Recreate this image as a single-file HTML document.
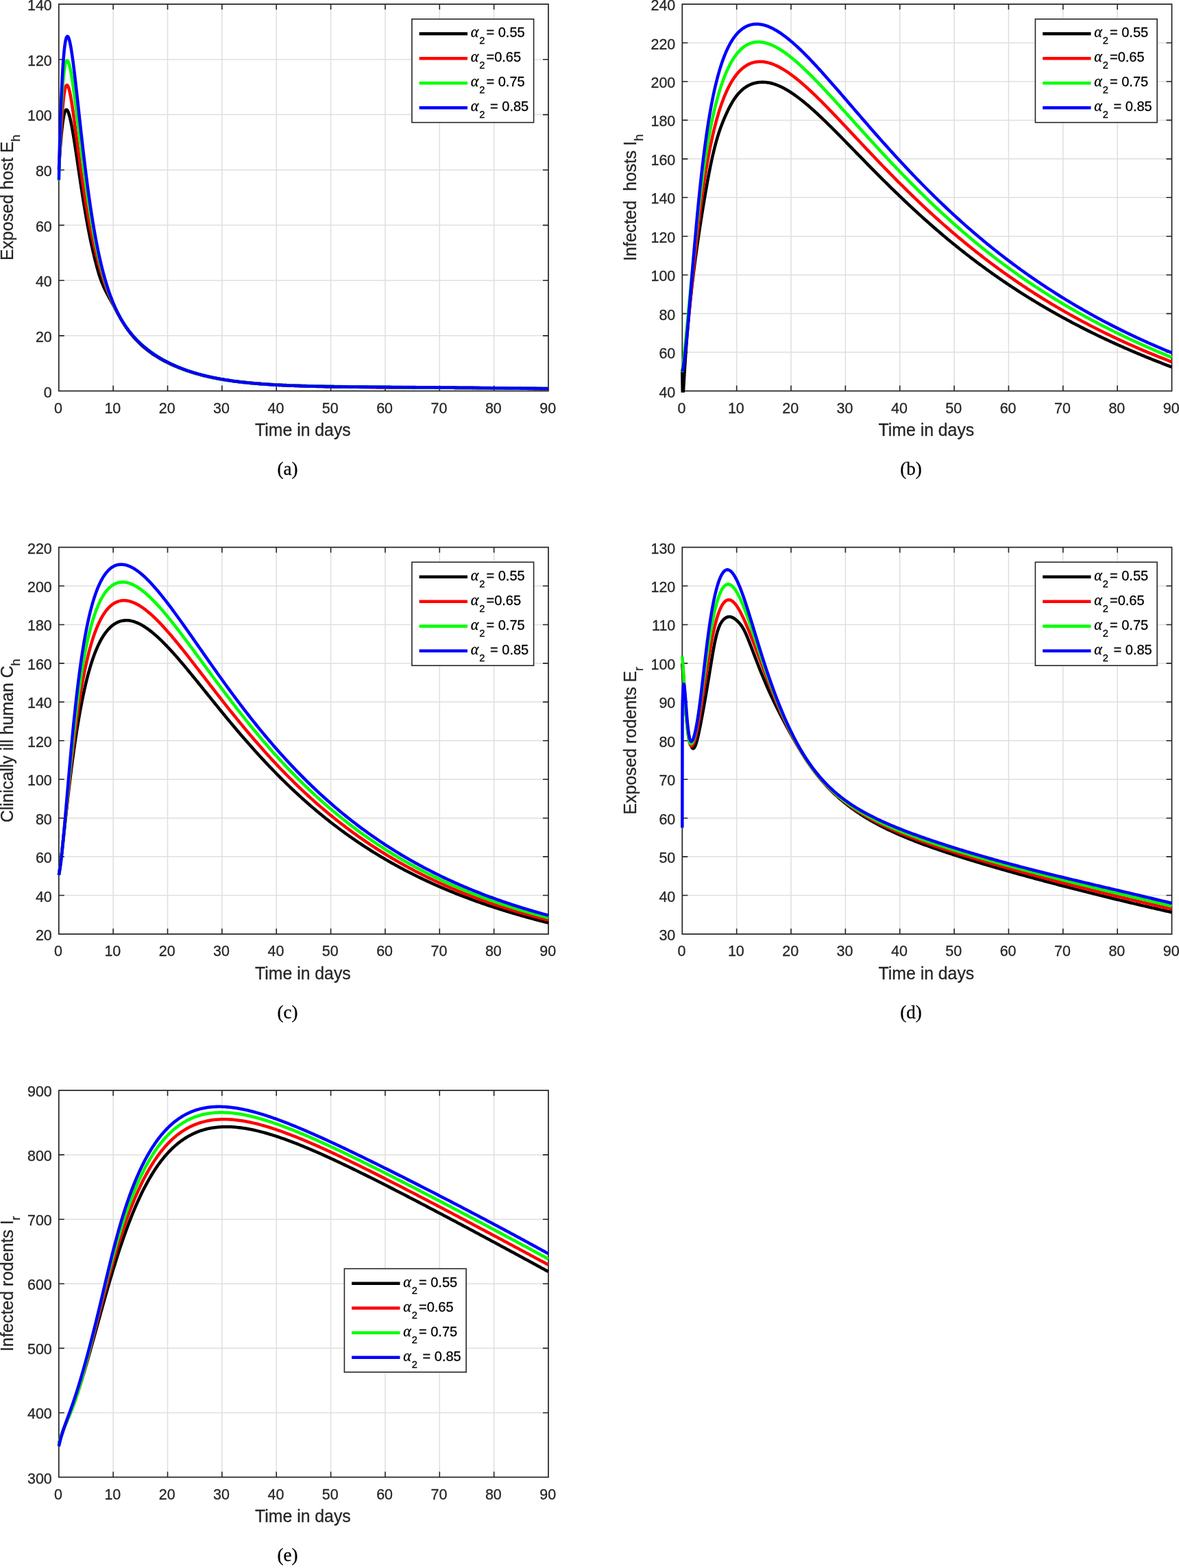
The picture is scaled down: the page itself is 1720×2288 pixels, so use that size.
<!DOCTYPE html>
<html lang="en">
<head>
<meta charset="utf-8">
<title>Effect of fractional order on model compartments</title>
<style>
html,body{margin:0;padding:0;background:#fff}
body{width:1720px;height:2288px;overflow:hidden}
svg{display:block}
text{font-family:"Liberation Sans",sans-serif;fill:#262626;stroke:#262626;stroke-width:0.3px}
.tk text{font-size:21.5px}
.lb{font-size:24.8px}
.sb{font-size:17.8px}
.lg{font-size:20px;fill:#000;stroke:#000}
.s2{font-size:14.6px}
.al{font-family:"Liberation Serif",serif;font-style:italic;font-size:22px}
.cp{font-family:"Liberation Serif",serif;font-size:27px;fill:#000;stroke:#000}
</style>
</head>
<body>
<svg xmlns="http://www.w3.org/2000/svg" width="1720" height="2288" viewBox="0 0 1720 2288">
<rect width="1720" height="2288" fill="#fff"/>
<defs>
<clipPath id="ca"><rect x="83.5" y="3.8" width="718.8" height="569"/></clipPath>
<clipPath id="cb"><rect x="993" y="3.8" width="718.8" height="569"/></clipPath>
<clipPath id="cc"><rect x="83.5" y="796.3" width="718.8" height="569"/></clipPath>
<clipPath id="cd"><rect x="993" y="796.3" width="718.8" height="569"/></clipPath>
<clipPath id="ce"><rect x="83.5" y="1588.8" width="718.8" height="569"/></clipPath>
</defs>
<g>
<path d="M165.16 6.1V570.5M244.51 6.1V570.5M323.87 6.1V570.5M403.22 6.1V570.5M482.58 6.1V570.5M561.93 6.1V570.5M641.29 6.1V570.5M720.64 6.1V570.5M85.8 489.87H800M85.8 409.24H800M85.8 328.61H800M85.8 247.99H800M85.8 167.36H800M85.8 86.73H800" stroke="#dfdfdf" stroke-width="1.5" fill="none"/>
<path d="M165.16 570.5v-8M165.16 6.1v8M244.51 570.5v-8M244.51 6.1v8M323.87 570.5v-8M323.87 6.1v8M403.22 570.5v-8M403.22 6.1v8M482.58 570.5v-8M482.58 6.1v8M561.93 570.5v-8M561.93 6.1v8M641.29 570.5v-8M641.29 6.1v8M720.64 570.5v-8M720.64 6.1v8M85.8 489.87h8M800 489.87h-8M85.8 409.24h8M800 409.24h-8M85.8 328.61h8M800 328.61h-8M85.8 247.99h8M800 247.99h-8M85.8 167.36h8M800 167.36h-8M85.8 86.73h8M800 86.73h-8" stroke="#262626" stroke-width="1.6" fill="none"/>
<rect x="85.8" y="6.1" width="714.2" height="564.4" fill="none" stroke="#262626" stroke-width="1.75"/>
<g clip-path="url(#ca)" fill="none" stroke-width="4.55" stroke-linejoin="round">
<path d="M85.8 247.51L86 244.1L86.2 240.77L86.4 237.53L86.59 234.37L86.79 231.3L86.99 228.31L87.19 225.4L87.39 222.57L87.59 219.82L87.78 217.14L87.98 214.53L88.18 212L88.38 209.53L88.58 207.14L88.78 204.81L88.97 202.55L89.17 200.35L89.37 198.22L89.57 196.15L89.77 194.14L89.97 192.19L90.16 190.31L90.36 188.48L90.56 186.72L90.76 185.01L90.96 183.37L91.16 181.78L91.35 180.25L91.55 178.78L91.75 177.37L91.95 176.02L92.15 174.72L92.35 173.48L92.55 172.3L92.74 171.18L92.94 170.11L93.14 169.1L93.34 168.14L93.54 167.25L93.74 166.4L93.93 165.62L94.13 164.88L94.33 164.21L94.53 163.58L94.73 163.01L94.93 162.5L95.12 162.04L95.32 161.62L95.52 161.26L95.72 160.95L95.92 160.69L96.12 160.48L96.31 160.32L96.51 160.21L96.71 160.14L96.91 160.11L97.11 160.13L97.31 160.19L97.5 160.29L97.7 160.44L97.9 160.62L98.1 160.84L98.3 161.1L98.5 161.39L98.7 161.73L98.89 162.09L99.09 162.49L99.29 162.92L99.49 163.39L99.69 163.88L99.89 164.41L100.08 164.96L100.28 165.55L100.48 166.16L100.68 166.8L100.88 167.46L101.08 168.15L101.27 168.87L101.47 169.6L101.67 170.37L101.87 171.15L102.07 171.96L102.27 172.78L102.46 173.63L102.66 174.5L102.86 175.38L103.06 176.29L103.26 177.21L103.46 178.15L103.66 179.11L103.85 180.09L104.05 181.08L104.25 182.08L104.45 183.11L104.65 184.14L104.85 185.19L105.04 186.26L105.24 187.34L105.44 188.43L105.64 189.53L105.84 190.65L106.04 191.78L106.23 192.92L106.43 194.08L106.63 195.24L106.83 196.42L107.03 197.61L107.23 198.8L107.42 200.01L107.62 201.22L107.82 202.45L108.02 203.68L108.22 204.92L108.42 206.17L108.61 207.42L108.81 208.69L109.01 209.95L109.21 211.23L109.41 212.51L109.61 213.8L109.81 215.09L110 216.39L110.2 217.69L110.4 218.99L110.6 220.3L110.8 221.62L111 222.94L111.19 224.26L111.39 225.58L111.59 226.91L111.79 228.23L111.99 229.57L112.19 230.9L112.38 232.23L112.58 233.57L112.78 234.91L112.98 236.25L113.18 237.58L113.38 238.92L113.57 240.26L113.77 241.6L113.97 242.94L114.17 244.28L114.37 245.62L114.57 246.96L114.76 248.3L114.96 249.64L115.16 250.97L115.36 252.31L115.56 253.64L115.76 254.97L115.96 256.3L116.15 257.63L116.35 258.96L116.55 260.28L116.75 261.6L116.95 262.92L117.15 264.24L117.34 265.55L117.54 266.86L117.74 268.17L117.94 269.47L118.14 270.77L118.34 272.07L118.53 273.37L118.73 274.66L118.93 275.94L119.13 277.23L119.33 278.51L119.53 279.78L119.72 281.05L119.92 282.32L120.12 283.58L120.32 284.84L120.52 286.1L120.72 287.35L120.91 288.6L121.11 289.84L121.31 291.07L121.51 292.31L121.71 293.53L121.91 294.76L122.11 295.97L122.3 297.19L122.5 298.4L122.7 299.6L122.9 300.8L123.1 301.99L123.3 303.18L123.49 304.36L123.69 305.54L123.89 306.72L124.09 307.88L124.29 309.05L124.49 310.2L124.68 311.36L124.88 312.5L125.08 313.64L125.28 314.78L125.48 315.91L125.68 317.04L125.87 318.16L126.07 319.27L126.27 320.38L126.47 321.49L126.67 322.58L126.87 323.68L127.06 324.77L127.26 325.85L127.46 326.92L127.66 328L127.86 329.06L128.06 330.12L128.26 331.18L128.45 332.23L128.65 333.27L128.85 334.31L129.05 335.34L129.25 336.37L129.45 337.39L129.64 338.41L129.84 339.42L130.04 340.43L130.24 341.43L130.44 342.43L130.64 343.42L130.83 344.4L131.03 345.38L131.23 346.35L131.43 347.32L131.63 348.29L131.83 349.25L132.02 350.2L132.22 351.15L132.42 352.09L132.62 353.03L132.82 353.96L133.02 354.89L133.21 355.81L133.41 356.73L135.4 365.62L137.38 374.02L139.37 381.96L141.35 389.47L143.33 396.53L145.32 402.99L147.3 408.75L149.28 413.86L151.27 418.46L153.25 422.69L155.24 426.66L157.22 430.45L159.2 434.14L161.19 437.77L163.17 441.38L165.16 445.02L167.14 448.7L169.12 452.39L171.11 456.05L173.09 459.66L175.07 463.19L177.06 466.62L179.04 469.94L181.03 473.12L183.01 476.17L184.99 479.08L186.98 481.85L188.96 484.51L190.95 487.05L192.93 489.48L194.91 491.81L196.9 494.05L198.88 496.2L200.87 498.26L202.85 500.24L204.83 502.15L206.82 503.99L208.8 505.76L210.78 507.47L212.77 509.12L214.75 510.7L216.74 512.24L218.72 513.72L220.7 515.15L222.69 516.54L224.67 517.88L226.66 519.18L228.64 520.43L230.62 521.65L232.61 522.83L234.59 523.98L236.58 525.09L238.56 526.17L240.54 527.22L242.53 528.25L244.51 529.24L246.5 530.21L248.48 531.15L250.46 532.07L252.45 532.97L254.43 533.84L256.41 534.69L258.4 535.51L260.38 536.32L262.37 537.1L264.35 537.87L266.33 538.61L268.32 539.34L270.3 540.04L272.29 540.73L274.27 541.4L276.25 542.06L278.24 542.69L280.22 543.31L282.21 543.91L284.19 544.5L286.17 545.08L288.16 545.63L290.14 546.18L292.12 546.71L294.11 547.22L296.09 547.72L298.08 548.21L300.06 548.69L302.04 549.15L304.03 549.6L306.01 550.04L308 550.47L309.98 550.89L311.96 551.29L313.95 551.69L315.93 552.07L317.92 552.44L319.9 552.81L321.88 553.16L323.87 553.5L325.85 553.84L327.83 554.16L329.82 554.48L331.8 554.79L333.79 555.08L335.77 555.38L337.75 555.66L339.74 555.93L341.72 556.2L343.71 556.46L345.69 556.71L347.67 556.96L349.66 557.2L351.64 557.43L353.63 557.65L355.61 557.87L357.59 558.09L359.58 558.29L361.56 558.5L363.54 558.69L365.53 558.88L367.51 559.07L369.5 559.25L371.48 559.42L373.46 559.59L375.45 559.76L377.43 559.92L379.42 560.08L381.4 560.23L383.38 560.38L385.37 560.52L387.35 560.66L389.34 560.8L391.32 560.93L393.3 561.06L395.29 561.18L397.27 561.3L399.25 561.42L401.24 561.54L403.22 561.65L405.21 561.76L407.19 561.86L409.17 561.97L411.16 562.06L413.14 562.16L415.13 562.26L417.11 562.35L419.09 562.44L421.08 562.52L423.06 562.61L425.05 562.69L427.03 562.77L429.01 562.84L431 562.92L432.98 562.99L434.96 563.06L436.95 563.13L438.93 563.2L440.92 563.26L442.9 563.33L444.88 563.39L446.87 563.45L448.85 563.51L450.84 563.56L452.82 563.62L454.8 563.67L456.79 563.73L458.77 563.78L460.76 563.83L462.74 563.87L464.72 563.92L466.71 563.96L468.69 564.01L470.67 564.05L472.66 564.09L474.64 564.13L476.63 564.17L478.61 564.21L480.59 564.25L482.58 564.29L484.56 564.32L486.55 564.36L488.53 564.39L490.51 564.42L492.5 564.45L494.48 564.48L496.47 564.51L498.45 564.54L500.43 564.57L502.42 564.6L504.4 564.63L506.38 564.65L508.37 564.68L510.35 564.71L512.34 564.73L514.32 564.75L516.3 564.78L518.29 564.8L520.27 564.82L522.26 564.85L524.24 564.87L526.22 564.89L528.21 564.91L530.19 564.93L532.17 564.95L534.16 564.97L536.14 564.99L538.13 565L540.11 565.02L542.09 565.04L544.08 565.06L546.06 565.07L548.05 565.09L550.03 565.11L552.01 565.12L554 565.14L555.98 565.15L557.97 565.17L559.95 565.18L561.93 565.2L563.92 565.21L565.9 565.23L567.88 565.24L569.87 565.26L571.85 565.27L573.84 565.28L575.82 565.3L577.8 565.31L579.79 565.32L581.77 565.34L583.76 565.35L585.74 565.36L587.72 565.38L589.71 565.39L591.69 565.4L593.68 565.41L595.66 565.43L597.64 565.44L599.63 565.45L601.61 565.46L603.6 565.48L605.58 565.49L607.56 565.5L609.55 565.51L611.53 565.53L613.51 565.54L615.5 565.55L617.48 565.56L619.47 565.57L621.45 565.59L623.43 565.6L625.42 565.61L627.4 565.62L629.39 565.64L631.37 565.65L633.35 565.66L635.34 565.67L637.32 565.69L639.3 565.7L641.29 565.71L643.27 565.72L645.26 565.74L647.24 565.75L649.22 565.76L651.21 565.78L653.19 565.79L655.18 565.8L657.16 565.82L659.14 565.83L661.13 565.84L663.11 565.86L665.1 565.87L667.08 565.89L669.06 565.9L671.05 565.91L673.03 565.93L675.01 565.94L677 565.96L678.98 565.97L680.97 565.99L682.95 566L684.93 566.02L686.92 566.03L688.9 566.05L690.89 566.07L692.87 566.08L694.85 566.1L696.84 566.11L698.82 566.13L700.81 566.15L702.79 566.16L704.77 566.18L706.76 566.2L708.74 566.22L710.73 566.23L712.71 566.25L714.69 566.27L716.68 566.29L718.66 566.31L720.64 566.33L722.63 566.35L724.61 566.36L726.6 566.38L728.58 566.4L730.56 566.42L732.55 566.44L734.53 566.46L736.52 566.49L738.5 566.51L740.48 566.53L742.47 566.55L744.45 566.57L746.44 566.59L748.42 566.61L750.4 566.64L752.39 566.66L754.37 566.68L756.35 566.7L758.34 566.73L760.32 566.75L762.31 566.78L764.29 566.8L766.27 566.82L768.26 566.85L770.24 566.87L772.23 566.9L774.21 566.92L776.19 566.95L778.18 566.98L780.16 567L782.14 567.03L784.13 567.06L786.11 567.08L788.1 567.11L790.08 567.14L792.06 567.17L794.05 567.2L796.03 567.22L798.02 567.25L800 567.28" stroke="#000"/>
<path d="M85.8 246.86L86 243.57L86.2 240.19L86.4 236.76L86.59 233.28L86.79 229.77L86.99 226.24L87.19 222.7L87.39 219.17L87.59 215.64L87.78 212.14L87.98 208.66L88.18 205.22L88.38 201.81L88.58 198.46L88.78 195.15L88.97 191.9L89.17 188.72L89.37 185.59L89.57 182.54L89.77 179.55L89.97 176.64L90.16 173.8L90.36 171.04L90.56 168.35L90.76 165.75L90.96 163.22L91.16 160.78L91.35 158.42L91.55 156.15L91.75 153.95L91.95 151.84L92.15 149.82L92.35 147.87L92.55 146.01L92.74 144.23L92.94 142.54L93.14 140.92L93.34 139.39L93.54 137.94L93.74 136.56L93.93 135.27L94.13 134.05L94.33 132.91L94.53 131.85L94.73 130.86L94.93 129.94L95.12 129.1L95.32 128.33L95.52 127.63L95.72 126.99L95.92 126.43L96.12 125.93L96.31 125.5L96.51 125.13L96.71 124.82L96.91 124.57L97.11 124.39L97.31 124.26L97.5 124.19L97.7 124.18L97.9 124.22L98.1 124.32L98.3 124.47L98.5 124.67L98.7 124.93L98.89 125.23L99.09 125.58L99.29 125.98L99.49 126.42L99.69 126.91L99.89 127.44L100.08 128.01L100.28 128.63L100.48 129.28L100.68 129.97L100.88 130.7L101.08 131.46L101.27 132.26L101.47 133.1L101.67 133.96L101.87 134.86L102.07 135.79L102.27 136.75L102.46 137.74L102.66 138.75L102.86 139.79L103.06 140.86L103.26 141.95L103.46 143.07L103.66 144.21L103.85 145.37L104.05 146.55L104.25 147.75L104.45 148.98L104.65 150.22L104.85 151.48L105.04 152.75L105.24 154.05L105.44 155.35L105.64 156.68L105.84 158.02L106.04 159.37L106.23 160.73L106.43 162.11L106.63 163.5L106.83 164.89L107.03 166.3L107.23 167.72L107.42 169.15L107.62 170.59L107.82 172.03L108.02 173.49L108.22 174.95L108.42 176.41L108.61 177.88L108.81 179.36L109.01 180.85L109.21 182.33L109.41 183.83L109.61 185.32L109.81 186.82L110 188.33L110.2 189.83L110.4 191.34L110.6 192.85L110.8 194.36L111 195.88L111.19 197.39L111.39 198.91L111.59 200.43L111.79 201.94L111.99 203.46L112.19 204.97L112.38 206.49L112.58 208L112.78 209.52L112.98 211.03L113.18 212.54L113.38 214.05L113.57 215.56L113.77 217.06L113.97 218.57L114.17 220.07L114.37 221.56L114.57 223.06L114.76 224.55L114.96 226.04L115.16 227.52L115.36 229L115.56 230.48L115.76 231.95L115.96 233.42L116.15 234.89L116.35 236.35L116.55 237.81L116.75 239.26L116.95 240.71L117.15 242.15L117.34 243.59L117.54 245.02L117.74 246.45L117.94 247.87L118.14 249.29L118.34 250.7L118.53 252.11L118.73 253.51L118.93 254.91L119.13 256.3L119.33 257.69L119.53 259.07L119.72 260.44L119.92 261.81L120.12 263.18L120.32 264.53L120.52 265.89L120.72 267.23L120.91 268.57L121.11 269.91L121.31 271.23L121.51 272.56L121.71 273.87L121.91 275.18L122.11 276.49L122.3 277.78L122.5 279.08L122.7 280.36L122.9 281.64L123.1 282.91L123.3 284.18L123.49 285.44L123.69 286.7L123.89 287.94L124.09 289.19L124.29 290.42L124.49 291.65L124.68 292.88L124.88 294.09L125.08 295.31L125.28 296.51L125.48 297.71L125.68 298.9L125.87 300.09L126.07 301.27L126.27 302.44L126.47 303.61L126.67 304.77L126.87 305.93L127.06 307.08L127.26 308.22L127.46 309.36L127.66 310.49L127.86 311.61L128.06 312.73L128.26 313.85L128.45 314.95L128.65 316.05L128.85 317.15L129.05 318.24L129.25 319.32L129.45 320.4L129.64 321.47L129.84 322.54L130.04 323.6L130.24 324.65L130.44 325.7L130.64 326.74L130.83 327.78L131.03 328.81L131.23 329.83L131.43 330.85L131.63 331.86L131.83 332.87L132.02 333.88L132.22 334.87L132.42 335.86L132.62 336.85L132.82 337.83L133.02 338.8L133.21 339.77L133.41 340.74L135.4 350.09L137.38 358.92L139.37 367.28L141.35 375.18L143.33 382.66L145.32 389.75L147.3 396.47L149.28 402.84L151.27 408.9L153.25 414.67L155.24 420.16L157.22 425.4L159.2 430.4L161.19 435.18L163.17 439.75L165.16 444.12L167.14 448.32L169.12 452.33L171.11 456.18L173.09 459.86L175.07 463.38L177.06 466.75L179.04 469.97L181.03 473.05L183.01 476L184.99 478.82L186.98 481.51L188.96 484.1L190.95 486.57L192.93 488.95L194.91 491.23L196.9 493.43L198.88 495.54L200.87 497.58L202.85 499.54L204.83 501.43L206.82 503.25L208.8 505.01L210.78 506.71L212.77 508.35L214.75 509.94L216.74 511.47L218.72 512.96L220.7 514.4L222.69 515.8L224.67 517.15L226.66 518.47L228.64 519.74L230.62 520.98L232.61 522.18L234.59 523.36L236.58 524.49L238.56 525.6L240.54 526.68L242.53 527.73L244.51 528.76L246.5 529.76L248.48 530.73L250.46 531.69L252.45 532.61L254.43 533.52L256.41 534.4L258.4 535.26L260.38 536.1L262.37 536.92L264.35 537.72L266.33 538.5L268.32 539.25L270.3 539.99L272.29 540.71L274.27 541.41L276.25 542.09L278.24 542.75L280.22 543.4L282.21 544.02L284.19 544.63L286.17 545.22L288.16 545.8L290.14 546.35L292.12 546.9L294.11 547.42L296.09 547.93L298.08 548.42L300.06 548.89L302.04 549.35L304.03 549.8L306.01 550.23L308 550.65L309.98 551.05L311.96 551.45L313.95 551.83L315.93 552.2L317.92 552.56L319.9 552.9L321.88 553.24L323.87 553.57L325.85 553.89L327.83 554.2L329.82 554.5L331.8 554.8L333.79 555.08L335.77 555.36L337.75 555.63L339.74 555.89L341.72 556.15L343.71 556.4L345.69 556.64L347.67 556.87L349.66 557.1L351.64 557.33L353.63 557.54L355.61 557.75L357.59 557.96L359.58 558.16L361.56 558.35L363.54 558.54L365.53 558.72L367.51 558.9L369.5 559.07L371.48 559.24L373.46 559.41L375.45 559.57L377.43 559.72L379.42 559.87L381.4 560.02L383.38 560.16L385.37 560.3L387.35 560.44L389.34 560.57L391.32 560.7L393.3 560.82L395.29 560.94L397.27 561.06L399.25 561.18L401.24 561.29L403.22 561.4L405.21 561.5L407.19 561.61L409.17 561.71L411.16 561.8L413.14 561.9L415.13 561.99L417.11 562.08L419.09 562.17L421.08 562.26L423.06 562.34L425.05 562.42L427.03 562.5L429.01 562.58L431 562.65L432.98 562.72L434.96 562.8L436.95 562.86L438.93 562.93L440.92 563L442.9 563.06L444.88 563.12L446.87 563.18L448.85 563.24L450.84 563.3L452.82 563.36L454.8 563.41L456.79 563.47L458.77 563.52L460.76 563.57L462.74 563.62L464.72 563.67L466.71 563.71L468.69 563.76L470.67 563.81L472.66 563.85L474.64 563.89L476.63 563.93L478.61 563.97L480.59 564.01L482.58 564.05L484.56 564.09L486.55 564.13L488.53 564.16L490.51 564.2L492.5 564.23L494.48 564.27L496.47 564.3L498.45 564.33L500.43 564.36L502.42 564.39L504.4 564.43L506.38 564.45L508.37 564.48L510.35 564.51L512.34 564.54L514.32 564.57L516.3 564.59L518.29 564.62L520.27 564.64L522.26 564.67L524.24 564.69L526.22 564.72L528.21 564.74L530.19 564.77L532.17 564.79L534.16 564.81L536.14 564.83L538.13 564.85L540.11 564.88L542.09 564.9L544.08 564.92L546.06 564.94L548.05 564.96L550.03 564.98L552.01 565L554 565.01L555.98 565.03L557.97 565.05L559.95 565.07L561.93 565.09L563.92 565.1L565.9 565.12L567.88 565.14L569.87 565.16L571.85 565.17L573.84 565.19L575.82 565.21L577.8 565.22L579.79 565.24L581.77 565.25L583.76 565.27L585.74 565.29L587.72 565.3L589.71 565.32L591.69 565.33L593.68 565.35L595.66 565.36L597.64 565.38L599.63 565.39L601.61 565.41L603.6 565.42L605.58 565.44L607.56 565.45L609.55 565.47L611.53 565.48L613.51 565.49L615.5 565.51L617.48 565.52L619.47 565.54L621.45 565.55L623.43 565.57L625.42 565.58L627.4 565.59L629.39 565.61L631.37 565.62L633.35 565.64L635.34 565.65L637.32 565.67L639.3 565.68L641.29 565.69L643.27 565.71L645.26 565.72L647.24 565.74L649.22 565.75L651.21 565.76L653.19 565.78L655.18 565.79L657.16 565.81L659.14 565.82L661.13 565.84L663.11 565.85L665.1 565.87L667.08 565.88L669.06 565.9L671.05 565.91L673.03 565.92L675.01 565.94L677 565.95L678.98 565.97L680.97 565.99L682.95 566L684.93 566.02L686.92 566.03L688.9 566.05L690.89 566.06L692.87 566.08L694.85 566.09L696.84 566.11L698.82 566.13L700.81 566.14L702.79 566.16L704.77 566.17L706.76 566.19L708.74 566.21L710.73 566.22L712.71 566.24L714.69 566.26L716.68 566.27L718.66 566.29L720.64 566.31L722.63 566.33L724.61 566.34L726.6 566.36L728.58 566.38L730.56 566.4L732.55 566.42L734.53 566.43L736.52 566.45L738.5 566.47L740.48 566.49L742.47 566.51L744.45 566.53L746.44 566.55L748.42 566.57L750.4 566.59L752.39 566.6L754.37 566.62L756.35 566.64L758.34 566.66L760.32 566.68L762.31 566.71L764.29 566.73L766.27 566.75L768.26 566.77L770.24 566.79L772.23 566.81L774.21 566.83L776.19 566.85L778.18 566.88L780.16 566.9L782.14 566.92L784.13 566.94L786.11 566.96L788.1 566.99L790.08 567.01L792.06 567.03L794.05 567.06L796.03 567.08L798.02 567.1L800 567.13" stroke="#f00"/>
<path d="M85.8 263.6L86 256.31L86.2 249.23L86.4 242.36L86.59 235.69L86.79 229.24L86.99 222.98L87.19 216.91L87.39 211.03L87.59 205.35L87.78 199.84L87.98 194.51L88.18 189.36L88.38 184.38L88.58 179.56L88.78 174.91L88.97 170.42L89.17 166.09L89.37 161.91L89.57 157.88L89.77 153.99L89.97 150.25L90.16 146.65L90.36 143.19L90.56 139.86L90.76 136.67L90.96 133.6L91.16 130.66L91.35 127.84L91.55 125.14L91.75 122.56L91.95 120.09L92.15 117.74L92.35 115.49L92.55 113.35L92.74 111.32L92.94 109.39L93.14 107.56L93.34 105.83L93.54 104.19L93.74 102.65L93.93 101.2L94.13 99.84L94.33 98.56L94.53 97.37L94.73 96.26L94.93 95.24L95.12 94.29L95.32 93.42L95.52 92.62L95.72 91.9L95.92 91.25L96.12 90.67L96.31 90.16L96.51 89.72L96.71 89.34L96.91 89.03L97.11 88.77L97.31 88.58L97.5 88.44L97.7 88.37L97.9 88.35L98.1 88.38L98.3 88.47L98.5 88.61L98.7 88.79L98.89 89.03L99.09 89.32L99.29 89.65L99.49 90.03L99.69 90.45L99.89 90.92L100.08 91.42L100.28 91.97L100.48 92.56L100.68 93.18L100.88 93.85L101.08 94.55L101.27 95.28L101.47 96.05L101.67 96.85L101.87 97.69L102.07 98.56L102.27 99.45L102.46 100.38L102.66 101.34L102.86 102.32L103.06 103.33L103.26 104.37L103.46 105.43L103.66 106.52L103.85 107.63L104.05 108.77L104.25 109.93L104.45 111.1L104.65 112.3L104.85 113.52L105.04 114.76L105.24 116.02L105.44 117.3L105.64 118.6L105.84 119.91L106.04 121.24L106.23 122.58L106.43 123.94L106.63 125.31L106.83 126.7L107.03 128.1L107.23 129.52L107.42 130.95L107.62 132.39L107.82 133.84L108.02 135.3L108.22 136.77L108.42 138.25L108.61 139.75L108.81 141.25L109.01 142.76L109.21 144.28L109.41 145.8L109.61 147.34L109.81 148.88L110 150.43L110.2 151.98L110.4 153.54L110.6 155.11L110.8 156.68L111 158.26L111.19 159.84L111.39 161.42L111.59 163.01L111.79 164.61L111.99 166.2L112.19 167.8L112.38 169.4L112.58 171.01L112.78 172.61L112.98 174.22L113.18 175.83L113.38 177.44L113.57 179.06L113.77 180.67L113.97 182.28L114.17 183.9L114.37 185.51L114.57 187.13L114.76 188.74L114.96 190.36L115.16 191.97L115.36 193.58L115.56 195.2L115.76 196.81L115.96 198.41L116.15 200.02L116.35 201.63L116.55 203.23L116.75 204.83L116.95 206.43L117.15 208.03L117.34 209.63L117.54 211.22L117.74 212.81L117.94 214.39L118.14 215.98L118.34 217.56L118.53 219.13L118.73 220.7L118.93 222.27L119.13 223.84L119.33 225.4L119.53 226.96L119.72 228.51L119.92 230.06L120.12 231.61L120.32 233.15L120.52 234.69L120.72 236.22L120.91 237.75L121.11 239.27L121.31 240.79L121.51 242.3L121.71 243.81L121.91 245.31L122.11 246.81L122.3 248.3L122.5 249.79L122.7 251.27L122.9 252.75L123.1 254.22L123.3 255.69L123.49 257.15L123.69 258.61L123.89 260.06L124.09 261.5L124.29 262.94L124.49 264.37L124.68 265.8L124.88 267.22L125.08 268.64L125.28 270.05L125.48 271.45L125.68 272.85L125.87 274.24L126.07 275.63L126.27 277.01L126.47 278.38L126.67 279.75L126.87 281.11L127.06 282.47L127.26 283.82L127.46 285.16L127.66 286.5L127.86 287.83L128.06 289.15L128.26 290.47L128.45 291.78L128.65 293.09L128.85 294.39L129.05 295.68L129.25 296.97L129.45 298.25L129.64 299.53L129.84 300.8L130.04 302.06L130.24 303.31L130.44 304.56L130.64 305.81L130.83 307.04L131.03 308.27L131.23 309.5L131.43 310.72L131.63 311.93L131.83 313.14L132.02 314.34L132.22 315.53L132.42 316.72L132.62 317.9L132.82 319.07L133.02 320.24L133.21 321.4L133.41 322.56L135.4 333.78L137.38 344.4L139.37 354.44L141.35 363.92L143.33 372.86L145.32 381.28L147.3 389.22L149.28 396.7L151.27 403.75L153.25 410.4L155.24 416.66L157.22 422.56L159.2 428.13L161.19 433.38L163.17 438.34L165.16 443.03L167.14 447.47L169.12 451.67L171.11 455.66L173.09 459.43L175.07 463.02L177.06 466.43L179.04 469.68L181.03 472.77L183.01 475.72L184.99 478.54L186.98 481.23L188.96 483.81L190.95 486.27L192.93 488.64L194.91 490.92L196.9 493.1L198.88 495.2L200.87 497.23L202.85 499.18L204.83 501.06L206.82 502.88L208.8 504.63L210.78 506.33L212.77 507.98L214.75 509.57L216.74 511.11L218.72 512.61L220.7 514.06L222.69 515.46L224.67 516.83L226.66 518.16L228.64 519.45L230.62 520.71L232.61 521.93L234.59 523.11L236.58 524.27L238.56 525.39L240.54 526.48L242.53 527.55L244.51 528.59L246.5 529.6L248.48 530.58L250.46 531.54L252.45 532.47L254.43 533.38L256.41 534.26L258.4 535.12L260.38 535.96L262.37 536.78L264.35 537.57L266.33 538.35L268.32 539.1L270.3 539.84L272.29 540.55L274.27 541.25L276.25 541.93L278.24 542.59L280.22 543.23L282.21 543.86L284.19 544.46L286.17 545.06L288.16 545.63L290.14 546.19L292.12 546.74L294.11 547.27L296.09 547.78L298.08 548.28L300.06 548.77L302.04 549.24L304.03 549.7L306.01 550.15L308 550.59L309.98 551.01L311.96 551.42L313.95 551.82L315.93 552.2L317.92 552.58L319.9 552.94L321.88 553.3L323.87 553.64L325.85 553.98L327.83 554.3L329.82 554.61L331.8 554.92L333.79 555.22L335.77 555.5L337.75 555.78L339.74 556.05L341.72 556.32L343.71 556.57L345.69 556.82L347.67 557.06L349.66 557.29L351.64 557.51L353.63 557.73L355.61 557.94L357.59 558.15L359.58 558.35L361.56 558.54L363.54 558.73L365.53 558.91L367.51 559.08L369.5 559.26L371.48 559.42L373.46 559.58L375.45 559.74L377.43 559.89L379.42 560.03L381.4 560.17L383.38 560.31L385.37 560.44L387.35 560.57L389.34 560.7L391.32 560.82L393.3 560.94L395.29 561.05L397.27 561.16L399.25 561.27L401.24 561.37L403.22 561.47L405.21 561.57L407.19 561.67L409.17 561.76L411.16 561.85L413.14 561.93L415.13 562.02L417.11 562.1L419.09 562.18L421.08 562.26L423.06 562.33L425.05 562.4L427.03 562.48L429.01 562.54L431 562.61L432.98 562.68L434.96 562.74L436.95 562.8L438.93 562.86L440.92 562.92L442.9 562.98L444.88 563.03L446.87 563.08L448.85 563.14L450.84 563.19L452.82 563.24L454.8 563.29L456.79 563.33L458.77 563.38L460.76 563.43L462.74 563.47L464.72 563.51L466.71 563.55L468.69 563.6L470.67 563.64L472.66 563.67L474.64 563.71L476.63 563.75L478.61 563.79L480.59 563.82L482.58 563.86L484.56 563.89L486.55 563.93L488.53 563.96L490.51 563.99L492.5 564.02L494.48 564.06L496.47 564.09L498.45 564.12L500.43 564.15L502.42 564.18L504.4 564.2L506.38 564.23L508.37 564.26L510.35 564.29L512.34 564.32L514.32 564.34L516.3 564.37L518.29 564.39L520.27 564.42L522.26 564.44L524.24 564.47L526.22 564.49L528.21 564.52L530.19 564.54L532.17 564.57L534.16 564.59L536.14 564.61L538.13 564.64L540.11 564.66L542.09 564.68L544.08 564.7L546.06 564.73L548.05 564.75L550.03 564.77L552.01 564.79L554 564.81L555.98 564.83L557.97 564.85L559.95 564.87L561.93 564.9L563.92 564.92L565.9 564.94L567.88 564.96L569.87 564.98L571.85 565L573.84 565.02L575.82 565.04L577.8 565.06L579.79 565.08L581.77 565.09L583.76 565.11L585.74 565.13L587.72 565.15L589.71 565.17L591.69 565.19L593.68 565.21L595.66 565.23L597.64 565.25L599.63 565.27L601.61 565.28L603.6 565.3L605.58 565.32L607.56 565.34L609.55 565.36L611.53 565.38L613.51 565.39L615.5 565.41L617.48 565.43L619.47 565.45L621.45 565.47L623.43 565.49L625.42 565.5L627.4 565.52L629.39 565.54L631.37 565.56L633.35 565.57L635.34 565.59L637.32 565.61L639.3 565.63L641.29 565.65L643.27 565.66L645.26 565.68L647.24 565.7L649.22 565.72L651.21 565.73L653.19 565.75L655.18 565.77L657.16 565.79L659.14 565.8L661.13 565.82L663.11 565.84L665.1 565.86L667.08 565.87L669.06 565.89L671.05 565.91L673.03 565.93L675.01 565.94L677 565.96L678.98 565.98L680.97 565.99L682.95 566.01L684.93 566.03L686.92 566.05L688.9 566.06L690.89 566.08L692.87 566.1L694.85 566.12L696.84 566.13L698.82 566.15L700.81 566.17L702.79 566.18L704.77 566.2L706.76 566.22L708.74 566.24L710.73 566.25L712.71 566.27L714.69 566.29L716.68 566.3L718.66 566.32L720.64 566.34L722.63 566.36L724.61 566.37L726.6 566.39L728.58 566.41L730.56 566.42L732.55 566.44L734.53 566.46L736.52 566.47L738.5 566.49L740.48 566.51L742.47 566.53L744.45 566.54L746.44 566.56L748.42 566.58L750.4 566.59L752.39 566.61L754.37 566.63L756.35 566.64L758.34 566.66L760.32 566.68L762.31 566.69L764.29 566.71L766.27 566.73L768.26 566.75L770.24 566.76L772.23 566.78L774.21 566.8L776.19 566.81L778.18 566.83L780.16 566.85L782.14 566.86L784.13 566.88L786.11 566.9L788.1 566.91L790.08 566.93L792.06 566.95L794.05 566.96L796.03 566.98L798.02 567L800 567.02" stroke="#0f0"/>
<path d="M85.8 262.66L86 254.28L86.2 246.14L86.4 238.23L86.59 230.56L86.79 223.1L86.99 215.86L87.19 208.84L87.39 202.03L87.59 195.43L87.78 189.02L87.98 182.82L88.18 176.81L88.38 170.98L88.58 165.35L88.78 159.9L88.97 154.62L89.17 149.52L89.37 144.6L89.57 139.84L89.77 135.24L89.97 130.81L90.16 126.53L90.36 122.41L90.56 118.44L90.76 114.62L90.96 110.94L91.16 107.4L91.35 104.01L91.55 100.75L91.75 97.62L91.95 94.62L92.15 91.76L92.35 89.01L92.55 86.39L92.74 83.89L92.94 81.5L93.14 79.23L93.34 77.07L93.54 75.02L93.74 73.08L93.93 71.25L94.13 69.51L94.33 67.88L94.53 66.34L94.73 64.9L94.93 63.55L95.12 62.29L95.32 61.13L95.52 60.05L95.72 59.06L95.92 58.14L96.12 57.32L96.31 56.57L96.51 55.9L96.71 55.3L96.91 54.78L97.11 54.33L97.31 53.95L97.5 53.64L97.7 53.4L97.9 53.22L98.1 53.11L98.3 53.06L98.5 53.08L98.7 53.15L98.89 53.28L99.09 53.46L99.29 53.7L99.49 54L99.69 54.34L99.89 54.74L100.08 55.19L100.28 55.68L100.48 56.23L100.68 56.82L100.88 57.45L101.08 58.13L101.27 58.85L101.47 59.61L101.67 60.41L101.87 61.25L102.07 62.13L102.27 63.04L102.46 63.99L102.66 64.98L102.86 66L103.06 67.05L103.26 68.13L103.46 69.25L103.66 70.39L103.85 71.57L104.05 72.77L104.25 74L104.45 75.26L104.65 76.54L104.85 77.84L105.04 79.18L105.24 80.53L105.44 81.91L105.64 83.3L105.84 84.72L106.04 86.16L106.23 87.62L106.43 89.1L106.63 90.6L106.83 92.11L107.03 93.64L107.23 95.19L107.42 96.75L107.62 98.33L107.82 99.92L108.02 101.53L108.22 103.15L108.42 104.78L108.61 106.43L108.81 108.09L109.01 109.75L109.21 111.43L109.41 113.12L109.61 114.82L109.81 116.53L110 118.24L110.2 119.97L110.4 121.7L110.6 123.44L110.8 125.19L111 126.94L111.19 128.7L111.39 130.47L111.59 132.24L111.79 134.02L111.99 135.8L112.19 137.58L112.38 139.37L112.58 141.16L112.78 142.96L112.98 144.76L113.18 146.56L113.38 148.36L113.57 150.17L113.77 151.98L113.97 153.79L114.17 155.6L114.37 157.41L114.57 159.22L114.76 161.03L114.96 162.84L115.16 164.65L115.36 166.46L115.56 168.27L115.76 170.08L115.96 171.89L116.15 173.7L116.35 175.5L116.55 177.3L116.75 179.1L116.95 180.9L117.15 182.7L117.34 184.49L117.54 186.29L117.74 188.07L117.94 189.86L118.14 191.64L118.34 193.42L118.53 195.19L118.73 196.96L118.93 198.73L119.13 200.49L119.33 202.25L119.53 204.01L119.72 205.76L119.92 207.5L120.12 209.24L120.32 210.98L120.52 212.71L120.72 214.43L120.91 216.16L121.11 217.87L121.31 219.58L121.51 221.28L121.71 222.98L121.91 224.68L122.11 226.36L122.3 228.05L122.5 229.72L122.7 231.39L122.9 233.05L123.1 234.71L123.3 236.36L123.49 238.01L123.69 239.64L123.89 241.28L124.09 242.9L124.29 244.52L124.49 246.13L124.68 247.74L124.88 249.34L125.08 250.93L125.28 252.51L125.48 254.09L125.68 255.66L125.87 257.23L126.07 258.79L126.27 260.34L126.47 261.88L126.67 263.42L126.87 264.95L127.06 266.47L127.26 267.98L127.46 269.49L127.66 270.99L127.86 272.48L128.06 273.97L128.26 275.45L128.45 276.92L128.65 278.38L128.85 279.84L129.05 281.29L129.25 282.73L129.45 284.17L129.64 285.6L129.84 287.02L130.04 288.43L130.24 289.83L130.44 291.23L130.64 292.62L130.83 294.01L131.03 295.38L131.23 296.75L131.43 298.11L131.63 299.47L131.83 300.81L132.02 302.15L132.22 303.48L132.42 304.81L132.62 306.12L132.82 307.43L133.02 308.74L133.21 310.03L133.41 311.32L135.4 323.8L137.38 335.57L139.37 346.66L141.35 357.09L143.33 366.88L145.32 376.08L147.3 384.71L149.28 392.81L151.27 400.41L153.25 407.54L155.24 414.23L157.22 420.51L159.2 426.41L161.19 431.96L163.17 437.18L165.16 442.09L167.14 446.72L169.12 451.09L171.11 455.22L173.09 459.12L175.07 462.82L177.06 466.32L179.04 469.64L181.03 472.8L183.01 475.81L184.99 478.67L186.98 481.4L188.96 484.01L190.95 486.5L192.93 488.89L194.91 491.18L196.9 493.38L198.88 495.49L200.87 497.52L202.85 499.47L204.83 501.35L206.82 503.16L208.8 504.91L210.78 506.61L212.77 508.24L214.75 509.82L216.74 511.35L218.72 512.84L220.7 514.27L222.69 515.67L224.67 517.02L226.66 518.33L228.64 519.6L230.62 520.84L232.61 522.04L234.59 523.21L236.58 524.35L238.56 525.45L240.54 526.53L242.53 527.58L244.51 528.59L246.5 529.59L248.48 530.55L250.46 531.49L252.45 532.41L254.43 533.3L256.41 534.16L258.4 535.01L260.38 535.83L262.37 536.63L264.35 537.42L266.33 538.18L268.32 538.92L270.3 539.64L272.29 540.35L274.27 541.03L276.25 541.7L278.24 542.35L280.22 542.99L282.21 543.6L284.19 544.2L286.17 544.79L288.16 545.36L290.14 545.92L292.12 546.46L294.11 546.99L296.09 547.5L298.08 548L300.06 548.49L302.04 548.96L304.03 549.43L306.01 549.88L308 550.31L309.98 550.74L311.96 551.15L313.95 551.56L315.93 551.95L317.92 552.33L319.9 552.71L321.88 553.07L323.87 553.42L325.85 553.76L327.83 554.1L329.82 554.42L331.8 554.73L333.79 555.04L335.77 555.34L337.75 555.63L339.74 555.91L341.72 556.18L343.71 556.45L345.69 556.71L347.67 556.96L349.66 557.21L351.64 557.44L353.63 557.67L355.61 557.9L357.59 558.11L359.58 558.33L361.56 558.53L363.54 558.73L365.53 558.92L367.51 559.11L369.5 559.29L371.48 559.47L373.46 559.64L375.45 559.81L377.43 559.97L379.42 560.13L381.4 560.28L383.38 560.43L385.37 560.57L387.35 560.71L389.34 560.85L391.32 560.98L393.3 561.1L395.29 561.23L397.27 561.34L399.25 561.46L401.24 561.57L403.22 561.68L405.21 561.78L407.19 561.89L409.17 561.98L411.16 562.08L413.14 562.17L415.13 562.26L417.11 562.35L419.09 562.43L421.08 562.51L423.06 562.59L425.05 562.67L427.03 562.74L429.01 562.81L431 562.88L432.98 562.95L434.96 563.01L436.95 563.08L438.93 563.14L440.92 563.2L442.9 563.25L444.88 563.31L446.87 563.36L448.85 563.41L450.84 563.46L452.82 563.51L454.8 563.56L456.79 563.6L458.77 563.65L460.76 563.69L462.74 563.73L464.72 563.77L466.71 563.81L468.69 563.85L470.67 563.88L472.66 563.92L474.64 563.95L476.63 563.98L478.61 564.02L480.59 564.05L482.58 564.08L484.56 564.11L486.55 564.13L488.53 564.16L490.51 564.19L492.5 564.21L494.48 564.24L496.47 564.26L498.45 564.29L500.43 564.31L502.42 564.33L504.4 564.35L506.38 564.38L508.37 564.4L510.35 564.42L512.34 564.44L514.32 564.46L516.3 564.47L518.29 564.49L520.27 564.51L522.26 564.53L524.24 564.55L526.22 564.56L528.21 564.58L530.19 564.6L532.17 564.61L534.16 564.63L536.14 564.64L538.13 564.66L540.11 564.67L542.09 564.69L544.08 564.7L546.06 564.72L548.05 564.73L550.03 564.75L552.01 564.76L554 564.78L555.98 564.79L557.97 564.8L559.95 564.82L561.93 564.83L563.92 564.85L565.9 564.86L567.88 564.87L569.87 564.89L571.85 564.9L573.84 564.92L575.82 564.93L577.8 564.94L579.79 564.96L581.77 564.97L583.76 564.98L585.74 565L587.72 565.01L589.71 565.03L591.69 565.04L593.68 565.05L595.66 565.07L597.64 565.08L599.63 565.1L601.61 565.11L603.6 565.12L605.58 565.14L607.56 565.15L609.55 565.17L611.53 565.18L613.51 565.2L615.5 565.21L617.48 565.23L619.47 565.24L621.45 565.26L623.43 565.27L625.42 565.29L627.4 565.31L629.39 565.32L631.37 565.34L633.35 565.35L635.34 565.37L637.32 565.39L639.3 565.4L641.29 565.42L643.27 565.44L645.26 565.45L647.24 565.47L649.22 565.49L651.21 565.5L653.19 565.52L655.18 565.54L657.16 565.56L659.14 565.57L661.13 565.59L663.11 565.61L665.1 565.63L667.08 565.65L669.06 565.67L671.05 565.68L673.03 565.7L675.01 565.72L677 565.74L678.98 565.76L680.97 565.78L682.95 565.8L684.93 565.82L686.92 565.84L688.9 565.86L690.89 565.88L692.87 565.9L694.85 565.92L696.84 565.94L698.82 565.96L700.81 565.98L702.79 566L704.77 566.02L706.76 566.04L708.74 566.06L710.73 566.08L712.71 566.1L714.69 566.12L716.68 566.15L718.66 566.17L720.64 566.19L722.63 566.21L724.61 566.23L726.6 566.25L728.58 566.28L730.56 566.3L732.55 566.32L734.53 566.34L736.52 566.36L738.5 566.39L740.48 566.41L742.47 566.43L744.45 566.45L746.44 566.48L748.42 566.5L750.4 566.52L752.39 566.55L754.37 566.57L756.35 566.59L758.34 566.61L760.32 566.64L762.31 566.66L764.29 566.68L766.27 566.71L768.26 566.73L770.24 566.75L772.23 566.78L774.21 566.8L776.19 566.82L778.18 566.85L780.16 566.87L782.14 566.89L784.13 566.92L786.11 566.94L788.1 566.97L790.08 566.99L792.06 567.01L794.05 567.04L796.03 567.06L798.02 567.08L800 567.11" stroke="#00f"/>
</g>
<g class="tk">
<text transform="translate(85 602.5) scale(1 1.033)" text-anchor="middle">0</text>
<text transform="translate(164.36 602.5) scale(1 1.033)" text-anchor="middle">10</text>
<text transform="translate(243.71 602.5) scale(1 1.033)" text-anchor="middle">20</text>
<text transform="translate(323.07 602.5) scale(1 1.033)" text-anchor="middle">30</text>
<text transform="translate(402.42 602.5) scale(1 1.033)" text-anchor="middle">40</text>
<text transform="translate(481.78 602.5) scale(1 1.033)" text-anchor="middle">50</text>
<text transform="translate(561.13 602.5) scale(1 1.033)" text-anchor="middle">60</text>
<text transform="translate(640.49 602.5) scale(1 1.033)" text-anchor="middle">70</text>
<text transform="translate(719.84 602.5) scale(1 1.033)" text-anchor="middle">80</text>
<text transform="translate(799.2 602.5) scale(1 1.033)" text-anchor="middle">90</text>
<text transform="translate(75.8 579.5) scale(1 1.033)" text-anchor="end">0</text>
<text transform="translate(75.8 498.87) scale(1 1.033)" text-anchor="end">20</text>
<text transform="translate(75.8 418.24) scale(1 1.033)" text-anchor="end">40</text>
<text transform="translate(75.8 337.61) scale(1 1.033)" text-anchor="end">60</text>
<text transform="translate(75.8 256.99) scale(1 1.033)" text-anchor="end">80</text>
<text transform="translate(75.8 176.36) scale(1 1.033)" text-anchor="end">100</text>
<text transform="translate(75.8 95.73) scale(1 1.033)" text-anchor="end">120</text>
<text transform="translate(75.8 15.1) scale(1 1.033)" text-anchor="end">140</text>
</g>
<text transform="translate(441.9 636) scale(1 1.06)" class="lb" text-anchor="middle">Time in days</text>
<text transform="translate(18.7 288.3) rotate(-90) scale(1 1.06)" class="lb" text-anchor="middle" xml:space="preserve">Exposed host E<tspan class="sb" dy="9.6">h</tspan></text>
<rect x="600.9" y="27.8" width="177.7" height="150.9" fill="#fff" stroke="#262626" stroke-width="1.6"/>
<path d="M611.6 49.2h70.4" stroke="#000" stroke-width="4.55"/>
<text transform="translate(686.8 54.4) scale(1 1.03)" class="lg" xml:space="preserve"><tspan class="al">α</tspan><tspan class="s2" dx="1" dy="9.32">2</tspan><tspan dx="2" dy="-9.32">= 0.55</tspan></text>
<path d="M611.6 85.2h70.4" stroke="#f00" stroke-width="4.55"/>
<text transform="translate(686.8 90.4) scale(1 1.03)" class="lg" xml:space="preserve"><tspan class="al">α</tspan><tspan class="s2" dx="1" dy="9.32">2</tspan><tspan dx="2" dy="-9.32">=0.65</tspan></text>
<path d="M611.6 121.2h70.4" stroke="#0f0" stroke-width="4.55"/>
<text transform="translate(686.8 126.4) scale(1 1.03)" class="lg" xml:space="preserve"><tspan class="al">α</tspan><tspan class="s2" dx="1" dy="9.32">2</tspan><tspan dx="2" dy="-9.32">= 0.75</tspan></text>
<path d="M611.6 157.2h70.4" stroke="#00f" stroke-width="4.55"/>
<text transform="translate(686.8 162.4) scale(1 1.03)" class="lg" xml:space="preserve"><tspan class="al">α</tspan><tspan class="s2" dx="1" dy="9.32">2</tspan><tspan dx="2" dy="-9.32"> = 0.85</tspan></text>
<text transform="translate(419.5 693)" class="cp" text-anchor="middle">(a)</text>
</g>
<g>
<path d="M1074.66 6.1V570.5M1154.01 6.1V570.5M1233.37 6.1V570.5M1312.72 6.1V570.5M1392.08 6.1V570.5M1471.43 6.1V570.5M1550.79 6.1V570.5M1630.14 6.1V570.5M995.3 514.06H1709.5M995.3 457.62H1709.5M995.3 401.18H1709.5M995.3 344.74H1709.5M995.3 288.3H1709.5M995.3 231.86H1709.5M995.3 175.42H1709.5M995.3 118.98H1709.5M995.3 62.54H1709.5" stroke="#dfdfdf" stroke-width="1.5" fill="none"/>
<path d="M1074.66 570.5v-8M1074.66 6.1v8M1154.01 570.5v-8M1154.01 6.1v8M1233.37 570.5v-8M1233.37 6.1v8M1312.72 570.5v-8M1312.72 6.1v8M1392.08 570.5v-8M1392.08 6.1v8M1471.43 570.5v-8M1471.43 6.1v8M1550.79 570.5v-8M1550.79 6.1v8M1630.14 570.5v-8M1630.14 6.1v8M995.3 514.06h8M1709.5 514.06h-8M995.3 457.62h8M1709.5 457.62h-8M995.3 401.18h8M1709.5 401.18h-8M995.3 344.74h8M1709.5 344.74h-8M995.3 288.3h8M1709.5 288.3h-8M995.3 231.86h8M1709.5 231.86h-8M995.3 175.42h8M1709.5 175.42h-8M995.3 118.98h8M1709.5 118.98h-8M995.3 62.54h8M1709.5 62.54h-8" stroke="#262626" stroke-width="1.6" fill="none"/>
<rect x="995.3" y="6.1" width="714.2" height="564.4" fill="none" stroke="#262626" stroke-width="1.75"/>
<g clip-path="url(#cb)" fill="none" stroke-width="4.55" stroke-linejoin="round">
<path d="M995.3 540.01L995.5 557.68L995.7 568.64L995.9 574.56L996.09 577.07L996.29 577.48L996.49 576.31L996.69 574.09L996.89 571.29L997.09 568.16L997.28 564.87L997.48 561.51L997.68 558.13L997.88 554.76L998.08 551.43L998.28 548.13L998.47 544.88L998.67 541.67L998.87 538.52L999.07 535.41L999.27 532.34L999.47 529.33L999.66 526.35L999.86 523.43L1000.06 520.54L1000.26 517.7L1000.46 514.9L1000.66 512.14L1000.85 509.42L1001.05 506.73L1001.25 504.09L1001.45 501.47L1001.65 498.9L1001.85 496.36L1002.05 493.85L1002.24 491.37L1002.44 488.93L1002.64 486.51L1002.84 484.13L1003.04 481.78L1003.24 479.45L1003.43 477.15L1003.63 474.88L1003.83 472.63L1004.03 470.41L1004.23 468.22L1004.43 466.05L1004.62 463.9L1004.82 461.78L1005.02 459.68L1005.22 457.6L1005.42 455.54L1005.62 453.51L1005.81 451.49L1006.01 449.49L1006.21 447.52L1006.41 445.56L1006.61 443.62L1006.81 441.69L1007 439.79L1007.2 437.9L1007.4 436.03L1007.6 434.18L1007.8 432.34L1008 430.51L1008.2 428.7L1008.39 426.91L1008.59 425.13L1008.79 423.36L1008.99 421.61L1009.19 419.87L1009.39 418.14L1009.58 416.43L1009.78 414.73L1009.98 413.04L1010.18 411.36L1010.38 409.69L1010.58 408.04L1010.77 406.39L1010.97 404.76L1011.17 403.13L1011.37 401.52L1011.57 399.92L1011.77 398.32L1011.96 396.74L1012.16 395.16L1012.36 393.6L1012.56 392.04L1012.76 390.49L1012.96 388.95L1013.15 387.42L1013.35 385.9L1013.55 384.38L1013.75 382.87L1013.95 381.37L1014.15 379.88L1014.35 378.39L1014.54 376.92L1014.74 375.44L1014.94 373.98L1015.14 372.52L1015.34 371.07L1015.54 369.63L1015.73 368.19L1015.93 366.75L1016.13 365.33L1016.33 363.91L1016.53 362.49L1016.73 361.09L1016.92 359.68L1017.12 358.29L1017.32 356.89L1017.52 355.51L1017.72 354.13L1017.92 352.75L1018.11 351.38L1018.31 350.01L1018.51 348.65L1018.71 347.3L1018.91 345.95L1019.11 344.6L1019.31 343.26L1019.5 341.92L1019.7 340.59L1019.9 339.26L1020.1 337.94L1020.3 336.62L1020.5 335.3L1020.69 333.99L1020.89 332.68L1021.09 331.38L1021.29 330.08L1021.49 328.79L1021.69 327.5L1021.88 326.21L1022.08 324.93L1022.28 323.65L1022.48 322.38L1022.68 321.11L1022.88 319.84L1023.07 318.57L1023.27 317.32L1023.47 316.06L1023.67 314.81L1023.87 313.56L1024.07 312.31L1024.26 311.07L1024.46 309.83L1024.66 308.6L1024.86 307.37L1025.06 306.14L1025.26 304.91L1025.46 303.69L1025.65 302.48L1025.85 301.26L1026.05 300.05L1026.25 298.84L1026.45 297.64L1026.65 296.44L1026.84 295.24L1027.04 294.04L1027.24 292.85L1027.44 291.67L1027.64 290.48L1027.84 289.3L1028.03 288.12L1028.23 286.95L1028.43 285.77L1028.63 284.61L1028.83 283.44L1029.03 282.28L1029.22 281.12L1029.42 279.97L1029.62 278.82L1029.82 277.67L1030.02 276.53L1030.22 275.39L1030.41 274.26L1030.61 273.13L1030.81 272L1031.01 270.88L1031.21 269.77L1031.41 268.66L1031.61 267.55L1031.8 266.45L1032 265.35L1032.2 264.26L1032.4 263.18L1032.6 262.1L1032.8 261.02L1032.99 259.95L1033.19 258.89L1033.39 257.83L1033.59 256.78L1033.79 255.73L1033.99 254.69L1034.18 253.65L1034.38 252.62L1034.58 251.59L1034.78 250.58L1034.98 249.56L1035.18 248.55L1035.37 247.55L1035.57 246.55L1035.77 245.56L1035.97 244.58L1036.17 243.6L1036.37 242.63L1036.56 241.66L1036.76 240.7L1036.96 239.75L1037.16 238.8L1037.36 237.85L1037.56 236.92L1037.76 235.99L1037.95 235.06L1038.15 234.14L1038.35 233.23L1038.55 232.33L1038.75 231.43L1038.95 230.53L1039.14 229.64L1039.34 228.76L1039.54 227.88L1039.74 227.01L1039.94 226.15L1040.14 225.29L1040.33 224.44L1040.53 223.6L1040.73 222.76L1040.93 221.92L1041.13 221.1L1041.33 220.27L1041.52 219.46L1041.72 218.65L1041.92 217.85L1042.12 217.05L1042.32 216.26L1042.52 215.47L1042.71 214.69L1042.91 213.92L1044.9 206.5L1046.88 199.66L1048.87 193.36L1050.85 187.58L1052.83 182.22L1054.82 177.18L1056.8 172.39L1058.78 167.81L1060.77 163.45L1062.75 159.32L1064.74 155.43L1066.72 151.79L1068.7 148.4L1070.69 145.26L1072.67 142.36L1074.66 139.7L1076.64 137.27L1078.62 135.06L1080.61 133.04L1082.59 131.21L1084.58 129.55L1086.56 128.05L1088.54 126.7L1090.53 125.5L1092.51 124.44L1094.49 123.5L1096.48 122.69L1098.46 121.99L1100.45 121.4L1102.43 120.92L1104.41 120.53L1106.4 120.24L1108.38 120.04L1110.37 119.92L1112.35 119.88L1114.33 119.92L1116.32 120.03L1118.3 120.22L1120.28 120.49L1122.27 120.84L1124.25 121.26L1126.24 121.76L1128.22 122.32L1130.2 122.96L1132.19 123.66L1134.17 124.42L1136.16 125.24L1138.14 126.12L1140.12 127.06L1142.11 128.05L1144.09 129.09L1146.08 130.19L1148.06 131.33L1150.04 132.51L1152.03 133.74L1154.01 135.02L1155.99 136.33L1157.98 137.69L1159.96 139.08L1161.95 140.51L1163.93 141.97L1165.91 143.47L1167.9 145L1169.88 146.56L1171.87 148.15L1173.85 149.77L1175.83 151.41L1177.82 153.09L1179.8 154.78L1181.79 156.5L1183.77 158.25L1185.75 160.01L1187.74 161.8L1189.72 163.6L1191.7 165.43L1193.69 167.27L1195.67 169.13L1197.66 171L1199.64 172.89L1201.62 174.79L1203.61 176.71L1205.59 178.64L1207.58 180.58L1209.56 182.53L1211.54 184.49L1213.53 186.46L1215.51 188.44L1217.5 190.43L1219.48 192.42L1221.46 194.42L1223.45 196.43L1225.43 198.44L1227.41 200.46L1229.4 202.48L1231.38 204.5L1233.37 206.53L1235.35 208.56L1237.33 210.59L1239.32 212.62L1241.3 214.66L1243.29 216.69L1245.27 218.73L1247.25 220.76L1249.24 222.8L1251.22 224.83L1253.21 226.87L1255.19 228.9L1257.17 230.93L1259.16 232.96L1261.14 234.99L1263.12 237.01L1265.11 239.04L1267.09 241.06L1269.08 243.07L1271.06 245.09L1273.04 247.1L1275.03 249.1L1277.01 251.11L1279 253.1L1280.98 255.1L1282.96 257.09L1284.95 259.07L1286.93 261.05L1288.92 263.03L1290.9 265L1292.88 266.97L1294.87 268.93L1296.85 270.88L1298.84 272.83L1300.82 274.78L1302.8 276.71L1304.79 278.64L1306.77 280.57L1308.75 282.49L1310.74 284.4L1312.72 286.31L1314.71 288.21L1316.69 290.11L1318.67 291.99L1320.66 293.87L1322.64 295.75L1324.63 297.62L1326.61 299.48L1328.59 301.33L1330.58 303.18L1332.56 305.02L1334.55 306.85L1336.53 308.68L1338.51 310.49L1340.5 312.31L1342.48 314.11L1344.46 315.91L1346.45 317.7L1348.43 319.48L1350.42 321.25L1352.4 323.02L1354.38 324.78L1356.37 326.53L1358.35 328.28L1360.34 330.01L1362.32 331.74L1364.3 333.47L1366.29 335.18L1368.27 336.89L1370.26 338.59L1372.24 340.28L1374.22 341.96L1376.21 343.64L1378.19 345.31L1380.17 346.97L1382.16 348.63L1384.14 350.27L1386.13 351.91L1388.11 353.54L1390.09 355.17L1392.08 356.78L1394.06 358.39L1396.05 359.99L1398.03 361.59L1400.01 363.17L1402 364.75L1403.98 366.32L1405.96 367.88L1407.95 369.44L1409.93 370.99L1411.92 372.53L1413.9 374.06L1415.88 375.59L1417.87 377.11L1419.85 378.62L1421.84 380.12L1423.82 381.62L1425.8 383.11L1427.79 384.59L1429.77 386.07L1431.76 387.53L1433.74 389L1435.72 390.45L1437.71 391.89L1439.69 393.33L1441.67 394.77L1443.66 396.19L1445.64 397.61L1447.63 399.02L1449.61 400.42L1451.59 401.82L1453.58 403.21L1455.56 404.59L1457.55 405.97L1459.53 407.34L1461.51 408.7L1463.5 410.06L1465.48 411.41L1467.47 412.75L1469.45 414.08L1471.43 415.41L1473.42 416.73L1475.4 418.05L1477.38 419.36L1479.37 420.66L1481.35 421.96L1483.34 423.25L1485.32 424.53L1487.3 425.81L1489.29 427.08L1491.27 428.34L1493.26 429.6L1495.24 430.85L1497.22 432.09L1499.21 433.33L1501.19 434.56L1503.18 435.79L1505.16 437.01L1507.14 438.22L1509.13 439.43L1511.11 440.63L1513.1 441.83L1515.08 443.02L1517.06 444.2L1519.05 445.38L1521.03 446.56L1523.01 447.72L1525 448.88L1526.98 450.04L1528.97 451.19L1530.95 452.33L1532.93 453.47L1534.92 454.6L1536.9 455.72L1538.89 456.85L1540.87 457.96L1542.85 459.07L1544.84 460.17L1546.82 461.27L1548.8 462.37L1550.79 463.45L1552.77 464.54L1554.76 465.61L1556.74 466.69L1558.72 467.75L1560.71 468.81L1562.69 469.87L1564.68 470.92L1566.66 471.97L1568.64 473.01L1570.63 474.04L1572.61 475.07L1574.6 476.1L1576.58 477.12L1578.56 478.13L1580.55 479.14L1582.53 480.15L1584.51 481.15L1586.5 482.14L1588.48 483.14L1590.47 484.12L1592.45 485.1L1594.43 486.08L1596.42 487.05L1598.4 488.02L1600.39 488.98L1602.37 489.94L1604.35 490.89L1606.34 491.84L1608.32 492.79L1610.31 493.73L1612.29 494.66L1614.27 495.59L1616.26 496.52L1618.24 497.44L1620.22 498.36L1622.21 499.27L1624.19 500.18L1626.18 501.08L1628.16 501.98L1630.14 502.88L1632.13 503.77L1634.11 504.66L1636.1 505.54L1638.08 506.42L1640.06 507.3L1642.05 508.17L1644.03 509.04L1646.02 509.9L1648 510.76L1649.98 511.62L1651.97 512.47L1653.95 513.32L1655.93 514.16L1657.92 515L1659.9 515.84L1661.89 516.67L1663.87 517.5L1665.85 518.32L1667.84 519.14L1669.82 519.96L1671.81 520.77L1673.79 521.58L1675.77 522.39L1677.76 523.19L1679.74 523.99L1681.73 524.79L1683.71 525.58L1685.69 526.37L1687.68 527.15L1689.66 527.93L1691.64 528.71L1693.63 529.49L1695.61 530.26L1697.6 531.03L1699.58 531.79L1701.56 532.55L1703.55 533.31L1705.53 534.07L1707.52 534.82L1709.5 535.57" stroke="#000"/>
<path d="M995.3 541.68L995.5 540.58L995.7 539.44L995.9 538.25L996.09 537.03L996.29 535.78L996.49 534.49L996.69 533.16L996.89 531.8L997.09 530.41L997.28 528.99L997.48 527.54L997.68 526.07L997.88 524.56L998.08 523.03L998.28 521.47L998.47 519.89L998.67 518.28L998.87 516.65L999.07 515L999.27 513.33L999.47 511.64L999.66 509.93L999.86 508.2L1000.06 506.45L1000.26 504.69L1000.46 502.91L1000.66 501.11L1000.85 499.3L1001.05 497.48L1001.25 495.64L1001.45 493.79L1001.65 491.92L1001.85 490.05L1002.05 488.17L1002.24 486.27L1002.44 484.37L1002.64 482.45L1002.84 480.53L1003.04 478.6L1003.24 476.66L1003.43 474.72L1003.63 472.77L1003.83 470.81L1004.03 468.85L1004.23 466.88L1004.43 464.91L1004.62 462.93L1004.82 460.95L1005.02 458.97L1005.22 456.99L1005.42 455L1005.62 453.01L1005.81 451.01L1006.01 449.02L1006.21 447.03L1006.41 445.03L1006.61 443.04L1006.81 441.04L1007 439.05L1007.2 437.05L1007.4 435.06L1007.6 433.06L1007.8 431.07L1008 429.08L1008.2 427.1L1008.39 425.11L1008.59 423.13L1008.79 421.15L1008.99 419.17L1009.19 417.2L1009.39 415.23L1009.58 413.26L1009.78 411.3L1009.98 409.34L1010.18 407.38L1010.38 405.43L1010.58 403.49L1010.77 401.55L1010.97 399.61L1011.17 397.68L1011.37 395.75L1011.57 393.83L1011.77 391.92L1011.96 390.01L1012.16 388.11L1012.36 386.21L1012.56 384.32L1012.76 382.43L1012.96 380.55L1013.15 378.68L1013.35 376.82L1013.55 374.96L1013.75 373.1L1013.95 371.26L1014.15 369.42L1014.35 367.59L1014.54 365.76L1014.74 363.95L1014.94 362.14L1015.14 360.33L1015.34 358.54L1015.54 356.75L1015.73 354.97L1015.93 353.2L1016.13 351.43L1016.33 349.67L1016.53 347.92L1016.73 346.18L1016.92 344.45L1017.12 342.72L1017.32 341.01L1017.52 339.3L1017.72 337.59L1017.92 335.9L1018.11 334.21L1018.31 332.54L1018.51 330.87L1018.71 329.2L1018.91 327.55L1019.11 325.91L1019.31 324.27L1019.5 322.64L1019.7 321.02L1019.9 319.41L1020.1 317.81L1020.3 316.21L1020.5 314.62L1020.69 313.04L1020.89 311.47L1021.09 309.91L1021.29 308.36L1021.49 306.81L1021.69 305.28L1021.88 303.75L1022.08 302.23L1022.28 300.72L1022.48 299.21L1022.68 297.72L1022.88 296.23L1023.07 294.75L1023.27 293.28L1023.47 291.82L1023.67 290.36L1023.87 288.92L1024.07 287.48L1024.26 286.05L1024.46 284.63L1024.66 283.22L1024.86 281.81L1025.06 280.42L1025.26 279.03L1025.46 277.65L1025.65 276.28L1025.85 274.91L1026.05 273.56L1026.25 272.21L1026.45 270.87L1026.65 269.54L1026.84 268.21L1027.04 266.9L1027.24 265.59L1027.44 264.29L1027.64 263L1027.84 261.71L1028.03 260.43L1028.23 259.16L1028.43 257.9L1028.63 256.65L1028.83 255.4L1029.03 254.16L1029.22 252.93L1029.42 251.71L1029.62 250.49L1029.82 249.29L1030.02 248.09L1030.22 246.89L1030.41 245.71L1030.61 244.53L1030.81 243.36L1031.01 242.19L1031.21 241.04L1031.41 239.89L1031.61 238.75L1031.8 237.61L1032 236.48L1032.2 235.36L1032.4 234.25L1032.6 233.14L1032.8 232.04L1032.99 230.95L1033.19 229.86L1033.39 228.79L1033.59 227.71L1033.79 226.65L1033.99 225.59L1034.18 224.54L1034.38 223.5L1034.58 222.46L1034.78 221.43L1034.98 220.4L1035.18 219.38L1035.37 218.37L1035.57 217.37L1035.77 216.37L1035.97 215.38L1036.17 214.39L1036.37 213.41L1036.56 212.44L1036.76 211.47L1036.96 210.51L1037.16 209.56L1037.36 208.61L1037.56 207.67L1037.76 206.73L1037.95 205.8L1038.15 204.88L1038.35 203.96L1038.55 203.05L1038.75 202.15L1038.95 201.25L1039.14 200.35L1039.34 199.47L1039.54 198.58L1039.74 197.71L1039.94 196.84L1040.14 195.97L1040.33 195.11L1040.53 194.26L1040.73 193.41L1040.93 192.57L1041.13 191.73L1041.33 190.9L1041.52 190.08L1041.72 189.26L1041.92 188.44L1042.12 187.63L1042.32 186.83L1042.52 186.03L1042.71 185.24L1042.91 184.45L1044.9 176.85L1046.88 169.75L1048.87 163.11L1050.85 156.9L1052.83 151.11L1054.82 145.7L1056.8 140.65L1058.78 135.94L1060.77 131.56L1062.75 127.48L1064.74 123.69L1066.72 120.16L1068.7 116.9L1070.69 113.88L1072.67 111.08L1074.66 108.51L1076.64 106.14L1078.62 103.98L1080.61 102L1082.59 100.2L1084.58 98.57L1086.56 97.1L1088.54 95.79L1090.53 94.63L1092.51 93.61L1094.49 92.72L1096.48 91.97L1098.46 91.34L1100.45 90.83L1102.43 90.44L1104.41 90.16L1106.4 89.98L1108.38 89.91L1110.37 89.93L1112.35 90.04L1114.33 90.25L1116.32 90.54L1118.3 90.92L1120.28 91.38L1122.27 91.91L1124.25 92.52L1126.24 93.2L1128.22 93.94L1130.2 94.76L1132.19 95.63L1134.17 96.57L1136.16 97.56L1138.14 98.62L1140.12 99.72L1142.11 100.88L1144.09 102.08L1146.08 103.34L1148.06 104.63L1150.04 105.98L1152.03 107.36L1154.01 108.79L1155.99 110.25L1157.98 111.75L1159.96 113.29L1161.95 114.86L1163.93 116.46L1165.91 118.1L1167.9 119.76L1169.88 121.45L1171.87 123.17L1173.85 124.92L1175.83 126.69L1177.82 128.48L1179.8 130.3L1181.79 132.13L1183.77 133.99L1185.75 135.87L1187.74 137.76L1189.72 139.67L1191.7 141.6L1193.69 143.55L1195.67 145.5L1197.66 147.48L1199.64 149.46L1201.62 151.46L1203.61 153.47L1205.59 155.49L1207.58 157.52L1209.56 159.56L1211.54 161.61L1213.53 163.66L1215.51 165.73L1217.5 167.8L1219.48 169.87L1221.46 171.96L1223.45 174.05L1225.43 176.14L1227.41 178.23L1229.4 180.34L1231.38 182.44L1233.37 184.55L1235.35 186.65L1237.33 188.77L1239.32 190.88L1241.3 192.99L1243.29 195.11L1245.27 197.22L1247.25 199.34L1249.24 201.45L1251.22 203.57L1253.21 205.68L1255.19 207.79L1257.17 209.9L1259.16 212.01L1261.14 214.12L1263.12 216.22L1265.11 218.33L1267.09 220.43L1269.08 222.52L1271.06 224.62L1273.04 226.71L1275.03 228.79L1277.01 230.87L1279 232.95L1280.98 235.03L1282.96 237.1L1284.95 239.16L1286.93 241.22L1288.92 243.28L1290.9 245.33L1292.88 247.37L1294.87 249.41L1296.85 251.44L1298.84 253.47L1300.82 255.5L1302.8 257.51L1304.79 259.52L1306.77 261.53L1308.75 263.53L1310.74 265.52L1312.72 267.51L1314.71 269.49L1316.69 271.46L1318.67 273.43L1320.66 275.39L1322.64 277.34L1324.63 279.29L1326.61 281.23L1328.59 283.16L1330.58 285.08L1332.56 287L1334.55 288.91L1336.53 290.82L1338.51 292.72L1340.5 294.61L1342.48 296.49L1344.46 298.36L1346.45 300.23L1348.43 302.09L1350.42 303.94L1352.4 305.79L1354.38 307.63L1356.37 309.46L1358.35 311.28L1360.34 313.1L1362.32 314.91L1364.3 316.71L1366.29 318.5L1368.27 320.28L1370.26 322.06L1372.24 323.83L1374.22 325.59L1376.21 327.35L1378.19 329.09L1380.17 330.83L1382.16 332.57L1384.14 334.29L1386.13 336.01L1388.11 337.71L1390.09 339.41L1392.08 341.11L1394.06 342.79L1396.05 344.47L1398.03 346.14L1400.01 347.8L1402 349.46L1403.98 351.11L1405.96 352.75L1407.95 354.38L1409.93 356L1411.92 357.62L1413.9 359.23L1415.88 360.83L1417.87 362.42L1419.85 364.01L1421.84 365.59L1423.82 367.16L1425.8 368.73L1427.79 370.28L1429.77 371.83L1431.76 373.38L1433.74 374.91L1435.72 376.44L1437.71 377.96L1439.69 379.47L1441.67 380.98L1443.66 382.47L1445.64 383.96L1447.63 385.45L1449.61 386.92L1451.59 388.39L1453.58 389.86L1455.56 391.31L1457.55 392.76L1459.53 394.2L1461.51 395.63L1463.5 397.06L1465.48 398.48L1467.47 399.89L1469.45 401.3L1471.43 402.69L1473.42 404.09L1475.4 405.47L1477.38 406.85L1479.37 408.22L1481.35 409.58L1483.34 410.94L1485.32 412.29L1487.3 413.64L1489.29 414.97L1491.27 416.3L1493.26 417.63L1495.24 418.94L1497.22 420.26L1499.21 421.56L1501.19 422.86L1503.18 424.15L1505.16 425.43L1507.14 426.71L1509.13 427.98L1511.11 429.25L1513.1 430.51L1515.08 431.76L1517.06 433L1519.05 434.24L1521.03 435.48L1523.01 436.71L1525 437.93L1526.98 439.14L1528.97 440.35L1530.95 441.55L1532.93 442.75L1534.92 443.94L1536.9 445.12L1538.89 446.3L1540.87 447.48L1542.85 448.64L1544.84 449.8L1546.82 450.96L1548.8 452.11L1550.79 453.25L1552.77 454.39L1554.76 455.52L1556.74 456.64L1558.72 457.76L1560.71 458.88L1562.69 459.99L1564.68 461.09L1566.66 462.19L1568.64 463.28L1570.63 464.36L1572.61 465.44L1574.6 466.52L1576.58 467.59L1578.56 468.65L1580.55 469.71L1582.53 470.76L1584.51 471.81L1586.5 472.85L1588.48 473.89L1590.47 474.92L1592.45 475.95L1594.43 476.97L1596.42 477.98L1598.4 479L1600.39 480L1602.37 481L1604.35 482L1606.34 482.99L1608.32 483.97L1610.31 484.95L1612.29 485.93L1614.27 486.9L1616.26 487.86L1618.24 488.82L1620.22 489.78L1622.21 490.73L1624.19 491.67L1626.18 492.61L1628.16 493.55L1630.14 494.48L1632.13 495.4L1634.11 496.33L1636.1 497.24L1638.08 498.15L1640.06 499.06L1642.05 499.96L1644.03 500.86L1646.02 501.75L1648 502.64L1649.98 503.53L1651.97 504.41L1653.95 505.28L1655.93 506.15L1657.92 507.02L1659.9 507.88L1661.89 508.74L1663.87 509.59L1665.85 510.44L1667.84 511.28L1669.82 512.12L1671.81 512.96L1673.79 513.79L1675.77 514.61L1677.76 515.44L1679.74 516.25L1681.73 517.07L1683.71 517.88L1685.69 518.68L1687.68 519.49L1689.66 520.28L1691.64 521.08L1693.63 521.87L1695.61 522.65L1697.6 523.43L1699.58 524.21L1701.56 524.98L1703.55 525.75L1705.53 526.52L1707.52 527.28L1709.5 528.04" stroke="#f00"/>
<path d="M995.3 542.89L995.5 541.3L995.7 539.68L995.9 538.04L996.09 536.37L996.29 534.69L996.49 532.98L996.69 531.25L996.89 529.5L997.09 527.72L997.28 525.93L997.48 524.12L997.68 522.3L997.88 520.45L998.08 518.59L998.28 516.71L998.47 514.82L998.67 512.91L998.87 510.99L999.07 509.06L999.27 507.11L999.47 505.15L999.66 503.18L999.86 501.2L1000.06 499.2L1000.26 497.2L1000.46 495.18L1000.66 493.16L1000.85 491.13L1001.05 489.09L1001.25 487.04L1001.45 484.98L1001.65 482.92L1001.85 480.85L1002.05 478.78L1002.24 476.69L1002.44 474.61L1002.64 472.52L1002.84 470.42L1003.04 468.32L1003.24 466.22L1003.43 464.11L1003.63 462L1003.83 459.89L1004.03 457.78L1004.23 455.66L1004.43 453.54L1004.62 451.42L1004.82 449.3L1005.02 447.18L1005.22 445.05L1005.42 442.93L1005.62 440.81L1005.81 438.69L1006.01 436.57L1006.21 434.45L1006.41 432.33L1006.61 430.21L1006.81 428.09L1007 425.98L1007.2 423.86L1007.4 421.75L1007.6 419.65L1007.8 417.54L1008 415.44L1008.2 413.34L1008.39 411.25L1008.59 409.15L1008.79 407.07L1008.99 404.98L1009.19 402.9L1009.39 400.83L1009.58 398.75L1009.78 396.69L1009.98 394.63L1010.18 392.57L1010.38 390.52L1010.58 388.47L1010.77 386.43L1010.97 384.39L1011.17 382.36L1011.37 380.34L1011.57 378.32L1011.77 376.3L1011.96 374.3L1012.16 372.3L1012.36 370.3L1012.56 368.31L1012.76 366.33L1012.96 364.36L1013.15 362.39L1013.35 360.43L1013.55 358.47L1013.75 356.52L1013.95 354.58L1014.15 352.65L1014.35 350.72L1014.54 348.81L1014.74 346.89L1014.94 344.99L1015.14 343.09L1015.34 341.2L1015.54 339.32L1015.73 337.45L1015.93 335.58L1016.13 333.73L1016.33 331.88L1016.53 330.03L1016.73 328.2L1016.92 326.37L1017.12 324.56L1017.32 322.75L1017.52 320.94L1017.72 319.15L1017.92 317.37L1018.11 315.59L1018.31 313.82L1018.51 312.06L1018.71 310.31L1018.91 308.56L1019.11 306.83L1019.31 305.1L1019.5 303.38L1019.7 301.67L1019.9 299.97L1020.1 298.28L1020.3 296.59L1020.5 294.92L1020.69 293.25L1020.89 291.59L1021.09 289.94L1021.29 288.3L1021.49 286.66L1021.69 285.04L1021.88 283.42L1022.08 281.82L1022.28 280.22L1022.48 278.63L1022.68 277.04L1022.88 275.47L1023.07 273.91L1023.27 272.35L1023.47 270.8L1023.67 269.26L1023.87 267.73L1024.07 266.21L1024.26 264.7L1024.46 263.19L1024.66 261.7L1024.86 260.21L1025.06 258.73L1025.26 257.26L1025.46 255.8L1025.65 254.35L1025.85 252.9L1026.05 251.46L1026.25 250.04L1026.45 248.62L1026.65 247.2L1026.84 245.8L1027.04 244.41L1027.24 243.02L1027.44 241.64L1027.64 240.27L1027.84 238.91L1028.03 237.56L1028.23 236.21L1028.43 234.88L1028.63 233.55L1028.83 232.23L1029.03 230.91L1029.22 229.61L1029.42 228.31L1029.62 227.03L1029.82 225.75L1030.02 224.47L1030.22 223.21L1030.41 221.95L1030.61 220.71L1030.81 219.47L1031.01 218.23L1031.21 217.01L1031.41 215.79L1031.61 214.58L1031.8 213.38L1032 212.19L1032.2 211L1032.4 209.82L1032.6 208.65L1032.8 207.49L1032.99 206.34L1033.19 205.19L1033.39 204.05L1033.59 202.92L1033.79 201.79L1033.99 200.67L1034.18 199.56L1034.38 198.46L1034.58 197.36L1034.78 196.28L1034.98 195.19L1035.18 194.12L1035.37 193.05L1035.57 191.99L1035.77 190.94L1035.97 189.9L1036.17 188.86L1036.37 187.83L1036.56 186.8L1036.76 185.78L1036.96 184.77L1037.16 183.77L1037.36 182.77L1037.56 181.78L1037.76 180.8L1037.95 179.82L1038.15 178.85L1038.35 177.89L1038.55 176.94L1038.75 175.99L1038.95 175.04L1039.14 174.11L1039.34 173.18L1039.54 172.25L1039.74 171.34L1039.94 170.43L1040.14 169.52L1040.33 168.62L1040.53 167.73L1040.73 166.85L1040.93 165.97L1041.13 165.09L1041.33 164.23L1041.52 163.37L1041.72 162.51L1041.92 161.66L1042.12 160.82L1042.32 159.98L1042.52 159.15L1042.71 158.32L1042.91 157.5L1044.9 149.6L1046.88 142.23L1048.87 135.34L1050.85 128.91L1052.83 122.9L1054.82 117.3L1056.8 112.07L1058.78 107.2L1060.77 102.66L1062.75 98.43L1064.74 94.51L1066.72 90.88L1068.7 87.51L1070.69 84.4L1072.67 81.53L1074.66 78.9L1076.64 76.49L1078.62 74.3L1080.61 72.3L1082.59 70.5L1084.58 68.89L1086.56 67.45L1088.54 66.18L1090.53 65.07L1092.51 64.11L1094.49 63.3L1096.48 62.63L1098.46 62.1L1100.45 61.7L1102.43 61.42L1104.41 61.25L1106.4 61.2L1108.38 61.26L1110.37 61.42L1112.35 61.67L1114.33 62.02L1116.32 62.46L1118.3 62.99L1120.28 63.6L1122.27 64.29L1124.25 65.05L1126.24 65.89L1128.22 66.79L1130.2 67.76L1132.19 68.8L1134.17 69.89L1136.16 71.05L1138.14 72.26L1140.12 73.52L1142.11 74.83L1144.09 76.19L1146.08 77.6L1148.06 79.06L1150.04 80.55L1152.03 82.09L1154.01 83.66L1155.99 85.27L1157.98 86.92L1159.96 88.6L1161.95 90.31L1163.93 92.06L1165.91 93.83L1167.9 95.63L1169.88 97.46L1171.87 99.31L1173.85 101.18L1175.83 103.08L1177.82 105L1179.8 106.94L1181.79 108.9L1183.77 110.88L1185.75 112.87L1187.74 114.89L1189.72 116.91L1191.7 118.95L1193.69 121.01L1195.67 123.08L1197.66 125.16L1199.64 127.25L1201.62 129.36L1203.61 131.47L1205.59 133.6L1207.58 135.73L1209.56 137.87L1211.54 140.02L1213.53 142.17L1215.51 144.33L1217.5 146.5L1219.48 148.67L1221.46 150.85L1223.45 153.03L1225.43 155.22L1227.41 157.41L1229.4 159.6L1231.38 161.8L1233.37 163.99L1235.35 166.19L1237.33 168.39L1239.32 170.59L1241.3 172.8L1243.29 175L1245.27 177.2L1247.25 179.4L1249.24 181.61L1251.22 183.81L1253.21 186.01L1255.19 188.21L1257.17 190.4L1259.16 192.6L1261.14 194.79L1263.12 196.98L1265.11 199.17L1267.09 201.35L1269.08 203.53L1271.06 205.71L1273.04 207.88L1275.03 210.05L1277.01 212.22L1279 214.38L1280.98 216.54L1282.96 218.69L1284.95 220.84L1286.93 222.98L1288.92 225.12L1290.9 227.26L1292.88 229.38L1294.87 231.51L1296.85 233.62L1298.84 235.74L1300.82 237.84L1302.8 239.94L1304.79 242.03L1306.77 244.12L1308.75 246.2L1310.74 248.28L1312.72 250.35L1314.71 252.41L1316.69 254.46L1318.67 256.51L1320.66 258.55L1322.64 260.59L1324.63 262.62L1326.61 264.64L1328.59 266.65L1330.58 268.66L1332.56 270.66L1334.55 272.65L1336.53 274.63L1338.51 276.61L1340.5 278.58L1342.48 280.54L1344.46 282.5L1346.45 284.44L1348.43 286.38L1350.42 288.32L1352.4 290.24L1354.38 292.16L1356.37 294.06L1358.35 295.96L1360.34 297.86L1362.32 299.74L1364.3 301.62L1366.29 303.49L1368.27 305.35L1370.26 307.2L1372.24 309.05L1374.22 310.88L1376.21 312.71L1378.19 314.53L1380.17 316.35L1382.16 318.15L1384.14 319.95L1386.13 321.74L1388.11 323.52L1390.09 325.29L1392.08 327.05L1394.06 328.81L1396.05 330.56L1398.03 332.3L1400.01 334.03L1402 335.75L1403.98 337.47L1405.96 339.18L1407.95 340.88L1409.93 342.57L1411.92 344.25L1413.9 345.93L1415.88 347.6L1417.87 349.26L1419.85 350.91L1421.84 352.55L1423.82 354.19L1425.8 355.81L1427.79 357.43L1429.77 359.05L1431.76 360.65L1433.74 362.25L1435.72 363.83L1437.71 365.41L1439.69 366.99L1441.67 368.55L1443.66 370.11L1445.64 371.66L1447.63 373.2L1449.61 374.73L1451.59 376.26L1453.58 377.78L1455.56 379.29L1457.55 380.79L1459.53 382.29L1461.51 383.77L1463.5 385.26L1465.48 386.73L1467.47 388.19L1469.45 389.65L1471.43 391.1L1473.42 392.55L1475.4 393.98L1477.38 395.41L1479.37 396.83L1481.35 398.25L1483.34 399.65L1485.32 401.05L1487.3 402.45L1489.29 403.83L1491.27 405.21L1493.26 406.58L1495.24 407.95L1497.22 409.3L1499.21 410.65L1501.19 412L1503.18 413.33L1505.16 414.66L1507.14 415.99L1509.13 417.3L1511.11 418.61L1513.1 419.91L1515.08 421.21L1517.06 422.5L1519.05 423.78L1521.03 425.06L1523.01 426.33L1525 427.59L1526.98 428.85L1528.97 430.1L1530.95 431.34L1532.93 432.58L1534.92 433.81L1536.9 435.03L1538.89 436.25L1540.87 437.46L1542.85 438.67L1544.84 439.87L1546.82 441.06L1548.8 442.25L1550.79 443.43L1552.77 444.61L1554.76 445.78L1556.74 446.94L1558.72 448.1L1560.71 449.25L1562.69 450.4L1564.68 451.54L1566.66 452.68L1568.64 453.81L1570.63 454.93L1572.61 456.05L1574.6 457.16L1576.58 458.27L1578.56 459.37L1580.55 460.46L1582.53 461.55L1584.51 462.64L1586.5 463.72L1588.48 464.79L1590.47 465.86L1592.45 466.92L1594.43 467.98L1596.42 469.03L1598.4 470.08L1600.39 471.12L1602.37 472.16L1604.35 473.2L1606.34 474.22L1608.32 475.25L1610.31 476.26L1612.29 477.28L1614.27 478.28L1616.26 479.29L1618.24 480.28L1620.22 481.28L1622.21 482.27L1624.19 483.25L1626.18 484.23L1628.16 485.2L1630.14 486.17L1632.13 487.14L1634.11 488.1L1636.1 489.06L1638.08 490.01L1640.06 490.96L1642.05 491.9L1644.03 492.84L1646.02 493.77L1648 494.7L1649.98 495.63L1651.97 496.55L1653.95 497.47L1655.93 498.38L1657.92 499.29L1659.9 500.19L1661.89 501.09L1663.87 501.99L1665.85 502.88L1667.84 503.77L1669.82 504.66L1671.81 505.54L1673.79 506.41L1675.77 507.28L1677.76 508.15L1679.74 509.02L1681.73 509.88L1683.71 510.74L1685.69 511.59L1687.68 512.44L1689.66 513.29L1691.64 514.13L1693.63 514.97L1695.61 515.81L1697.6 516.64L1699.58 517.47L1701.56 518.29L1703.55 519.11L1705.53 519.93L1707.52 520.74L1709.5 521.56" stroke="#0f0"/>
<path d="M995.3 542.15L995.5 541.51L995.7 540.79L995.9 540L996.09 539.15L996.29 538.22L996.49 537.24L996.69 536.19L996.89 535.08L997.09 533.91L997.28 532.68L997.48 531.4L997.68 530.07L997.88 528.68L998.08 527.25L998.28 525.77L998.47 524.24L998.67 522.67L998.87 521.05L999.07 519.39L999.27 517.7L999.47 515.96L999.66 514.19L999.86 512.38L1000.06 510.54L1000.26 508.66L1000.46 506.76L1000.66 504.82L1000.85 502.85L1001.05 500.86L1001.25 498.84L1001.45 496.79L1001.65 494.72L1001.85 492.63L1002.05 490.51L1002.24 488.37L1002.44 486.21L1002.64 484.04L1002.84 481.84L1003.04 479.63L1003.24 477.4L1003.43 475.16L1003.63 472.9L1003.83 470.62L1004.03 468.34L1004.23 466.04L1004.43 463.73L1004.62 461.41L1004.82 459.07L1005.02 456.73L1005.22 454.39L1005.42 452.03L1005.62 449.67L1005.81 447.29L1006.01 444.92L1006.21 442.54L1006.41 440.15L1006.61 437.76L1006.81 435.36L1007 432.97L1007.2 430.57L1007.4 428.16L1007.6 425.76L1007.8 423.36L1008 420.95L1008.2 418.54L1008.39 416.14L1008.59 413.74L1008.79 411.33L1008.99 408.93L1009.19 406.53L1009.39 404.13L1009.58 401.74L1009.78 399.35L1009.98 396.96L1010.18 394.57L1010.38 392.19L1010.58 389.81L1010.77 387.44L1010.97 385.08L1011.17 382.71L1011.37 380.36L1011.57 378.01L1011.77 375.66L1011.96 373.32L1012.16 370.99L1012.36 368.67L1012.56 366.35L1012.76 364.04L1012.96 361.74L1013.15 359.44L1013.35 357.15L1013.55 354.87L1013.75 352.6L1013.95 350.34L1014.15 348.08L1014.35 345.84L1014.54 343.6L1014.74 341.37L1014.94 339.15L1015.14 336.94L1015.34 334.74L1015.54 332.55L1015.73 330.37L1015.93 328.19L1016.13 326.03L1016.33 323.88L1016.53 321.74L1016.73 319.6L1016.92 317.48L1017.12 315.37L1017.32 313.27L1017.52 311.18L1017.72 309.09L1017.92 307.02L1018.11 304.96L1018.31 302.91L1018.51 300.88L1018.71 298.85L1018.91 296.83L1019.11 294.83L1019.31 292.83L1019.5 290.85L1019.7 288.87L1019.9 286.91L1020.1 284.96L1020.3 283.02L1020.5 281.09L1020.69 279.17L1020.89 277.27L1021.09 275.37L1021.29 273.48L1021.49 271.61L1021.69 269.75L1021.88 267.9L1022.08 266.06L1022.28 264.23L1022.48 262.41L1022.68 260.6L1022.88 258.81L1023.07 257.02L1023.27 255.25L1023.47 253.49L1023.67 251.73L1023.87 249.99L1024.07 248.26L1024.26 246.55L1024.46 244.84L1024.66 243.14L1024.86 241.46L1025.06 239.78L1025.26 238.12L1025.46 236.47L1025.65 234.83L1025.85 233.19L1026.05 231.57L1026.25 229.96L1026.45 228.37L1026.65 226.78L1026.84 225.2L1027.04 223.63L1027.24 222.08L1027.44 220.53L1027.64 219L1027.84 217.47L1028.03 215.96L1028.23 214.45L1028.43 212.96L1028.63 211.48L1028.83 210L1029.03 208.54L1029.22 207.09L1029.42 205.65L1029.62 204.21L1029.82 202.79L1030.02 201.38L1030.22 199.98L1030.41 198.58L1030.61 197.2L1030.81 195.83L1031.01 194.46L1031.21 193.11L1031.41 191.77L1031.61 190.43L1031.8 189.11L1032 187.79L1032.2 186.49L1032.4 185.19L1032.6 183.9L1032.8 182.62L1032.99 181.36L1033.19 180.1L1033.39 178.85L1033.59 177.6L1033.79 176.37L1033.99 175.15L1034.18 173.93L1034.38 172.73L1034.58 171.53L1034.78 170.34L1034.98 169.17L1035.18 167.99L1035.37 166.83L1035.57 165.68L1035.77 164.53L1035.97 163.4L1036.17 162.27L1036.37 161.15L1036.56 160.04L1036.76 158.94L1036.96 157.84L1037.16 156.75L1037.36 155.68L1037.56 154.6L1037.76 153.54L1037.95 152.49L1038.15 151.44L1038.35 150.4L1038.55 149.37L1038.75 148.35L1038.95 147.33L1039.14 146.32L1039.34 145.32L1039.54 144.33L1039.74 143.34L1039.94 142.36L1040.14 141.39L1040.33 140.43L1040.53 139.47L1040.73 138.52L1040.93 137.58L1041.13 136.65L1041.33 135.72L1041.52 134.8L1041.72 133.89L1041.92 132.98L1042.12 132.08L1042.32 131.19L1042.52 130.3L1042.71 129.42L1042.91 128.55L1044.9 120.18L1046.88 112.43L1048.87 105.26L1050.85 98.62L1052.83 92.49L1054.82 86.82L1056.8 81.59L1058.78 76.76L1060.77 72.31L1062.75 68.21L1064.74 64.44L1066.72 60.98L1068.7 57.81L1070.69 54.91L1072.67 52.26L1074.66 49.85L1076.64 47.67L1078.62 45.7L1080.61 43.93L1082.59 42.36L1084.58 40.96L1086.56 39.73L1088.54 38.67L1090.53 37.76L1092.51 36.99L1094.49 36.37L1096.48 35.88L1098.46 35.51L1100.45 35.27L1102.43 35.15L1104.41 35.13L1106.4 35.22L1108.38 35.41L1110.37 35.7L1112.35 36.09L1114.33 36.56L1116.32 37.12L1118.3 37.76L1120.28 38.48L1122.27 39.27L1124.25 40.14L1126.24 41.08L1128.22 42.08L1130.2 43.15L1132.19 44.28L1134.17 45.47L1136.16 46.72L1138.14 48.02L1140.12 49.37L1142.11 50.78L1144.09 52.23L1146.08 53.73L1148.06 55.27L1150.04 56.85L1152.03 58.48L1154.01 60.15L1155.99 61.85L1157.98 63.59L1159.96 65.36L1161.95 67.16L1163.93 69L1165.91 70.86L1167.9 72.76L1169.88 74.68L1171.87 76.63L1173.85 78.6L1175.83 80.59L1177.82 82.61L1179.8 84.65L1181.79 86.71L1183.77 88.79L1185.75 90.89L1187.74 93L1189.72 95.13L1191.7 97.28L1193.69 99.44L1195.67 101.61L1197.66 103.8L1199.64 105.99L1201.62 108.2L1203.61 110.42L1205.59 112.65L1207.58 114.89L1209.56 117.14L1211.54 119.39L1213.53 121.66L1215.51 123.92L1217.5 126.2L1219.48 128.48L1221.46 130.76L1223.45 133.05L1225.43 135.34L1227.41 137.64L1229.4 139.94L1231.38 142.24L1233.37 144.54L1235.35 146.85L1237.33 149.15L1239.32 151.46L1241.3 153.77L1243.29 156.07L1245.27 158.38L1247.25 160.68L1249.24 162.99L1251.22 165.29L1253.21 167.59L1255.19 169.89L1257.17 172.19L1259.16 174.48L1261.14 176.77L1263.12 179.06L1265.11 181.34L1267.09 183.62L1269.08 185.9L1271.06 188.17L1273.04 190.44L1275.03 192.71L1277.01 194.96L1279 197.22L1280.98 199.47L1282.96 201.71L1284.95 203.95L1286.93 206.18L1288.92 208.41L1290.9 210.63L1292.88 212.85L1294.87 215.06L1296.85 217.26L1298.84 219.45L1300.82 221.64L1302.8 223.83L1304.79 226L1306.77 228.17L1308.75 230.34L1310.74 232.49L1312.72 234.64L1314.71 236.78L1316.69 238.91L1318.67 241.04L1320.66 243.16L1322.64 245.27L1324.63 247.37L1326.61 249.47L1328.59 251.56L1330.58 253.64L1332.56 255.71L1334.55 257.77L1336.53 259.83L1338.51 261.88L1340.5 263.92L1342.48 265.95L1344.46 267.98L1346.45 269.99L1348.43 272L1350.42 274L1352.4 275.99L1354.38 277.98L1356.37 279.95L1358.35 281.92L1360.34 283.88L1362.32 285.83L1364.3 287.77L1366.29 289.7L1368.27 291.63L1370.26 293.55L1372.24 295.45L1374.22 297.35L1376.21 299.25L1378.19 301.13L1380.17 303L1382.16 304.87L1384.14 306.73L1386.13 308.58L1388.11 310.42L1390.09 312.25L1392.08 314.08L1394.06 315.89L1396.05 317.7L1398.03 319.5L1400.01 321.29L1402 323.08L1403.98 324.85L1405.96 326.62L1407.95 328.37L1409.93 330.12L1411.92 331.87L1413.9 333.6L1415.88 335.32L1417.87 337.04L1419.85 338.75L1421.84 340.45L1423.82 342.14L1425.8 343.83L1427.79 345.5L1429.77 347.17L1431.76 348.83L1433.74 350.48L1435.72 352.13L1437.71 353.76L1439.69 355.39L1441.67 357.01L1443.66 358.62L1445.64 360.23L1447.63 361.82L1449.61 363.41L1451.59 364.99L1453.58 366.56L1455.56 368.13L1457.55 369.69L1459.53 371.24L1461.51 372.78L1463.5 374.31L1465.48 375.84L1467.47 377.36L1469.45 378.87L1471.43 380.37L1473.42 381.87L1475.4 383.36L1477.38 384.84L1479.37 386.31L1481.35 387.78L1483.34 389.24L1485.32 390.69L1487.3 392.14L1489.29 393.57L1491.27 395L1493.26 396.43L1495.24 397.84L1497.22 399.25L1499.21 400.65L1501.19 402.05L1503.18 403.43L1505.16 404.81L1507.14 406.19L1509.13 407.55L1511.11 408.91L1513.1 410.26L1515.08 411.61L1517.06 412.95L1519.05 414.28L1521.03 415.6L1523.01 416.92L1525 418.23L1526.98 419.54L1528.97 420.84L1530.95 422.13L1532.93 423.41L1534.92 424.69L1536.9 425.96L1538.89 427.23L1540.87 428.49L1542.85 429.74L1544.84 430.99L1546.82 432.23L1548.8 433.46L1550.79 434.69L1552.77 435.91L1554.76 437.12L1556.74 438.33L1558.72 439.53L1560.71 440.73L1562.69 441.91L1564.68 443.1L1566.66 444.28L1568.64 445.45L1570.63 446.61L1572.61 447.77L1574.6 448.92L1576.58 450.07L1578.56 451.21L1580.55 452.35L1582.53 453.48L1584.51 454.6L1586.5 455.72L1588.48 456.83L1590.47 457.94L1592.45 459.04L1594.43 460.13L1596.42 461.22L1598.4 462.31L1600.39 463.38L1602.37 464.46L1604.35 465.52L1606.34 466.58L1608.32 467.64L1610.31 468.69L1612.29 469.74L1614.27 470.77L1616.26 471.81L1618.24 472.84L1620.22 473.86L1622.21 474.88L1624.19 475.89L1626.18 476.9L1628.16 477.9L1630.14 478.9L1632.13 479.89L1634.11 480.88L1636.1 481.86L1638.08 482.84L1640.06 483.81L1642.05 484.78L1644.03 485.74L1646.02 486.69L1648 487.65L1649.98 488.59L1651.97 489.53L1653.95 490.47L1655.93 491.4L1657.92 492.33L1659.9 493.25L1661.89 494.17L1663.87 495.08L1665.85 495.99L1667.84 496.89L1669.82 497.79L1671.81 498.69L1673.79 499.58L1675.77 500.46L1677.76 501.34L1679.74 502.22L1681.73 503.09L1683.71 503.95L1685.69 504.82L1687.68 505.67L1689.66 506.53L1691.64 507.38L1693.63 508.22L1695.61 509.06L1697.6 509.9L1699.58 510.73L1701.56 511.55L1703.55 512.38L1705.53 513.19L1707.52 514.01L1709.5 514.82" stroke="#00f"/>
</g>
<g class="tk">
<text transform="translate(994.5 602.5) scale(1 1.033)" text-anchor="middle">0</text>
<text transform="translate(1073.86 602.5) scale(1 1.033)" text-anchor="middle">10</text>
<text transform="translate(1153.21 602.5) scale(1 1.033)" text-anchor="middle">20</text>
<text transform="translate(1232.57 602.5) scale(1 1.033)" text-anchor="middle">30</text>
<text transform="translate(1311.92 602.5) scale(1 1.033)" text-anchor="middle">40</text>
<text transform="translate(1391.28 602.5) scale(1 1.033)" text-anchor="middle">50</text>
<text transform="translate(1470.63 602.5) scale(1 1.033)" text-anchor="middle">60</text>
<text transform="translate(1549.99 602.5) scale(1 1.033)" text-anchor="middle">70</text>
<text transform="translate(1629.34 602.5) scale(1 1.033)" text-anchor="middle">80</text>
<text transform="translate(1708.7 602.5) scale(1 1.033)" text-anchor="middle">90</text>
<text transform="translate(985.3 579.5) scale(1 1.033)" text-anchor="end">40</text>
<text transform="translate(985.3 523.06) scale(1 1.033)" text-anchor="end">60</text>
<text transform="translate(985.3 466.62) scale(1 1.033)" text-anchor="end">80</text>
<text transform="translate(985.3 410.18) scale(1 1.033)" text-anchor="end">100</text>
<text transform="translate(985.3 353.74) scale(1 1.033)" text-anchor="end">120</text>
<text transform="translate(985.3 297.3) scale(1 1.033)" text-anchor="end">140</text>
<text transform="translate(985.3 240.86) scale(1 1.033)" text-anchor="end">160</text>
<text transform="translate(985.3 184.42) scale(1 1.033)" text-anchor="end">180</text>
<text transform="translate(985.3 127.98) scale(1 1.033)" text-anchor="end">200</text>
<text transform="translate(985.3 71.54) scale(1 1.033)" text-anchor="end">220</text>
<text transform="translate(985.3 15.1) scale(1 1.033)" text-anchor="end">240</text>
</g>
<text transform="translate(1351.4 636) scale(1 1.06)" class="lb" text-anchor="middle">Time in days</text>
<text transform="translate(928.2 288.3) rotate(-90) scale(1 1.06)" class="lb" text-anchor="middle" xml:space="preserve">Infected  hosts I<tspan class="sb" dy="9.6">h</tspan></text>
<rect x="1510.4" y="27.8" width="177.7" height="150.9" fill="#fff" stroke="#262626" stroke-width="1.6"/>
<path d="M1521.1 49.2h70.4" stroke="#000" stroke-width="4.55"/>
<text transform="translate(1596.3 54.4) scale(1 1.03)" class="lg" xml:space="preserve"><tspan class="al">α</tspan><tspan class="s2" dx="1" dy="9.32">2</tspan><tspan dx="2" dy="-9.32">= 0.55</tspan></text>
<path d="M1521.1 85.2h70.4" stroke="#f00" stroke-width="4.55"/>
<text transform="translate(1596.3 90.4) scale(1 1.03)" class="lg" xml:space="preserve"><tspan class="al">α</tspan><tspan class="s2" dx="1" dy="9.32">2</tspan><tspan dx="2" dy="-9.32">=0.65</tspan></text>
<path d="M1521.1 121.2h70.4" stroke="#0f0" stroke-width="4.55"/>
<text transform="translate(1596.3 126.4) scale(1 1.03)" class="lg" xml:space="preserve"><tspan class="al">α</tspan><tspan class="s2" dx="1" dy="9.32">2</tspan><tspan dx="2" dy="-9.32">= 0.75</tspan></text>
<path d="M1521.1 157.2h70.4" stroke="#00f" stroke-width="4.55"/>
<text transform="translate(1596.3 162.4) scale(1 1.03)" class="lg" xml:space="preserve"><tspan class="al">α</tspan><tspan class="s2" dx="1" dy="9.32">2</tspan><tspan dx="2" dy="-9.32"> = 0.85</tspan></text>
<text transform="translate(1329 693)" class="cp" text-anchor="middle">(b)</text>
</g>
<g>
<path d="M165.16 798.6V1363M244.51 798.6V1363M323.87 798.6V1363M403.22 798.6V1363M482.58 798.6V1363M561.93 798.6V1363M641.29 798.6V1363M720.64 798.6V1363M85.8 1306.56H800M85.8 1250.12H800M85.8 1193.68H800M85.8 1137.24H800M85.8 1080.8H800M85.8 1024.36H800M85.8 967.92H800M85.8 911.48H800M85.8 855.04H800" stroke="#dfdfdf" stroke-width="1.5" fill="none"/>
<path d="M165.16 1363v-8M165.16 798.6v8M244.51 1363v-8M244.51 798.6v8M323.87 1363v-8M323.87 798.6v8M403.22 1363v-8M403.22 798.6v8M482.58 1363v-8M482.58 798.6v8M561.93 1363v-8M561.93 798.6v8M641.29 1363v-8M641.29 798.6v8M720.64 1363v-8M720.64 798.6v8M85.8 1306.56h8M800 1306.56h-8M85.8 1250.12h8M800 1250.12h-8M85.8 1193.68h8M800 1193.68h-8M85.8 1137.24h8M800 1137.24h-8M85.8 1080.8h8M800 1080.8h-8M85.8 1024.36h8M800 1024.36h-8M85.8 967.92h8M800 967.92h-8M85.8 911.48h8M800 911.48h-8M85.8 855.04h8M800 855.04h-8" stroke="#262626" stroke-width="1.6" fill="none"/>
<rect x="85.8" y="798.6" width="714.2" height="564.4" fill="none" stroke="#262626" stroke-width="1.75"/>
<g clip-path="url(#cc)" fill="none" stroke-width="4.55" stroke-linejoin="round">
<path d="M85.8 1276.87L86 1275.6L86.2 1274.29L86.4 1272.96L86.59 1271.59L86.79 1270.19L86.99 1268.77L87.19 1267.33L87.39 1265.85L87.59 1264.36L87.78 1262.84L87.98 1261.3L88.18 1259.75L88.38 1258.17L88.58 1256.57L88.78 1254.96L88.97 1253.33L89.17 1251.69L89.37 1250.03L89.57 1248.36L89.77 1246.67L89.97 1244.97L90.16 1243.27L90.36 1241.55L90.56 1239.82L90.76 1238.08L90.96 1236.34L91.16 1234.59L91.35 1232.83L91.55 1231.06L91.75 1229.29L91.95 1227.51L92.15 1225.73L92.35 1223.94L92.55 1222.16L92.74 1220.36L92.94 1218.57L93.14 1216.77L93.34 1214.97L93.54 1213.17L93.74 1211.37L93.93 1209.57L94.13 1207.76L94.33 1205.96L94.53 1204.16L94.73 1202.36L94.93 1200.56L95.12 1198.76L95.32 1196.96L95.52 1195.17L95.72 1193.38L95.92 1191.59L96.12 1189.8L96.31 1188.02L96.51 1186.24L96.71 1184.46L96.91 1182.69L97.11 1180.92L97.31 1179.15L97.5 1177.39L97.7 1175.63L97.9 1173.88L98.1 1172.14L98.3 1170.39L98.5 1168.66L98.7 1166.93L98.89 1165.2L99.09 1163.48L99.29 1161.77L99.49 1160.06L99.69 1158.36L99.89 1156.66L100.08 1154.97L100.28 1153.28L100.48 1151.61L100.68 1149.93L100.88 1148.27L101.08 1146.61L101.27 1144.96L101.47 1143.31L101.67 1141.68L101.87 1140.04L102.07 1138.42L102.27 1136.8L102.46 1135.19L102.66 1133.59L102.86 1131.99L103.06 1130.4L103.26 1128.82L103.46 1127.24L103.66 1125.68L103.85 1124.12L104.05 1122.56L104.25 1121.02L104.45 1119.48L104.65 1117.95L104.85 1116.42L105.04 1114.91L105.24 1113.4L105.44 1111.9L105.64 1110.4L105.84 1108.91L106.04 1107.44L106.23 1105.96L106.43 1104.5L106.63 1103.04L106.83 1101.59L107.03 1100.15L107.23 1098.72L107.42 1097.29L107.62 1095.87L107.82 1094.46L108.02 1093.05L108.22 1091.65L108.42 1090.26L108.61 1088.88L108.81 1087.51L109.01 1086.14L109.21 1084.78L109.41 1083.43L109.61 1082.08L109.81 1080.74L110 1079.41L110.2 1078.09L110.4 1076.77L110.6 1075.46L110.8 1074.16L111 1072.86L111.19 1071.58L111.39 1070.3L111.59 1069.02L111.79 1067.76L111.99 1066.5L112.19 1065.25L112.38 1064L112.58 1062.76L112.78 1061.53L112.98 1060.31L113.18 1059.09L113.38 1057.88L113.57 1056.68L113.77 1055.48L113.97 1054.3L114.17 1053.11L114.37 1051.94L114.57 1050.77L114.76 1049.61L114.96 1048.45L115.16 1047.3L115.36 1046.16L115.56 1045.03L115.76 1043.9L115.96 1042.78L116.15 1041.66L116.35 1040.55L116.55 1039.45L116.75 1038.36L116.95 1037.27L117.15 1036.18L117.34 1035.11L117.54 1034.04L117.74 1032.97L117.94 1031.92L118.14 1030.87L118.34 1029.82L118.53 1028.78L118.73 1027.75L118.93 1026.72L119.13 1025.71L119.33 1024.69L119.53 1023.68L119.72 1022.68L119.92 1021.69L120.12 1020.7L120.32 1019.71L120.52 1018.74L120.72 1017.76L120.91 1016.8L121.11 1015.84L121.31 1014.89L121.51 1013.94L121.71 1013L121.91 1012.06L122.11 1011.13L122.3 1010.21L122.5 1009.29L122.7 1008.38L122.9 1007.47L123.1 1006.57L123.3 1005.68L123.49 1004.79L123.69 1003.91L123.89 1003.03L124.09 1002.16L124.29 1001.29L124.49 1000.43L124.68 999.58L124.88 998.73L125.08 997.89L125.28 997.05L125.48 996.22L125.68 995.39L125.87 994.57L126.07 993.76L126.27 992.95L126.47 992.15L126.67 991.35L126.87 990.56L127.06 989.77L127.26 988.99L127.46 988.21L127.66 987.44L127.86 986.67L128.06 985.91L128.26 985.16L128.45 984.41L128.65 983.67L128.85 982.93L129.05 982.19L129.25 981.46L129.45 980.74L129.64 980.02L129.84 979.31L130.04 978.6L130.24 977.9L130.44 977.2L130.64 976.51L130.83 975.82L131.03 975.14L131.23 974.46L131.43 973.78L131.63 973.12L131.83 972.45L132.02 971.79L132.22 971.14L132.42 970.49L132.62 969.85L132.82 969.21L133.02 968.57L133.21 967.94L133.41 967.32L135.4 961.31L137.38 955.75L139.37 950.6L141.35 945.84L143.33 941.44L145.32 937.4L147.3 933.67L149.28 930.24L151.27 927.1L153.25 924.22L155.24 921.59L157.22 919.2L159.2 917.04L161.19 915.08L163.17 913.34L165.16 911.78L167.14 910.41L169.12 909.22L171.11 908.19L173.09 907.33L175.07 906.63L177.06 906.07L179.04 905.66L181.03 905.39L183.01 905.25L184.99 905.23L186.98 905.34L188.96 905.57L190.95 905.9L192.93 906.35L194.91 906.9L196.9 907.54L198.88 908.28L200.87 909.11L202.85 910.03L204.83 911.03L206.82 912.11L208.8 913.27L210.78 914.5L212.77 915.8L214.75 917.16L216.74 918.6L218.72 920.09L220.7 921.64L222.69 923.25L224.67 924.91L226.66 926.62L228.64 928.38L230.62 930.19L232.61 932.05L234.59 933.94L236.58 935.88L238.56 937.85L240.54 939.86L242.53 941.91L244.51 943.98L246.5 946.09L248.48 948.23L250.46 950.4L252.45 952.59L254.43 954.81L256.41 957.05L258.4 959.31L260.38 961.59L262.37 963.89L264.35 966.21L266.33 968.55L268.32 970.9L270.3 973.26L272.29 975.64L274.27 978.03L276.25 980.44L278.24 982.85L280.22 985.27L282.21 987.7L284.19 990.13L286.17 992.57L288.16 995.02L290.14 997.47L292.12 999.93L294.11 1002.39L296.09 1004.85L298.08 1007.31L300.06 1009.78L302.04 1012.24L304.03 1014.7L306.01 1017.16L308 1019.63L309.98 1022.08L311.96 1024.54L313.95 1026.99L315.93 1029.44L317.92 1031.88L319.9 1034.32L321.88 1036.76L323.87 1039.19L325.85 1041.61L327.83 1044.02L329.82 1046.43L331.8 1048.84L333.79 1051.23L335.77 1053.62L337.75 1056L339.74 1058.37L341.72 1060.73L343.71 1063.08L345.69 1065.43L347.67 1067.76L349.66 1070.09L351.64 1072.4L353.63 1074.71L355.61 1077.01L357.59 1079.29L359.58 1081.57L361.56 1083.83L363.54 1086.09L365.53 1088.33L367.51 1090.57L369.5 1092.79L371.48 1095L373.46 1097.2L375.45 1099.39L377.43 1101.56L379.42 1103.73L381.4 1105.88L383.38 1108.03L385.37 1110.16L387.35 1112.28L389.34 1114.38L391.32 1116.48L393.3 1118.56L395.29 1120.63L397.27 1122.69L399.25 1124.74L401.24 1126.78L403.22 1128.8L405.21 1130.81L407.19 1132.81L409.17 1134.8L411.16 1136.77L413.14 1138.74L415.13 1140.69L417.11 1142.63L419.09 1144.55L421.08 1146.47L423.06 1148.37L425.05 1150.26L427.03 1152.14L429.01 1154L431 1155.86L432.98 1157.7L434.96 1159.53L436.95 1161.35L438.93 1163.15L440.92 1164.95L442.9 1166.73L444.88 1168.5L446.87 1170.26L448.85 1172L450.84 1173.74L452.82 1175.46L454.8 1177.17L456.79 1178.87L458.77 1180.56L460.76 1182.24L462.74 1183.9L464.72 1185.56L466.71 1187.2L468.69 1188.83L470.67 1190.45L472.66 1192.06L474.64 1193.66L476.63 1195.24L478.61 1196.82L480.59 1198.38L482.58 1199.94L484.56 1201.48L486.55 1203.01L488.53 1204.53L490.51 1206.04L492.5 1207.54L494.48 1209.03L496.47 1210.51L498.45 1211.97L500.43 1213.43L502.42 1214.88L504.4 1216.31L506.38 1217.74L508.37 1219.15L510.35 1220.56L512.34 1221.95L514.32 1223.34L516.3 1224.71L518.29 1226.08L520.27 1227.44L522.26 1228.78L524.24 1230.12L526.22 1231.44L528.21 1232.76L530.19 1234.07L532.17 1235.36L534.16 1236.65L536.14 1237.93L538.13 1239.2L540.11 1240.46L542.09 1241.71L544.08 1242.95L546.06 1244.19L548.05 1245.41L550.03 1246.63L552.01 1247.83L554 1249.03L555.98 1250.22L557.97 1251.4L559.95 1252.57L561.93 1253.73L563.92 1254.88L565.9 1256.03L567.88 1257.17L569.87 1258.3L571.85 1259.42L573.84 1260.53L575.82 1261.63L577.8 1262.73L579.79 1263.82L581.77 1264.9L583.76 1265.97L585.74 1267.03L587.72 1268.09L589.71 1269.14L591.69 1270.18L593.68 1271.21L595.66 1272.24L597.64 1273.26L599.63 1274.27L601.61 1275.27L603.6 1276.27L605.58 1277.25L607.56 1278.24L609.55 1279.21L611.53 1280.18L613.51 1281.14L615.5 1282.09L617.48 1283.04L619.47 1283.98L621.45 1284.91L623.43 1285.83L625.42 1286.75L627.4 1287.66L629.39 1288.57L631.37 1289.47L633.35 1290.36L635.34 1291.25L637.32 1292.13L639.3 1293L641.29 1293.86L643.27 1294.72L645.26 1295.58L647.24 1296.43L649.22 1297.27L651.21 1298.1L653.19 1298.93L655.18 1299.76L657.16 1300.57L659.14 1301.39L661.13 1302.19L663.11 1302.99L665.1 1303.79L667.08 1304.57L669.06 1305.36L671.05 1306.13L673.03 1306.91L675.01 1307.67L677 1308.43L678.98 1309.19L680.97 1309.94L682.95 1310.68L684.93 1311.42L686.92 1312.15L688.9 1312.88L690.89 1313.61L692.87 1314.32L694.85 1315.04L696.84 1315.75L698.82 1316.45L700.81 1317.15L702.79 1317.84L704.77 1318.53L706.76 1319.21L708.74 1319.89L710.73 1320.56L712.71 1321.23L714.69 1321.9L716.68 1322.56L718.66 1323.21L720.64 1323.86L722.63 1324.51L724.61 1325.15L726.6 1325.79L728.58 1326.42L730.56 1327.05L732.55 1327.67L734.53 1328.29L736.52 1328.91L738.5 1329.52L740.48 1330.13L742.47 1330.73L744.45 1331.33L746.44 1331.93L748.42 1332.52L750.4 1333.1L752.39 1333.69L754.37 1334.27L756.35 1334.84L758.34 1335.41L760.32 1335.98L762.31 1336.54L764.29 1337.1L766.27 1337.66L768.26 1338.21L770.24 1338.76L772.23 1339.31L774.21 1339.85L776.19 1340.39L778.18 1340.92L780.16 1341.45L782.14 1341.98L784.13 1342.51L786.11 1343.03L788.1 1343.54L790.08 1344.06L792.06 1344.57L794.05 1345.08L796.03 1345.58L798.02 1346.08L800 1346.58" stroke="#000"/>
<path d="M85.8 1276L86 1274.93L86.2 1273.81L86.4 1272.65L86.59 1271.46L86.79 1270.23L86.99 1268.96L87.19 1267.66L87.39 1266.33L87.59 1264.96L87.78 1263.57L87.98 1262.14L88.18 1260.69L88.38 1259.21L88.58 1257.7L88.78 1256.17L88.97 1254.61L89.17 1253.03L89.37 1251.43L89.57 1249.8L89.77 1248.16L89.97 1246.49L90.16 1244.81L90.36 1243.11L90.56 1241.39L90.76 1239.66L90.96 1237.9L91.16 1236.14L91.35 1234.36L91.55 1232.57L91.75 1230.76L91.95 1228.94L92.15 1227.11L92.35 1225.27L92.55 1223.42L92.74 1221.56L92.94 1219.69L93.14 1217.81L93.34 1215.93L93.54 1214.04L93.74 1212.14L93.93 1210.23L94.13 1208.32L94.33 1206.4L94.53 1204.48L94.73 1202.56L94.93 1200.63L95.12 1198.69L95.32 1196.76L95.52 1194.82L95.72 1192.88L95.92 1190.94L96.12 1189L96.31 1187.05L96.51 1185.11L96.71 1183.16L96.91 1181.22L97.11 1179.27L97.31 1177.33L97.5 1175.39L97.7 1173.45L97.9 1171.51L98.1 1169.57L98.3 1167.64L98.5 1165.7L98.7 1163.77L98.89 1161.85L99.09 1159.92L99.29 1158L99.49 1156.09L99.69 1154.17L99.89 1152.27L100.08 1150.36L100.28 1148.46L100.48 1146.57L100.68 1144.68L100.88 1142.79L101.08 1140.92L101.27 1139.04L101.47 1137.17L101.67 1135.31L101.87 1133.46L102.07 1131.61L102.27 1129.76L102.46 1127.92L102.66 1126.09L102.86 1124.27L103.06 1122.45L103.26 1120.64L103.46 1118.84L103.66 1117.04L103.85 1115.25L104.05 1113.47L104.25 1111.69L104.45 1109.93L104.65 1108.17L104.85 1106.42L105.04 1104.67L105.24 1102.93L105.44 1101.21L105.64 1099.48L105.84 1097.77L106.04 1096.07L106.23 1094.37L106.43 1092.68L106.63 1091L106.83 1089.33L107.03 1087.67L107.23 1086.01L107.42 1084.37L107.62 1082.73L107.82 1081.1L108.02 1079.48L108.22 1077.86L108.42 1076.26L108.61 1074.66L108.81 1073.08L109.01 1071.5L109.21 1069.93L109.41 1068.37L109.61 1066.82L109.81 1065.27L110 1063.74L110.2 1062.21L110.4 1060.69L110.6 1059.19L110.8 1057.69L111 1056.19L111.19 1054.71L111.39 1053.24L111.59 1051.77L111.79 1050.32L111.99 1048.87L112.19 1047.43L112.38 1046L112.58 1044.58L112.78 1043.17L112.98 1041.76L113.18 1040.37L113.38 1038.98L113.57 1037.6L113.77 1036.24L113.97 1034.88L114.17 1033.52L114.37 1032.18L114.57 1030.84L114.76 1029.52L114.96 1028.2L115.16 1026.89L115.36 1025.59L115.56 1024.3L115.76 1023.01L115.96 1021.74L116.15 1020.47L116.35 1019.21L116.55 1017.96L116.75 1016.72L116.95 1015.49L117.15 1014.26L117.34 1013.04L117.54 1011.83L117.74 1010.63L117.94 1009.44L118.14 1008.25L118.34 1007.08L118.53 1005.91L118.73 1004.75L118.93 1003.6L119.13 1002.45L119.33 1001.31L119.53 1000.18L119.72 999.06L119.92 997.95L120.12 996.84L120.32 995.74L120.52 994.65L120.72 993.57L120.91 992.5L121.11 991.43L121.31 990.37L121.51 989.31L121.71 988.27L121.91 987.23L122.11 986.2L122.3 985.18L122.5 984.16L122.7 983.15L122.9 982.15L123.1 981.16L123.3 980.17L123.49 979.19L123.69 978.22L123.89 977.25L124.09 976.29L124.29 975.34L124.49 974.4L124.68 973.46L124.88 972.53L125.08 971.6L125.28 970.69L125.48 969.78L125.68 968.87L125.87 967.97L126.07 967.08L126.27 966.2L126.47 965.32L126.67 964.45L126.87 963.59L127.06 962.73L127.26 961.88L127.46 961.03L127.66 960.19L127.86 959.36L128.06 958.53L128.26 957.71L128.45 956.9L128.65 956.09L128.85 955.29L129.05 954.49L129.25 953.7L129.45 952.92L129.64 952.14L129.84 951.37L130.04 950.6L130.24 949.84L130.44 949.09L130.64 948.34L130.83 947.6L131.03 946.86L131.23 946.13L131.43 945.4L131.63 944.68L131.83 943.97L132.02 943.26L132.22 942.55L132.42 941.86L132.62 941.16L132.82 940.48L133.02 939.79L133.21 939.12L133.41 938.45L135.4 932.02L137.38 926.09L139.37 920.62L141.35 915.59L143.33 910.96L145.32 906.73L147.3 902.85L149.28 899.32L151.27 896.1L153.25 893.18L155.24 890.55L157.22 888.19L159.2 886.08L161.19 884.21L163.17 882.57L165.16 881.14L167.14 879.92L169.12 878.88L171.11 878.04L173.09 877.36L175.07 876.85L177.06 876.5L179.04 876.3L181.03 876.24L183.01 876.31L184.99 876.52L186.98 876.85L188.96 877.3L190.95 877.86L192.93 878.53L194.91 879.3L196.9 880.17L198.88 881.14L200.87 882.19L202.85 883.33L204.83 884.55L206.82 885.85L208.8 887.22L210.78 888.67L212.77 890.18L214.75 891.76L216.74 893.4L218.72 895.1L220.7 896.85L222.69 898.66L224.67 900.52L226.66 902.43L228.64 904.38L230.62 906.38L232.61 908.42L234.59 910.5L236.58 912.62L238.56 914.77L240.54 916.95L242.53 919.17L244.51 921.42L246.5 923.7L248.48 926L250.46 928.33L252.45 930.68L254.43 933.05L256.41 935.45L258.4 937.86L260.38 940.29L262.37 942.74L264.35 945.2L266.33 947.68L268.32 950.17L270.3 952.68L272.29 955.19L274.27 957.72L276.25 960.25L278.24 962.79L280.22 965.34L282.21 967.9L284.19 970.46L286.17 973.02L288.16 975.59L290.14 978.16L292.12 980.74L294.11 983.31L296.09 985.89L298.08 988.47L300.06 991.04L302.04 993.62L304.03 996.19L306.01 998.77L308 1001.34L309.98 1003.9L311.96 1006.47L313.95 1009.03L315.93 1011.58L317.92 1014.13L319.9 1016.68L321.88 1019.22L323.87 1021.75L325.85 1024.28L327.83 1026.8L329.82 1029.31L331.8 1031.81L333.79 1034.31L335.77 1036.8L337.75 1039.28L339.74 1041.75L341.72 1044.22L343.71 1046.67L345.69 1049.12L347.67 1051.55L349.66 1053.98L351.64 1056.4L353.63 1058.8L355.61 1061.2L357.59 1063.58L359.58 1065.96L361.56 1068.32L363.54 1070.67L365.53 1073.01L367.51 1075.34L369.5 1077.66L371.48 1079.97L373.46 1082.27L375.45 1084.55L377.43 1086.83L379.42 1089.09L381.4 1091.34L383.38 1093.57L385.37 1095.8L387.35 1098.01L389.34 1100.21L391.32 1102.4L393.3 1104.58L395.29 1106.74L397.27 1108.89L399.25 1111.03L401.24 1113.16L403.22 1115.27L405.21 1117.38L407.19 1119.47L409.17 1121.54L411.16 1123.61L413.14 1125.66L415.13 1127.7L417.11 1129.73L419.09 1131.74L421.08 1133.74L423.06 1135.73L425.05 1137.71L427.03 1139.68L429.01 1141.63L431 1143.57L432.98 1145.5L434.96 1147.41L436.95 1149.32L438.93 1151.21L440.92 1153.08L442.9 1154.95L444.88 1156.8L446.87 1158.65L448.85 1160.48L450.84 1162.29L452.82 1164.1L454.8 1165.89L456.79 1167.67L458.77 1169.44L460.76 1171.2L462.74 1172.94L464.72 1174.68L466.71 1176.4L468.69 1178.11L470.67 1179.81L472.66 1181.49L474.64 1183.17L476.63 1184.83L478.61 1186.48L480.59 1188.13L482.58 1189.75L484.56 1191.37L486.55 1192.98L488.53 1194.57L490.51 1196.16L492.5 1197.73L494.48 1199.29L496.47 1200.84L498.45 1202.38L500.43 1203.91L502.42 1205.43L504.4 1206.94L506.38 1208.44L508.37 1209.92L510.35 1211.4L512.34 1212.86L514.32 1214.32L516.3 1215.76L518.29 1217.2L520.27 1218.62L522.26 1220.03L524.24 1221.44L526.22 1222.83L528.21 1224.21L530.19 1225.58L532.17 1226.95L534.16 1228.3L536.14 1229.64L538.13 1230.98L540.11 1232.3L542.09 1233.62L544.08 1234.92L546.06 1236.22L548.05 1237.5L550.03 1238.78L552.01 1240.05L554 1241.3L555.98 1242.55L557.97 1243.79L559.95 1245.02L561.93 1246.24L563.92 1247.46L565.9 1248.66L567.88 1249.85L569.87 1251.04L571.85 1252.22L573.84 1253.38L575.82 1254.54L577.8 1255.7L579.79 1256.84L581.77 1257.97L583.76 1259.1L585.74 1260.22L587.72 1261.33L589.71 1262.43L591.69 1263.52L593.68 1264.61L595.66 1265.68L597.64 1266.75L599.63 1267.81L601.61 1268.86L603.6 1269.91L605.58 1270.95L607.56 1271.98L609.55 1273L611.53 1274.01L613.51 1275.02L615.5 1276.02L617.48 1277.01L619.47 1278L621.45 1278.97L623.43 1279.94L625.42 1280.91L627.4 1281.86L629.39 1282.81L631.37 1283.75L633.35 1284.69L635.34 1285.61L637.32 1286.53L639.3 1287.45L641.29 1288.35L643.27 1289.25L645.26 1290.15L647.24 1291.03L649.22 1291.91L651.21 1292.79L653.19 1293.65L655.18 1294.51L657.16 1295.37L659.14 1296.22L661.13 1297.06L663.11 1297.89L665.1 1298.72L667.08 1299.54L669.06 1300.36L671.05 1301.17L673.03 1301.97L675.01 1302.77L677 1303.56L678.98 1304.35L680.97 1305.13L682.95 1305.9L684.93 1306.67L686.92 1307.43L688.9 1308.19L690.89 1308.94L692.87 1309.69L694.85 1310.43L696.84 1311.16L698.82 1311.89L700.81 1312.61L702.79 1313.33L704.77 1314.04L706.76 1314.75L708.74 1315.45L710.73 1316.15L712.71 1316.84L714.69 1317.53L716.68 1318.21L718.66 1318.89L720.64 1319.56L722.63 1320.22L724.61 1320.88L726.6 1321.54L728.58 1322.19L730.56 1322.84L732.55 1323.48L734.53 1324.11L736.52 1324.74L738.5 1325.37L740.48 1325.99L742.47 1326.61L744.45 1327.22L746.44 1327.83L748.42 1328.44L750.4 1329.03L752.39 1329.63L754.37 1330.22L756.35 1330.8L758.34 1331.39L760.32 1331.96L762.31 1332.54L764.29 1333.1L766.27 1333.67L768.26 1334.23L770.24 1334.78L772.23 1335.33L774.21 1335.88L776.19 1336.42L778.18 1336.96L780.16 1337.5L782.14 1338.03L784.13 1338.56L786.11 1339.08L788.1 1339.6L790.08 1340.11L792.06 1340.62L794.05 1341.13L796.03 1341.64L798.02 1342.14L800 1342.63" stroke="#f00"/>
<path d="M85.8 1276.42L86 1275.45L86.2 1274.43L86.4 1273.36L86.59 1272.24L86.79 1271.08L86.99 1269.87L87.19 1268.61L87.39 1267.31L87.59 1265.98L87.78 1264.6L87.98 1263.18L88.18 1261.73L88.38 1260.24L88.58 1258.72L88.78 1257.17L88.97 1255.58L89.17 1253.97L89.37 1252.32L89.57 1250.65L89.77 1248.95L89.97 1247.22L90.16 1245.47L90.36 1243.69L90.56 1241.9L90.76 1240.08L90.96 1238.24L91.16 1236.37L91.35 1234.5L91.55 1232.6L91.75 1230.68L91.95 1228.75L92.15 1226.8L92.35 1224.84L92.55 1222.87L92.74 1220.88L92.94 1218.88L93.14 1216.86L93.34 1214.84L93.54 1212.8L93.74 1210.76L93.93 1208.71L94.13 1206.64L94.33 1204.57L94.53 1202.5L94.73 1200.41L94.93 1198.32L95.12 1196.23L95.32 1194.13L95.52 1192.02L95.72 1189.91L95.92 1187.8L96.12 1185.68L96.31 1183.57L96.51 1181.45L96.71 1179.32L96.91 1177.2L97.11 1175.08L97.31 1172.95L97.5 1170.83L97.7 1168.71L97.9 1166.58L98.1 1164.46L98.3 1162.34L98.5 1160.22L98.7 1158.11L98.89 1155.99L99.09 1153.88L99.29 1151.77L99.49 1149.67L99.69 1147.57L99.89 1145.47L100.08 1143.38L100.28 1141.29L100.48 1139.2L100.68 1137.12L100.88 1135.05L101.08 1132.98L101.27 1130.92L101.47 1128.86L101.67 1126.81L101.87 1124.77L102.07 1122.73L102.27 1120.69L102.46 1118.67L102.66 1116.65L102.86 1114.64L103.06 1112.63L103.26 1110.64L103.46 1108.65L103.66 1106.67L103.85 1104.69L104.05 1102.73L104.25 1100.77L104.45 1098.82L104.65 1096.88L104.85 1094.94L105.04 1093.02L105.24 1091.1L105.44 1089.2L105.64 1087.3L105.84 1085.41L106.04 1083.53L106.23 1081.65L106.43 1079.79L106.63 1077.94L106.83 1076.09L107.03 1074.26L107.23 1072.43L107.42 1070.61L107.62 1068.81L107.82 1067.01L108.02 1065.22L108.22 1063.44L108.42 1061.67L108.61 1059.91L108.81 1058.16L109.01 1056.42L109.21 1054.69L109.41 1052.97L109.61 1051.26L109.81 1049.56L110 1047.87L110.2 1046.19L110.4 1044.52L110.6 1042.86L110.8 1041.21L111 1039.56L111.19 1037.93L111.39 1036.31L111.59 1034.7L111.79 1033.1L111.99 1031.51L112.19 1029.92L112.38 1028.35L112.58 1026.79L112.78 1025.24L112.98 1023.69L113.18 1022.16L113.38 1020.64L113.57 1019.12L113.77 1017.62L113.97 1016.13L114.17 1014.64L114.37 1013.17L114.57 1011.71L114.76 1010.25L114.96 1008.81L115.16 1007.37L115.36 1005.95L115.56 1004.53L115.76 1003.12L115.96 1001.73L116.15 1000.34L116.35 998.96L116.55 997.59L116.75 996.23L116.95 994.89L117.15 993.55L117.34 992.21L117.54 990.89L117.74 989.58L117.94 988.28L118.14 986.99L118.34 985.7L118.53 984.43L118.73 983.16L118.93 981.9L119.13 980.65L119.33 979.42L119.53 978.19L119.72 976.96L119.92 975.75L120.12 974.55L120.32 973.35L120.52 972.17L120.72 970.99L120.91 969.82L121.11 968.66L121.31 967.51L121.51 966.37L121.71 965.23L121.91 964.11L122.11 962.99L122.3 961.88L122.5 960.78L122.7 959.69L122.9 958.6L123.1 957.53L123.3 956.46L123.49 955.4L123.69 954.35L123.89 953.3L124.09 952.27L124.29 951.24L124.49 950.22L124.68 949.21L124.88 948.2L125.08 947.21L125.28 946.22L125.48 945.23L125.68 944.26L125.87 943.29L126.07 942.34L126.27 941.38L126.47 940.44L126.67 939.5L126.87 938.58L127.06 937.65L127.26 936.74L127.46 935.83L127.66 934.93L127.86 934.04L128.06 933.15L128.26 932.27L128.45 931.4L128.65 930.54L128.85 929.68L129.05 928.83L129.25 927.98L129.45 927.15L129.64 926.32L129.84 925.49L130.04 924.67L130.24 923.86L130.44 923.06L130.64 922.26L130.83 921.47L131.03 920.69L131.23 919.91L131.43 919.13L131.63 918.37L131.83 917.61L132.02 916.86L132.22 916.11L132.42 915.37L132.62 914.63L132.82 913.9L133.02 913.18L133.21 912.47L133.41 911.75L135.4 904.97L137.38 898.73L139.37 893.02L141.35 887.79L143.33 883.01L145.32 878.65L147.3 874.69L149.28 871.11L151.27 867.87L153.25 864.95L155.24 862.35L157.22 860.03L159.2 857.98L161.19 856.18L163.17 854.63L165.16 853.3L167.14 852.18L169.12 851.27L171.11 850.54L173.09 850L175.07 849.63L177.06 849.42L179.04 849.36L181.03 849.46L183.01 849.69L184.99 850.05L186.98 850.54L188.96 851.15L190.95 851.87L192.93 852.7L194.91 853.64L196.9 854.67L198.88 855.8L200.87 857.02L202.85 858.32L204.83 859.71L206.82 861.17L208.8 862.71L210.78 864.32L212.77 865.99L214.75 867.73L216.74 869.54L218.72 871.4L220.7 873.31L222.69 875.28L224.67 877.3L226.66 879.37L228.64 881.48L230.62 883.64L232.61 885.83L234.59 888.07L236.58 890.34L238.56 892.64L240.54 894.98L242.53 897.35L244.51 899.75L246.5 902.18L248.48 904.63L250.46 907.11L252.45 909.61L254.43 912.13L256.41 914.67L258.4 917.23L260.38 919.81L262.37 922.4L264.35 925.01L266.33 927.63L268.32 930.26L270.3 932.9L272.29 935.56L274.27 938.22L276.25 940.89L278.24 943.57L280.22 946.25L282.21 948.94L284.19 951.64L286.17 954.34L288.16 957.04L290.14 959.74L292.12 962.45L294.11 965.16L296.09 967.86L298.08 970.57L300.06 973.27L302.04 975.98L304.03 978.68L306.01 981.37L308 984.07L309.98 986.76L311.96 989.45L313.95 992.13L315.93 994.8L317.92 997.47L319.9 1000.14L321.88 1002.8L323.87 1005.45L325.85 1008.09L327.83 1010.73L329.82 1013.36L331.8 1015.98L333.79 1018.59L335.77 1021.19L337.75 1023.78L339.74 1026.37L341.72 1028.94L343.71 1031.51L345.69 1034.06L347.67 1036.61L349.66 1039.14L351.64 1041.66L353.63 1044.18L355.61 1046.68L357.59 1049.17L359.58 1051.64L361.56 1054.11L363.54 1056.57L365.53 1059.01L367.51 1061.44L369.5 1063.86L371.48 1066.27L373.46 1068.67L375.45 1071.05L377.43 1073.42L379.42 1075.78L381.4 1078.12L383.38 1080.45L385.37 1082.77L387.35 1085.08L389.34 1087.38L391.32 1089.66L393.3 1091.93L395.29 1094.18L397.27 1096.42L399.25 1098.65L401.24 1100.87L403.22 1103.07L405.21 1105.26L407.19 1107.44L409.17 1109.6L411.16 1111.76L413.14 1113.89L415.13 1116.02L417.11 1118.13L419.09 1120.23L421.08 1122.31L423.06 1124.39L425.05 1126.44L427.03 1128.49L429.01 1130.52L431 1132.54L432.98 1134.55L434.96 1136.54L436.95 1138.52L438.93 1140.49L440.92 1142.45L442.9 1144.39L444.88 1146.32L446.87 1148.24L448.85 1150.14L450.84 1152.03L452.82 1153.91L454.8 1155.78L456.79 1157.63L458.77 1159.47L460.76 1161.3L462.74 1163.11L464.72 1164.92L466.71 1166.71L468.69 1168.49L470.67 1170.25L472.66 1172.01L474.64 1173.75L476.63 1175.48L478.61 1177.2L480.59 1178.9L482.58 1180.6L484.56 1182.28L486.55 1183.95L488.53 1185.61L490.51 1187.26L492.5 1188.89L494.48 1190.52L496.47 1192.13L498.45 1193.73L500.43 1195.32L502.42 1196.9L504.4 1198.47L506.38 1200.02L508.37 1201.57L510.35 1203.1L512.34 1204.62L514.32 1206.14L516.3 1207.64L518.29 1209.13L520.27 1210.61L522.26 1212.07L524.24 1213.53L526.22 1214.98L528.21 1216.42L530.19 1217.84L532.17 1219.26L534.16 1220.67L536.14 1222.06L538.13 1223.45L540.11 1224.82L542.09 1226.19L544.08 1227.54L546.06 1228.89L548.05 1230.22L550.03 1231.55L552.01 1232.87L554 1234.17L555.98 1235.47L557.97 1236.76L559.95 1238.03L561.93 1239.3L563.92 1240.56L565.9 1241.81L567.88 1243.05L569.87 1244.28L571.85 1245.51L573.84 1246.72L575.82 1247.92L577.8 1249.12L579.79 1250.31L581.77 1251.48L583.76 1252.65L585.74 1253.81L587.72 1254.96L589.71 1256.11L591.69 1257.24L593.68 1258.37L595.66 1259.48L597.64 1260.59L599.63 1261.69L601.61 1262.79L603.6 1263.87L605.58 1264.95L607.56 1266.02L609.55 1267.08L611.53 1268.13L613.51 1269.18L615.5 1270.21L617.48 1271.24L619.47 1272.26L621.45 1273.28L623.43 1274.28L625.42 1275.28L627.4 1276.27L629.39 1277.26L631.37 1278.23L633.35 1279.2L635.34 1280.16L637.32 1281.12L639.3 1282.07L641.29 1283.01L643.27 1283.94L645.26 1284.87L647.24 1285.79L649.22 1286.7L651.21 1287.6L653.19 1288.5L655.18 1289.39L657.16 1290.28L659.14 1291.16L661.13 1292.03L663.11 1292.89L665.1 1293.75L667.08 1294.61L669.06 1295.45L671.05 1296.29L673.03 1297.12L675.01 1297.95L677 1298.77L678.98 1299.59L680.97 1300.4L682.95 1301.2L684.93 1301.99L686.92 1302.78L688.9 1303.57L690.89 1304.35L692.87 1305.12L694.85 1305.89L696.84 1306.65L698.82 1307.4L700.81 1308.15L702.79 1308.89L704.77 1309.63L706.76 1310.37L708.74 1311.09L710.73 1311.81L712.71 1312.53L714.69 1313.24L716.68 1313.95L718.66 1314.65L720.64 1315.34L722.63 1316.03L724.61 1316.71L726.6 1317.39L728.58 1318.07L730.56 1318.73L732.55 1319.4L734.53 1320.06L736.52 1320.71L738.5 1321.36L740.48 1322L742.47 1322.64L744.45 1323.28L746.44 1323.91L748.42 1324.53L750.4 1325.15L752.39 1325.77L754.37 1326.38L756.35 1326.98L758.34 1327.58L760.32 1328.18L762.31 1328.77L764.29 1329.36L766.27 1329.94L768.26 1330.52L770.24 1331.1L772.23 1331.67L774.21 1332.23L776.19 1332.79L778.18 1333.35L780.16 1333.9L782.14 1334.45L784.13 1335L786.11 1335.54L788.1 1336.07L790.08 1336.61L792.06 1337.13L794.05 1337.66L796.03 1338.18L798.02 1338.7L800 1339.21" stroke="#0f0"/>
<path d="M85.8 1276.84L86 1275.99L86.2 1275.08L86.4 1274.1L86.59 1273.07L86.79 1271.97L86.99 1270.82L87.19 1269.61L87.39 1268.34L87.59 1267.03L87.78 1265.66L87.98 1264.25L88.18 1262.79L88.38 1261.29L88.58 1259.74L88.78 1258.16L88.97 1256.53L89.17 1254.86L89.37 1253.16L89.57 1251.42L89.77 1249.65L89.97 1247.84L90.16 1246.01L90.36 1244.14L90.56 1242.24L90.76 1240.32L90.96 1238.37L91.16 1236.4L91.35 1234.4L91.55 1232.38L91.75 1230.33L91.95 1228.27L92.15 1226.18L92.35 1224.08L92.55 1221.96L92.74 1219.82L92.94 1217.66L93.14 1215.49L93.34 1213.31L93.54 1211.11L93.74 1208.9L93.93 1206.68L94.13 1204.45L94.33 1202.21L94.53 1199.95L94.73 1197.69L94.93 1195.42L95.12 1193.15L95.32 1190.86L95.52 1188.58L95.72 1186.28L95.92 1183.98L96.12 1181.68L96.31 1179.37L96.51 1177.06L96.71 1174.75L96.91 1172.43L97.11 1170.11L97.31 1167.8L97.5 1165.48L97.7 1163.16L97.9 1160.84L98.1 1158.52L98.3 1156.21L98.5 1153.89L98.7 1151.58L98.89 1149.27L99.09 1146.96L99.29 1144.66L99.49 1142.36L99.69 1140.06L99.89 1137.77L100.08 1135.48L100.28 1133.2L100.48 1130.92L100.68 1128.64L100.88 1126.38L101.08 1124.12L101.27 1121.86L101.47 1119.61L101.67 1117.37L101.87 1115.13L102.07 1112.91L102.27 1110.69L102.46 1108.47L102.66 1106.27L102.86 1104.07L103.06 1101.88L103.26 1099.7L103.46 1097.53L103.66 1095.36L103.85 1093.21L104.05 1091.06L104.25 1088.92L104.45 1086.79L104.65 1084.68L104.85 1082.57L105.04 1080.47L105.24 1078.38L105.44 1076.3L105.64 1074.23L105.84 1072.17L106.04 1070.12L106.23 1068.08L106.43 1066.05L106.63 1064.03L106.83 1062.02L107.03 1060.02L107.23 1058.03L107.42 1056.06L107.62 1054.09L107.82 1052.14L108.02 1050.19L108.22 1048.26L108.42 1046.33L108.61 1044.42L108.81 1042.52L109.01 1040.63L109.21 1038.75L109.41 1036.89L109.61 1035.03L109.81 1033.18L110 1031.35L110.2 1029.53L110.4 1027.71L110.6 1025.91L110.8 1024.12L111 1022.35L111.19 1020.58L111.39 1018.82L111.59 1017.08L111.79 1015.35L111.99 1013.62L112.19 1011.91L112.38 1010.21L112.58 1008.52L112.78 1006.85L112.98 1005.18L113.18 1003.52L113.38 1001.88L113.57 1000.25L113.77 998.63L113.97 997.01L114.17 995.42L114.37 993.83L114.57 992.25L114.76 990.68L114.96 989.13L115.16 987.58L115.36 986.05L115.56 984.52L115.76 983.01L115.96 981.51L116.15 980.02L116.35 978.54L116.55 977.07L116.75 975.61L116.95 974.16L117.15 972.72L117.34 971.29L117.54 969.88L117.74 968.47L117.94 967.07L118.14 965.69L118.34 964.31L118.53 962.94L118.73 961.59L118.93 960.24L119.13 958.91L119.33 957.58L119.53 956.27L119.72 954.96L119.92 953.67L120.12 952.38L120.32 951.11L120.52 949.84L120.72 948.58L120.91 947.34L121.11 946.1L121.31 944.87L121.51 943.66L121.71 942.45L121.91 941.25L122.11 940.06L122.3 938.88L122.5 937.71L122.7 936.54L122.9 935.39L123.1 934.25L123.3 933.11L123.49 931.99L123.69 930.87L123.89 929.76L124.09 928.66L124.29 927.57L124.49 926.49L124.68 925.42L124.88 924.35L125.08 923.3L125.28 922.25L125.48 921.21L125.68 920.18L125.87 919.16L126.07 918.14L126.27 917.14L126.47 916.14L126.67 915.15L126.87 914.17L127.06 913.2L127.26 912.23L127.46 911.27L127.66 910.32L127.86 909.38L128.06 908.45L128.26 907.52L128.45 906.6L128.65 905.69L128.85 904.79L129.05 903.9L129.25 903.01L129.45 902.13L129.64 901.25L129.84 900.39L130.04 899.53L130.24 898.68L130.44 897.83L130.64 897L130.83 896.17L131.03 895.34L131.23 894.53L131.43 893.72L131.63 892.92L131.83 892.12L132.02 891.33L132.22 890.55L132.42 889.78L132.62 889.01L132.82 888.25L133.02 887.49L133.21 886.74L133.41 886L135.4 878.93L137.38 872.46L139.37 866.54L141.35 861.16L143.33 856.25L145.32 851.81L147.3 847.79L149.28 844.16L151.27 840.91L153.25 838L155.24 835.41L157.22 833.13L159.2 831.14L161.19 829.41L163.17 827.94L165.16 826.7L167.14 825.69L169.12 824.89L171.11 824.29L173.09 823.88L175.07 823.65L177.06 823.58L179.04 823.68L181.03 823.93L183.01 824.32L184.99 824.85L186.98 825.51L188.96 826.29L190.95 827.19L192.93 828.21L194.91 829.33L196.9 830.55L198.88 831.86L200.87 833.27L202.85 834.77L204.83 836.35L206.82 838.01L208.8 839.74L210.78 841.54L212.77 843.42L214.75 845.35L216.74 847.35L218.72 849.41L220.7 851.52L222.69 853.69L224.67 855.9L226.66 858.16L228.64 860.47L230.62 862.82L232.61 865.2L234.59 867.63L236.58 870.09L238.56 872.59L240.54 875.11L242.53 877.67L244.51 880.25L246.5 882.86L248.48 885.49L250.46 888.15L252.45 890.82L254.43 893.52L256.41 896.23L258.4 898.97L260.38 901.71L262.37 904.47L264.35 907.24L266.33 910.03L268.32 912.82L270.3 915.63L272.29 918.44L274.27 921.26L276.25 924.08L278.24 926.91L280.22 929.75L282.21 932.59L284.19 935.43L286.17 938.27L288.16 941.12L290.14 943.96L292.12 946.8L294.11 949.65L296.09 952.49L298.08 955.33L300.06 958.16L302.04 960.99L304.03 963.82L306.01 966.64L308 969.46L309.98 972.27L311.96 975.08L313.95 977.88L315.93 980.67L317.92 983.46L319.9 986.24L321.88 989.01L323.87 991.77L325.85 994.52L327.83 997.26L329.82 999.99L331.8 1002.72L333.79 1005.43L335.77 1008.13L337.75 1010.83L339.74 1013.51L341.72 1016.18L343.71 1018.84L345.69 1021.49L347.67 1024.12L349.66 1026.75L351.64 1029.36L353.63 1031.96L355.61 1034.55L357.59 1037.12L359.58 1039.69L361.56 1042.24L363.54 1044.77L365.53 1047.3L367.51 1049.81L369.5 1052.31L371.48 1054.79L373.46 1057.27L375.45 1059.72L377.43 1062.17L379.42 1064.6L381.4 1067.02L383.38 1069.42L385.37 1071.81L387.35 1074.19L389.34 1076.55L391.32 1078.9L393.3 1081.24L395.29 1083.56L397.27 1085.87L399.25 1088.17L401.24 1090.45L403.22 1092.71L405.21 1094.97L407.19 1097.2L409.17 1099.43L411.16 1101.64L413.14 1103.84L415.13 1106.02L417.11 1108.19L419.09 1110.35L421.08 1112.49L423.06 1114.62L425.05 1116.73L427.03 1118.84L429.01 1120.92L431 1123L432.98 1125.06L434.96 1127.11L436.95 1129.14L438.93 1131.16L440.92 1133.17L442.9 1135.16L444.88 1137.14L446.87 1139.11L448.85 1141.06L450.84 1143L452.82 1144.93L454.8 1146.84L456.79 1148.74L458.77 1150.63L460.76 1152.51L462.74 1154.37L464.72 1156.22L466.71 1158.06L468.69 1159.88L470.67 1161.69L472.66 1163.49L474.64 1165.28L476.63 1167.05L478.61 1168.82L480.59 1170.57L482.58 1172.3L484.56 1174.03L486.55 1175.74L488.53 1177.44L490.51 1179.13L492.5 1180.81L494.48 1182.48L496.47 1184.13L498.45 1185.77L500.43 1187.4L502.42 1189.02L504.4 1190.63L506.38 1192.22L508.37 1193.81L510.35 1195.38L512.34 1196.94L514.32 1198.5L516.3 1200.04L518.29 1201.56L520.27 1203.08L522.26 1204.59L524.24 1206.09L526.22 1207.57L528.21 1209.05L530.19 1210.51L532.17 1211.96L534.16 1213.41L536.14 1214.84L538.13 1216.26L540.11 1217.67L542.09 1219.07L544.08 1220.47L546.06 1221.85L548.05 1223.22L550.03 1224.58L552.01 1225.93L554 1227.27L555.98 1228.6L557.97 1229.93L559.95 1231.24L561.93 1232.54L563.92 1233.84L565.9 1235.12L567.88 1236.39L569.87 1237.66L571.85 1238.92L573.84 1240.16L575.82 1241.4L577.8 1242.63L579.79 1243.85L581.77 1245.06L583.76 1246.26L585.74 1247.45L587.72 1248.64L589.71 1249.81L591.69 1250.98L593.68 1252.14L595.66 1253.29L597.64 1254.43L599.63 1255.56L601.61 1256.69L603.6 1257.8L605.58 1258.91L607.56 1260.01L609.55 1261.1L611.53 1262.19L613.51 1263.26L615.5 1264.33L617.48 1265.39L619.47 1266.44L621.45 1267.49L623.43 1268.53L625.42 1269.55L627.4 1270.58L629.39 1271.59L631.37 1272.6L633.35 1273.6L635.34 1274.59L637.32 1275.57L639.3 1276.55L641.29 1277.52L643.27 1278.48L645.26 1279.44L647.24 1280.38L649.22 1281.33L651.21 1282.26L653.19 1283.19L655.18 1284.11L657.16 1285.02L659.14 1285.93L661.13 1286.83L663.11 1287.72L665.1 1288.61L667.08 1289.49L669.06 1290.36L671.05 1291.23L673.03 1292.09L675.01 1292.95L677 1293.79L678.98 1294.64L680.97 1295.47L682.95 1296.3L684.93 1297.12L686.92 1297.94L688.9 1298.75L690.89 1299.56L692.87 1300.36L694.85 1301.15L696.84 1301.94L698.82 1302.72L700.81 1303.49L702.79 1304.26L704.77 1305.03L706.76 1305.78L708.74 1306.54L710.73 1307.28L712.71 1308.03L714.69 1308.76L716.68 1309.49L718.66 1310.22L720.64 1310.94L722.63 1311.65L724.61 1312.36L726.6 1313.07L728.58 1313.76L730.56 1314.46L732.55 1315.15L734.53 1315.83L736.52 1316.51L738.5 1317.18L740.48 1317.85L742.47 1318.51L744.45 1319.17L746.44 1319.82L748.42 1320.47L750.4 1321.11L752.39 1321.75L754.37 1322.39L756.35 1323.01L758.34 1323.64L760.32 1324.26L762.31 1324.87L764.29 1325.48L766.27 1326.09L768.26 1326.69L770.24 1327.29L772.23 1327.88L774.21 1328.47L776.19 1329.05L778.18 1329.63L780.16 1330.21L782.14 1330.78L784.13 1331.35L786.11 1331.91L788.1 1332.47L790.08 1333.02L792.06 1333.57L794.05 1334.12L796.03 1334.66L798.02 1335.19L800 1335.73" stroke="#00f"/>
</g>
<g class="tk">
<text transform="translate(85 1395) scale(1 1.033)" text-anchor="middle">0</text>
<text transform="translate(164.36 1395) scale(1 1.033)" text-anchor="middle">10</text>
<text transform="translate(243.71 1395) scale(1 1.033)" text-anchor="middle">20</text>
<text transform="translate(323.07 1395) scale(1 1.033)" text-anchor="middle">30</text>
<text transform="translate(402.42 1395) scale(1 1.033)" text-anchor="middle">40</text>
<text transform="translate(481.78 1395) scale(1 1.033)" text-anchor="middle">50</text>
<text transform="translate(561.13 1395) scale(1 1.033)" text-anchor="middle">60</text>
<text transform="translate(640.49 1395) scale(1 1.033)" text-anchor="middle">70</text>
<text transform="translate(719.84 1395) scale(1 1.033)" text-anchor="middle">80</text>
<text transform="translate(799.2 1395) scale(1 1.033)" text-anchor="middle">90</text>
<text transform="translate(75.8 1372) scale(1 1.033)" text-anchor="end">20</text>
<text transform="translate(75.8 1315.56) scale(1 1.033)" text-anchor="end">40</text>
<text transform="translate(75.8 1259.12) scale(1 1.033)" text-anchor="end">60</text>
<text transform="translate(75.8 1202.68) scale(1 1.033)" text-anchor="end">80</text>
<text transform="translate(75.8 1146.24) scale(1 1.033)" text-anchor="end">100</text>
<text transform="translate(75.8 1089.8) scale(1 1.033)" text-anchor="end">120</text>
<text transform="translate(75.8 1033.36) scale(1 1.033)" text-anchor="end">140</text>
<text transform="translate(75.8 976.92) scale(1 1.033)" text-anchor="end">160</text>
<text transform="translate(75.8 920.48) scale(1 1.033)" text-anchor="end">180</text>
<text transform="translate(75.8 864.04) scale(1 1.033)" text-anchor="end">200</text>
<text transform="translate(75.8 807.6) scale(1 1.033)" text-anchor="end">220</text>
</g>
<text transform="translate(441.9 1428.5) scale(1 1.06)" class="lb" text-anchor="middle">Time in days</text>
<text transform="translate(18.7 1080.8) rotate(-90) scale(1 1.06)" class="lb" text-anchor="middle" xml:space="preserve">Clinically ill human C<tspan class="sb" dy="9.6">h</tspan></text>
<rect x="600.9" y="820.3" width="177.7" height="150.9" fill="#fff" stroke="#262626" stroke-width="1.6"/>
<path d="M611.6 841.7h70.4" stroke="#000" stroke-width="4.55"/>
<text transform="translate(686.8 846.9) scale(1 1.03)" class="lg" xml:space="preserve"><tspan class="al">α</tspan><tspan class="s2" dx="1" dy="9.32">2</tspan><tspan dx="2" dy="-9.32">= 0.55</tspan></text>
<path d="M611.6 877.7h70.4" stroke="#f00" stroke-width="4.55"/>
<text transform="translate(686.8 882.9) scale(1 1.03)" class="lg" xml:space="preserve"><tspan class="al">α</tspan><tspan class="s2" dx="1" dy="9.32">2</tspan><tspan dx="2" dy="-9.32">=0.65</tspan></text>
<path d="M611.6 913.7h70.4" stroke="#0f0" stroke-width="4.55"/>
<text transform="translate(686.8 918.9) scale(1 1.03)" class="lg" xml:space="preserve"><tspan class="al">α</tspan><tspan class="s2" dx="1" dy="9.32">2</tspan><tspan dx="2" dy="-9.32">= 0.75</tspan></text>
<path d="M611.6 949.7h70.4" stroke="#00f" stroke-width="4.55"/>
<text transform="translate(686.8 954.9) scale(1 1.03)" class="lg" xml:space="preserve"><tspan class="al">α</tspan><tspan class="s2" dx="1" dy="9.32">2</tspan><tspan dx="2" dy="-9.32"> = 0.85</tspan></text>
<text transform="translate(419.5 1485.5)" class="cp" text-anchor="middle">(c)</text>
</g>
<g>
<path d="M1074.66 798.6V1363M1154.01 798.6V1363M1233.37 798.6V1363M1312.72 798.6V1363M1392.08 798.6V1363M1471.43 798.6V1363M1550.79 798.6V1363M1630.14 798.6V1363M995.3 1306.56H1709.5M995.3 1250.12H1709.5M995.3 1193.68H1709.5M995.3 1137.24H1709.5M995.3 1080.8H1709.5M995.3 1024.36H1709.5M995.3 967.92H1709.5M995.3 911.48H1709.5M995.3 855.04H1709.5" stroke="#dfdfdf" stroke-width="1.5" fill="none"/>
<path d="M1074.66 1363v-8M1074.66 798.6v8M1154.01 1363v-8M1154.01 798.6v8M1233.37 1363v-8M1233.37 798.6v8M1312.72 1363v-8M1312.72 798.6v8M1392.08 1363v-8M1392.08 798.6v8M1471.43 1363v-8M1471.43 798.6v8M1550.79 1363v-8M1550.79 798.6v8M1630.14 1363v-8M1630.14 798.6v8M995.3 1306.56h8M1709.5 1306.56h-8M995.3 1250.12h8M1709.5 1250.12h-8M995.3 1193.68h8M1709.5 1193.68h-8M995.3 1137.24h8M1709.5 1137.24h-8M995.3 1080.8h8M1709.5 1080.8h-8M995.3 1024.36h8M1709.5 1024.36h-8M995.3 967.92h8M1709.5 967.92h-8M995.3 911.48h8M1709.5 911.48h-8M995.3 855.04h8M1709.5 855.04h-8" stroke="#262626" stroke-width="1.6" fill="none"/>
<rect x="995.3" y="798.6" width="714.2" height="564.4" fill="none" stroke="#262626" stroke-width="1.75"/>
<g clip-path="url(#cd)" fill="none" stroke-width="4.55" stroke-linejoin="round">
<path d="M995.3 968.69L995.5 971.52L995.7 974.41L995.9 977.35L996.09 980.31L996.29 983.29L996.49 986.28L996.69 989.26L996.89 992.23L997.09 995.19L997.28 998.12L997.48 1001.01L997.68 1003.87L997.88 1006.68L998.08 1009.45L998.28 1012.17L998.47 1014.83L998.67 1017.45L998.87 1020.01L999.07 1022.51L999.27 1024.96L999.47 1027.35L999.66 1029.68L999.86 1031.96L1000.06 1034.18L1000.26 1036.35L1000.46 1038.47L1000.66 1040.53L1000.85 1042.54L1001.05 1044.5L1001.25 1046.42L1001.45 1048.28L1001.65 1050.1L1001.85 1051.87L1002.05 1053.59L1002.24 1055.28L1002.44 1056.92L1002.64 1058.52L1002.84 1060.07L1003.04 1061.59L1003.24 1063.07L1003.43 1064.51L1003.63 1065.91L1003.83 1067.28L1004.03 1068.6L1004.23 1069.89L1004.43 1071.15L1004.62 1072.37L1004.82 1073.55L1005.02 1074.69L1005.22 1075.8L1005.42 1076.88L1005.62 1077.91L1005.81 1078.92L1006.01 1079.88L1006.21 1080.81L1006.41 1081.71L1006.61 1082.57L1006.81 1083.39L1007 1084.17L1007.2 1084.92L1007.4 1085.63L1007.6 1086.31L1007.8 1086.95L1008 1087.55L1008.2 1088.12L1008.39 1088.64L1008.59 1089.14L1008.79 1089.59L1008.99 1090.01L1009.19 1090.39L1009.39 1090.73L1009.58 1091.04L1009.78 1091.31L1009.98 1091.55L1010.18 1091.75L1010.38 1091.91L1010.58 1092.04L1010.77 1092.14L1010.97 1092.19L1011.17 1092.22L1011.37 1092.21L1011.57 1092.16L1011.77 1092.08L1011.96 1091.97L1012.16 1091.83L1012.36 1091.65L1012.56 1091.44L1012.76 1091.2L1012.96 1090.93L1013.15 1090.63L1013.35 1090.3L1013.55 1089.94L1013.75 1089.55L1013.95 1089.13L1014.15 1088.69L1014.35 1088.22L1014.54 1087.73L1014.74 1087.21L1014.94 1086.67L1015.14 1086.11L1015.34 1085.52L1015.54 1084.91L1015.73 1084.28L1015.93 1083.63L1016.13 1082.96L1016.33 1082.27L1016.53 1081.56L1016.73 1080.84L1016.92 1080.09L1017.12 1079.33L1017.32 1078.56L1017.52 1077.76L1017.72 1076.96L1017.92 1076.14L1018.11 1075.3L1018.31 1074.45L1018.51 1073.59L1018.71 1072.72L1018.91 1071.84L1019.11 1070.94L1019.31 1070.04L1019.5 1069.12L1019.7 1068.19L1019.9 1067.26L1020.1 1066.31L1020.3 1065.36L1020.5 1064.4L1020.69 1063.43L1020.89 1062.45L1021.09 1061.47L1021.29 1060.48L1021.49 1059.48L1021.69 1058.47L1021.88 1057.46L1022.08 1056.45L1022.28 1055.42L1022.48 1054.4L1022.68 1053.36L1022.88 1052.32L1023.07 1051.28L1023.27 1050.23L1023.47 1049.18L1023.67 1048.12L1023.87 1047.06L1024.07 1046L1024.26 1044.93L1024.46 1043.86L1024.66 1042.78L1024.86 1041.7L1025.06 1040.61L1025.26 1039.53L1025.46 1038.43L1025.65 1037.34L1025.85 1036.24L1026.05 1035.14L1026.25 1034.03L1026.45 1032.93L1026.65 1031.82L1026.84 1030.7L1027.04 1029.58L1027.24 1028.46L1027.44 1027.34L1027.64 1026.21L1027.84 1025.08L1028.03 1023.95L1028.23 1022.82L1028.43 1021.68L1028.63 1020.54L1028.83 1019.39L1029.03 1018.25L1029.22 1017.1L1029.42 1015.95L1029.62 1014.79L1029.82 1013.63L1030.02 1012.47L1030.22 1011.31L1030.41 1010.14L1030.61 1008.98L1030.81 1007.8L1031.01 1006.63L1031.21 1005.46L1031.41 1004.28L1031.61 1003.1L1031.8 1001.91L1032 1000.73L1032.2 999.54L1032.4 998.35L1032.6 997.16L1032.8 995.96L1032.99 994.77L1033.19 993.57L1033.39 992.37L1033.59 991.17L1033.79 989.96L1033.99 988.76L1034.18 987.55L1034.38 986.34L1034.58 985.13L1034.78 983.92L1034.98 982.71L1035.18 981.5L1035.37 980.29L1035.57 979.07L1035.77 977.86L1035.97 976.64L1036.17 975.42L1036.37 974.21L1036.56 972.99L1036.76 971.77L1036.96 970.56L1037.16 969.34L1037.36 968.12L1037.56 966.91L1037.76 965.69L1037.95 964.48L1038.15 963.27L1038.35 962.06L1038.55 960.86L1038.75 959.66L1038.95 958.47L1039.14 957.29L1039.34 956.11L1039.54 954.94L1039.74 953.78L1039.94 952.62L1040.14 951.48L1040.33 950.35L1040.53 949.23L1040.73 948.12L1040.93 947.02L1041.13 945.93L1041.33 944.85L1041.52 943.79L1041.72 942.74L1041.92 941.7L1042.12 940.68L1042.32 939.67L1042.52 938.68L1042.71 937.7L1042.91 936.73L1044.9 927.91L1046.88 920.67L1048.87 914.96L1050.85 910.64L1052.83 907.37L1054.82 904.84L1056.8 902.88L1058.78 901.42L1060.77 900.45L1062.75 899.95L1064.74 899.92L1066.72 900.31L1068.7 901.1L1070.69 902.22L1072.67 903.63L1074.66 905.27L1076.64 907.11L1078.62 909.19L1080.61 911.57L1082.59 914.35L1084.58 917.65L1086.56 921.47L1088.54 925.73L1090.53 930.37L1092.51 935.28L1094.49 940.35L1096.48 945.5L1098.46 950.7L1100.45 955.91L1102.43 961.11L1104.41 966.28L1106.4 971.38L1108.38 976.4L1110.37 981.35L1112.35 986.21L1114.33 990.98L1116.32 995.67L1118.3 1000.28L1120.28 1004.8L1122.27 1009.24L1124.25 1013.59L1126.24 1017.88L1128.22 1022.09L1130.2 1026.22L1132.19 1030.3L1134.17 1034.3L1136.16 1038.25L1138.14 1042.15L1140.12 1045.99L1142.11 1049.78L1144.09 1053.52L1146.08 1057.22L1148.06 1060.88L1150.04 1064.5L1152.03 1068.08L1154.01 1071.64L1155.99 1075.15L1157.98 1078.64L1159.96 1082.08L1161.95 1085.49L1163.93 1088.85L1165.91 1092.16L1167.9 1095.42L1169.88 1098.63L1171.87 1101.78L1173.85 1104.88L1175.83 1107.93L1177.82 1110.91L1179.8 1113.84L1181.79 1116.71L1183.77 1119.52L1185.75 1122.27L1187.74 1124.96L1189.72 1127.59L1191.7 1130.16L1193.69 1132.67L1195.67 1135.12L1197.66 1137.51L1199.64 1139.85L1201.62 1142.12L1203.61 1144.34L1205.59 1146.51L1207.58 1148.63L1209.56 1150.7L1211.54 1152.72L1213.53 1154.7L1215.51 1156.63L1217.5 1158.52L1219.48 1160.37L1221.46 1162.18L1223.45 1163.95L1225.43 1165.68L1227.41 1167.38L1229.4 1169.04L1231.38 1170.67L1233.37 1172.27L1235.35 1173.84L1237.33 1175.38L1239.32 1176.89L1241.3 1178.37L1243.29 1179.82L1245.27 1181.25L1247.25 1182.65L1249.24 1184.02L1251.22 1185.37L1253.21 1186.7L1255.19 1188L1257.17 1189.29L1259.16 1190.55L1261.14 1191.78L1263.12 1193L1265.11 1194.2L1267.09 1195.38L1269.08 1196.54L1271.06 1197.68L1273.04 1198.81L1275.03 1199.91L1277.01 1201.01L1279 1202.08L1280.98 1203.14L1282.96 1204.18L1284.95 1205.21L1286.93 1206.23L1288.92 1207.23L1290.9 1208.22L1292.88 1209.19L1294.87 1210.15L1296.85 1211.1L1298.84 1212.04L1300.82 1212.97L1302.8 1213.88L1304.79 1214.79L1306.77 1215.68L1308.75 1216.57L1310.74 1217.44L1312.72 1218.31L1314.71 1219.16L1316.69 1220.01L1318.67 1220.84L1320.66 1221.67L1322.64 1222.49L1324.63 1223.31L1326.61 1224.11L1328.59 1224.91L1330.58 1225.7L1332.56 1226.48L1334.55 1227.26L1336.53 1228.03L1338.51 1228.79L1340.5 1229.55L1342.48 1230.3L1344.46 1231.04L1346.45 1231.78L1348.43 1232.51L1350.42 1233.24L1352.4 1233.96L1354.38 1234.68L1356.37 1235.39L1358.35 1236.1L1360.34 1236.8L1362.32 1237.5L1364.3 1238.19L1366.29 1238.88L1368.27 1239.57L1370.26 1240.25L1372.24 1240.92L1374.22 1241.6L1376.21 1242.26L1378.19 1242.93L1380.17 1243.59L1382.16 1244.25L1384.14 1244.9L1386.13 1245.56L1388.11 1246.2L1390.09 1246.85L1392.08 1247.49L1394.06 1248.13L1396.05 1248.77L1398.03 1249.4L1400.01 1250.03L1402 1250.66L1403.98 1251.28L1405.96 1251.91L1407.95 1252.52L1409.93 1253.14L1411.92 1253.76L1413.9 1254.37L1415.88 1254.98L1417.87 1255.59L1419.85 1256.19L1421.84 1256.8L1423.82 1257.4L1425.8 1258L1427.79 1258.6L1429.77 1259.19L1431.76 1259.79L1433.74 1260.38L1435.72 1260.97L1437.71 1261.55L1439.69 1262.14L1441.67 1262.72L1443.66 1263.31L1445.64 1263.89L1447.63 1264.47L1449.61 1265.04L1451.59 1265.62L1453.58 1266.2L1455.56 1266.77L1457.55 1267.34L1459.53 1267.91L1461.51 1268.48L1463.5 1269.04L1465.48 1269.61L1467.47 1270.17L1469.45 1270.73L1471.43 1271.3L1473.42 1271.86L1475.4 1272.41L1477.38 1272.97L1479.37 1273.53L1481.35 1274.08L1483.34 1274.63L1485.32 1275.19L1487.3 1275.74L1489.29 1276.29L1491.27 1276.83L1493.26 1277.38L1495.24 1277.93L1497.22 1278.47L1499.21 1279.01L1501.19 1279.56L1503.18 1280.1L1505.16 1280.64L1507.14 1281.18L1509.13 1281.71L1511.11 1282.25L1513.1 1282.79L1515.08 1283.32L1517.06 1283.85L1519.05 1284.39L1521.03 1284.92L1523.01 1285.45L1525 1285.98L1526.98 1286.5L1528.97 1287.03L1530.95 1287.56L1532.93 1288.08L1534.92 1288.61L1536.9 1289.13L1538.89 1289.65L1540.87 1290.17L1542.85 1290.69L1544.84 1291.21L1546.82 1291.73L1548.8 1292.25L1550.79 1292.76L1552.77 1293.28L1554.76 1293.79L1556.74 1294.31L1558.72 1294.82L1560.71 1295.33L1562.69 1295.84L1564.68 1296.35L1566.66 1296.86L1568.64 1297.37L1570.63 1297.87L1572.61 1298.38L1574.6 1298.88L1576.58 1299.39L1578.56 1299.89L1580.55 1300.39L1582.53 1300.9L1584.51 1301.4L1586.5 1301.9L1588.48 1302.39L1590.47 1302.89L1592.45 1303.39L1594.43 1303.89L1596.42 1304.38L1598.4 1304.88L1600.39 1305.37L1602.37 1305.86L1604.35 1306.35L1606.34 1306.84L1608.32 1307.33L1610.31 1307.82L1612.29 1308.31L1614.27 1308.8L1616.26 1309.29L1618.24 1309.77L1620.22 1310.26L1622.21 1310.74L1624.19 1311.22L1626.18 1311.71L1628.16 1312.19L1630.14 1312.67L1632.13 1313.15L1634.11 1313.63L1636.1 1314.1L1638.08 1314.58L1640.06 1315.06L1642.05 1315.53L1644.03 1316.01L1646.02 1316.48L1648 1316.96L1649.98 1317.43L1651.97 1317.9L1653.95 1318.37L1655.93 1318.84L1657.92 1319.31L1659.9 1319.78L1661.89 1320.24L1663.87 1320.71L1665.85 1321.18L1667.84 1321.64L1669.82 1322.1L1671.81 1322.57L1673.79 1323.03L1675.77 1323.49L1677.76 1323.95L1679.74 1324.41L1681.73 1324.87L1683.71 1325.33L1685.69 1325.79L1687.68 1326.24L1689.66 1326.7L1691.64 1327.15L1693.63 1327.61L1695.61 1328.06L1697.6 1328.51L1699.58 1328.96L1701.56 1329.41L1703.55 1329.86L1705.53 1330.31L1707.52 1330.76L1709.5 1331.21" stroke="#000"/>
<path d="M995.3 966.62L995.5 967.17L995.7 968.13L995.9 969.47L996.09 971.14L996.29 973.09L996.49 975.29L996.69 977.7L996.89 980.3L997.09 983.05L997.28 985.93L997.48 988.91L997.68 991.97L997.88 995.1L998.08 998.27L998.28 1001.47L998.47 1004.68L998.67 1007.9L998.87 1011.11L999.07 1014.29L999.27 1017.45L999.47 1020.57L999.66 1023.64L999.86 1026.67L1000.06 1029.63L1000.26 1032.54L1000.46 1035.38L1000.66 1038.15L1000.85 1040.85L1001.05 1043.48L1001.25 1046.02L1001.45 1048.5L1001.65 1050.89L1001.85 1053.2L1002.05 1055.43L1002.24 1057.58L1002.44 1059.65L1002.64 1061.64L1002.84 1063.55L1003.04 1065.38L1003.24 1067.13L1003.43 1068.8L1003.63 1070.4L1003.83 1071.92L1004.03 1073.36L1004.23 1074.73L1004.43 1076.02L1004.62 1077.24L1004.82 1078.39L1005.02 1079.47L1005.22 1080.49L1005.42 1081.43L1005.62 1082.31L1005.81 1083.13L1006.01 1083.88L1006.21 1084.57L1006.41 1085.2L1006.61 1085.77L1006.81 1086.28L1007 1086.74L1007.2 1087.14L1007.4 1087.49L1007.6 1087.78L1007.8 1088.03L1008 1088.22L1008.2 1088.37L1008.39 1088.47L1008.59 1088.52L1008.79 1088.54L1008.99 1088.51L1009.19 1088.45L1009.39 1088.35L1009.58 1088.22L1009.78 1088.05L1009.98 1087.85L1010.18 1087.61L1010.38 1087.35L1010.58 1087.05L1010.77 1086.73L1010.97 1086.38L1011.17 1085.99L1011.37 1085.59L1011.57 1085.15L1011.77 1084.69L1011.96 1084.2L1012.16 1083.69L1012.36 1083.15L1012.56 1082.59L1012.76 1082.01L1012.96 1081.4L1013.15 1080.77L1013.35 1080.12L1013.55 1079.45L1013.75 1078.76L1013.95 1078.05L1014.15 1077.31L1014.35 1076.56L1014.54 1075.79L1014.74 1075L1014.94 1074.19L1015.14 1073.37L1015.34 1072.53L1015.54 1071.67L1015.73 1070.79L1015.93 1069.9L1016.13 1069L1016.33 1068.07L1016.53 1067.14L1016.73 1066.19L1016.92 1065.22L1017.12 1064.24L1017.32 1063.25L1017.52 1062.25L1017.72 1061.23L1017.92 1060.2L1018.11 1059.16L1018.31 1058.11L1018.51 1057.04L1018.71 1055.97L1018.91 1054.88L1019.11 1053.79L1019.31 1052.68L1019.5 1051.56L1019.7 1050.44L1019.9 1049.3L1020.1 1048.16L1020.3 1047.01L1020.5 1045.85L1020.69 1044.68L1020.89 1043.51L1021.09 1042.32L1021.29 1041.13L1021.49 1039.93L1021.69 1038.73L1021.88 1037.52L1022.08 1036.3L1022.28 1035.08L1022.48 1033.85L1022.68 1032.62L1022.88 1031.38L1023.07 1030.13L1023.27 1028.89L1023.47 1027.63L1023.67 1026.37L1023.87 1025.11L1024.07 1023.85L1024.26 1022.58L1024.46 1021.31L1024.66 1020.03L1024.86 1018.75L1025.06 1017.47L1025.26 1016.19L1025.46 1014.9L1025.65 1013.61L1025.85 1012.32L1026.05 1011.03L1026.25 1009.73L1026.45 1008.44L1026.65 1007.14L1026.84 1005.85L1027.04 1004.55L1027.24 1003.25L1027.44 1001.95L1027.64 1000.65L1027.84 999.35L1028.03 998.05L1028.23 996.75L1028.43 995.45L1028.63 994.15L1028.83 992.86L1029.03 991.56L1029.22 990.26L1029.42 988.97L1029.62 987.68L1029.82 986.39L1030.02 985.1L1030.22 983.81L1030.41 982.52L1030.61 981.24L1030.81 979.96L1031.01 978.68L1031.21 977.4L1031.41 976.13L1031.61 974.86L1031.8 973.59L1032 972.33L1032.2 971.07L1032.4 969.81L1032.6 968.56L1032.8 967.31L1032.99 966.06L1033.19 964.82L1033.39 963.59L1033.59 962.35L1033.79 961.12L1033.99 959.9L1034.18 958.68L1034.38 957.47L1034.58 956.26L1034.78 955.06L1034.98 953.86L1035.18 952.67L1035.37 951.49L1035.57 950.31L1035.77 949.14L1035.97 947.98L1036.17 946.82L1036.37 945.68L1036.56 944.54L1036.76 943.4L1036.96 942.28L1037.16 941.17L1037.36 940.06L1037.56 938.96L1037.76 937.87L1037.95 936.8L1038.15 935.73L1038.35 934.66L1038.55 933.61L1038.75 932.57L1038.95 931.54L1039.14 930.52L1039.34 929.5L1039.54 928.5L1039.74 927.51L1039.94 926.53L1040.14 925.56L1040.33 924.59L1040.53 923.64L1040.73 922.7L1040.93 921.77L1041.13 920.85L1041.33 919.94L1041.52 919.05L1041.72 918.16L1041.92 917.28L1042.12 916.42L1042.32 915.56L1042.52 914.72L1042.71 913.88L1042.91 913.06L1044.9 905.4L1046.88 898.73L1048.87 893.01L1050.85 888.17L1052.83 884.17L1054.82 880.97L1056.8 878.52L1058.78 876.78L1060.77 875.72L1062.75 875.29L1064.74 875.46L1066.72 876.18L1068.7 877.43L1070.69 879.17L1072.67 881.37L1074.66 883.98L1076.64 886.98L1078.62 890.32L1080.61 893.98L1082.59 897.91L1084.58 902.1L1086.56 906.49L1088.54 911.07L1090.53 915.8L1092.51 920.66L1094.49 925.62L1096.48 930.67L1098.46 935.79L1100.45 940.97L1102.43 946.19L1104.41 951.43L1106.4 956.7L1108.38 961.97L1110.37 967.25L1112.35 972.52L1114.33 977.77L1116.32 982.99L1118.3 988.19L1120.28 993.34L1122.27 998.45L1124.25 1003.5L1126.24 1008.49L1128.22 1013.42L1130.2 1018.29L1132.19 1023.08L1134.17 1027.81L1136.16 1032.45L1138.14 1037.02L1140.12 1041.51L1142.11 1045.91L1144.09 1050.24L1146.08 1054.48L1148.06 1058.63L1150.04 1062.7L1152.03 1066.69L1154.01 1070.6L1155.99 1074.42L1157.98 1078.16L1159.96 1081.81L1161.95 1085.38L1163.93 1088.88L1165.91 1092.29L1167.9 1095.63L1169.88 1098.88L1171.87 1102.07L1173.85 1105.17L1175.83 1108.21L1177.82 1111.17L1179.8 1114.06L1181.79 1116.88L1183.77 1119.64L1185.75 1122.33L1187.74 1124.95L1189.72 1127.52L1191.7 1130.02L1193.69 1132.46L1195.67 1134.84L1197.66 1137.17L1199.64 1139.44L1201.62 1141.66L1203.61 1143.83L1205.59 1145.95L1207.58 1148.01L1209.56 1150.03L1211.54 1152.01L1213.53 1153.94L1215.51 1155.82L1217.5 1157.66L1219.48 1159.47L1221.46 1161.23L1223.45 1162.95L1225.43 1164.64L1227.41 1166.29L1229.4 1167.9L1231.38 1169.48L1233.37 1171.03L1235.35 1172.55L1237.33 1174.04L1239.32 1175.49L1241.3 1176.92L1243.29 1178.32L1245.27 1179.69L1247.25 1181.04L1249.24 1182.36L1251.22 1183.66L1253.21 1184.93L1255.19 1186.18L1257.17 1187.41L1259.16 1188.62L1261.14 1189.8L1263.12 1190.97L1265.11 1192.12L1267.09 1193.24L1269.08 1194.36L1271.06 1195.45L1273.04 1196.52L1275.03 1197.58L1277.01 1198.63L1279 1199.66L1280.98 1200.67L1282.96 1201.67L1284.95 1202.66L1286.93 1203.63L1288.92 1204.59L1290.9 1205.54L1292.88 1206.47L1294.87 1207.39L1296.85 1208.31L1298.84 1209.21L1300.82 1210.1L1302.8 1210.98L1304.79 1211.85L1306.77 1212.71L1308.75 1213.56L1310.74 1214.4L1312.72 1215.23L1314.71 1216.06L1316.69 1216.87L1318.67 1217.68L1320.66 1218.48L1322.64 1219.27L1324.63 1220.06L1326.61 1220.84L1328.59 1221.61L1330.58 1222.38L1332.56 1223.13L1334.55 1223.89L1336.53 1224.63L1338.51 1225.37L1340.5 1226.11L1342.48 1226.84L1344.46 1227.56L1346.45 1228.28L1348.43 1228.99L1350.42 1229.7L1352.4 1230.41L1354.38 1231.11L1356.37 1231.8L1358.35 1232.49L1360.34 1233.18L1362.32 1233.86L1364.3 1234.54L1366.29 1235.21L1368.27 1235.88L1370.26 1236.55L1372.24 1237.21L1374.22 1237.87L1376.21 1238.52L1378.19 1239.18L1380.17 1239.83L1382.16 1240.47L1384.14 1241.11L1386.13 1241.75L1388.11 1242.39L1390.09 1243.02L1392.08 1243.66L1394.06 1244.28L1396.05 1244.91L1398.03 1245.53L1400.01 1246.15L1402 1246.77L1403.98 1247.38L1405.96 1248L1407.95 1248.61L1409.93 1249.22L1411.92 1249.82L1413.9 1250.42L1415.88 1251.03L1417.87 1251.63L1419.85 1252.22L1421.84 1252.82L1423.82 1253.41L1425.8 1254L1427.79 1254.59L1429.77 1255.18L1431.76 1255.76L1433.74 1256.35L1435.72 1256.93L1437.71 1257.51L1439.69 1258.08L1441.67 1258.66L1443.66 1259.24L1445.64 1259.81L1447.63 1260.38L1449.61 1260.95L1451.59 1261.52L1453.58 1262.08L1455.56 1262.65L1457.55 1263.21L1459.53 1263.77L1461.51 1264.33L1463.5 1264.89L1465.48 1265.45L1467.47 1266L1469.45 1266.56L1471.43 1267.11L1473.42 1267.66L1475.4 1268.21L1477.38 1268.76L1479.37 1269.31L1481.35 1269.86L1483.34 1270.4L1485.32 1270.95L1487.3 1271.49L1489.29 1272.03L1491.27 1272.57L1493.26 1273.11L1495.24 1273.65L1497.22 1274.18L1499.21 1274.72L1501.19 1275.25L1503.18 1275.79L1505.16 1276.32L1507.14 1276.85L1509.13 1277.38L1511.11 1277.91L1513.1 1278.43L1515.08 1278.96L1517.06 1279.49L1519.05 1280.01L1521.03 1280.53L1523.01 1281.05L1525 1281.58L1526.98 1282.1L1528.97 1282.62L1530.95 1283.13L1532.93 1283.65L1534.92 1284.17L1536.9 1284.68L1538.89 1285.2L1540.87 1285.71L1542.85 1286.22L1544.84 1286.73L1546.82 1287.24L1548.8 1287.75L1550.79 1288.26L1552.77 1288.77L1554.76 1289.27L1556.74 1289.78L1558.72 1290.28L1560.71 1290.79L1562.69 1291.29L1564.68 1291.79L1566.66 1292.29L1568.64 1292.8L1570.63 1293.29L1572.61 1293.79L1574.6 1294.29L1576.58 1294.79L1578.56 1295.28L1580.55 1295.78L1582.53 1296.28L1584.51 1296.77L1586.5 1297.26L1588.48 1297.75L1590.47 1298.25L1592.45 1298.74L1594.43 1299.23L1596.42 1299.72L1598.4 1300.2L1600.39 1300.69L1602.37 1301.18L1604.35 1301.67L1606.34 1302.15L1608.32 1302.64L1610.31 1303.12L1612.29 1303.6L1614.27 1304.09L1616.26 1304.57L1618.24 1305.05L1620.22 1305.53L1622.21 1306.01L1624.19 1306.49L1626.18 1306.97L1628.16 1307.44L1630.14 1307.92L1632.13 1308.4L1634.11 1308.87L1636.1 1309.35L1638.08 1309.82L1640.06 1310.3L1642.05 1310.77L1644.03 1311.24L1646.02 1311.71L1648 1312.19L1649.98 1312.66L1651.97 1313.13L1653.95 1313.6L1655.93 1314.07L1657.92 1314.53L1659.9 1315L1661.89 1315.47L1663.87 1315.94L1665.85 1316.4L1667.84 1316.87L1669.82 1317.33L1671.81 1317.8L1673.79 1318.26L1675.77 1318.72L1677.76 1319.19L1679.74 1319.65L1681.73 1320.11L1683.71 1320.57L1685.69 1321.03L1687.68 1321.49L1689.66 1321.95L1691.64 1322.41L1693.63 1322.87L1695.61 1323.33L1697.6 1323.79L1699.58 1324.24L1701.56 1324.7L1703.55 1325.16L1705.53 1325.61L1707.52 1326.07L1709.5 1326.52" stroke="#f00"/>
<path d="M995.3 957.77L995.5 959.86L995.7 962.2L995.9 964.76L996.09 967.5L996.29 970.39L996.49 973.42L996.69 976.55L996.89 979.77L997.09 983.05L997.28 986.39L997.48 989.75L997.68 993.14L997.88 996.53L998.08 999.91L998.28 1003.28L998.47 1006.62L998.67 1009.93L998.87 1013.19L999.07 1016.41L999.27 1019.57L999.47 1022.68L999.66 1025.71L999.86 1028.68L1000.06 1031.58L1000.26 1034.41L1000.46 1037.16L1000.66 1039.83L1000.85 1042.42L1001.05 1044.94L1001.25 1047.37L1001.45 1049.72L1001.65 1051.98L1001.85 1054.17L1002.05 1056.27L1002.24 1058.29L1002.44 1060.22L1002.64 1062.08L1002.84 1063.86L1003.04 1065.55L1003.24 1067.17L1003.43 1068.71L1003.63 1070.17L1003.83 1071.56L1004.03 1072.87L1004.23 1074.11L1004.43 1075.28L1004.62 1076.37L1004.82 1077.4L1005.02 1078.35L1005.22 1079.24L1005.42 1080.07L1005.62 1080.83L1005.81 1081.52L1006.01 1082.15L1006.21 1082.73L1006.41 1083.24L1006.61 1083.69L1006.81 1084.09L1007 1084.43L1007.2 1084.72L1007.4 1084.95L1007.6 1085.13L1007.8 1085.26L1008 1085.35L1008.2 1085.38L1008.39 1085.37L1008.59 1085.32L1008.79 1085.23L1008.99 1085.09L1009.19 1084.92L1009.39 1084.71L1009.58 1084.46L1009.78 1084.17L1009.98 1083.85L1010.18 1083.5L1010.38 1083.11L1010.58 1082.69L1010.77 1082.24L1010.97 1081.75L1011.17 1081.24L1011.37 1080.69L1011.57 1080.12L1011.77 1079.52L1011.96 1078.89L1012.16 1078.23L1012.36 1077.55L1012.56 1076.84L1012.76 1076.1L1012.96 1075.34L1013.15 1074.56L1013.35 1073.76L1013.55 1072.93L1013.75 1072.08L1013.95 1071.21L1014.15 1070.31L1014.35 1069.4L1014.54 1068.47L1014.74 1067.51L1014.94 1066.54L1015.14 1065.55L1015.34 1064.55L1015.54 1063.52L1015.73 1062.48L1015.93 1061.42L1016.13 1060.35L1016.33 1059.26L1016.53 1058.15L1016.73 1057.03L1016.92 1055.9L1017.12 1054.75L1017.32 1053.59L1017.52 1052.42L1017.72 1051.23L1017.92 1050.03L1018.11 1048.82L1018.31 1047.6L1018.51 1046.37L1018.71 1045.13L1018.91 1043.87L1019.11 1042.61L1019.31 1041.34L1019.5 1040.05L1019.7 1038.76L1019.9 1037.46L1020.1 1036.16L1020.3 1034.84L1020.5 1033.52L1020.69 1032.19L1020.89 1030.85L1021.09 1029.5L1021.29 1028.15L1021.49 1026.8L1021.69 1025.43L1021.88 1024.07L1022.08 1022.69L1022.28 1021.31L1022.48 1019.93L1022.68 1018.54L1022.88 1017.15L1023.07 1015.75L1023.27 1014.35L1023.47 1012.95L1023.67 1011.54L1023.87 1010.13L1024.07 1008.72L1024.26 1007.31L1024.46 1005.89L1024.66 1004.47L1024.86 1003.05L1025.06 1001.62L1025.26 1000.2L1025.46 998.77L1025.65 997.35L1025.85 995.92L1026.05 994.49L1026.25 993.06L1026.45 991.63L1026.65 990.2L1026.84 988.78L1027.04 987.35L1027.24 985.92L1027.44 984.49L1027.64 983.07L1027.84 981.64L1028.03 980.22L1028.23 978.79L1028.43 977.37L1028.63 975.95L1028.83 974.54L1029.03 973.12L1029.22 971.71L1029.42 970.3L1029.62 968.89L1029.82 967.49L1030.02 966.09L1030.22 964.69L1030.41 963.29L1030.61 961.9L1030.81 960.51L1031.01 959.12L1031.21 957.74L1031.41 956.37L1031.61 954.99L1031.8 953.63L1032 952.26L1032.2 950.9L1032.4 949.55L1032.6 948.2L1032.8 946.86L1032.99 945.53L1033.19 944.2L1033.39 942.88L1033.59 941.56L1033.79 940.26L1033.99 938.96L1034.18 937.67L1034.38 936.38L1034.58 935.11L1034.78 933.84L1034.98 932.58L1035.18 931.33L1035.37 930.09L1035.57 928.86L1035.77 927.63L1035.97 926.42L1036.17 925.21L1036.37 924.02L1036.56 922.84L1036.76 921.66L1036.96 920.5L1037.16 919.34L1037.36 918.2L1037.56 917.06L1037.76 915.94L1037.95 914.83L1038.15 913.72L1038.35 912.63L1038.55 911.55L1038.75 910.48L1038.95 909.42L1039.14 908.38L1039.34 907.34L1039.54 906.31L1039.74 905.3L1039.94 904.29L1040.14 903.3L1040.33 902.32L1040.53 901.34L1040.73 900.38L1040.93 899.43L1041.13 898.49L1041.33 897.56L1041.52 896.64L1041.72 895.73L1041.92 894.84L1042.12 893.95L1042.32 893.07L1042.52 892.21L1042.71 891.35L1042.91 890.51L1044.9 882.62L1046.88 875.74L1048.87 869.84L1050.85 864.87L1052.83 860.8L1054.82 857.6L1056.8 855.21L1058.78 853.59L1060.77 852.71L1062.75 852.53L1064.74 852.99L1066.72 854.07L1068.7 855.71L1070.69 857.89L1072.67 860.56L1074.66 863.68L1076.64 867.21L1078.62 871.11L1080.61 875.36L1082.59 879.91L1084.58 884.73L1086.56 889.79L1088.54 895.05L1090.53 900.49L1092.51 906.08L1094.49 911.79L1096.48 917.59L1098.46 923.47L1100.45 929.39L1102.43 935.33L1104.41 941.28L1106.4 947.22L1108.38 953.14L1110.37 959.02L1112.35 964.86L1114.33 970.65L1116.32 976.37L1118.3 982.03L1120.28 987.62L1122.27 993.13L1124.25 998.56L1126.24 1003.9L1128.22 1009.16L1130.2 1014.32L1132.19 1019.4L1134.17 1024.38L1136.16 1029.26L1138.14 1034.05L1140.12 1038.75L1142.11 1043.34L1144.09 1047.84L1146.08 1052.25L1148.06 1056.56L1150.04 1060.78L1152.03 1064.9L1154.01 1068.93L1155.99 1072.87L1157.98 1076.72L1159.96 1080.48L1161.95 1084.15L1163.93 1087.73L1165.91 1091.22L1167.9 1094.63L1169.88 1097.95L1171.87 1101.19L1173.85 1104.35L1175.83 1107.43L1177.82 1110.43L1179.8 1113.35L1181.79 1116.2L1183.77 1118.98L1185.75 1121.68L1187.74 1124.32L1189.72 1126.88L1191.7 1129.39L1193.69 1131.82L1195.67 1134.2L1197.66 1136.51L1199.64 1138.77L1201.62 1140.97L1203.61 1143.12L1205.59 1145.21L1207.58 1147.25L1209.56 1149.24L1211.54 1151.18L1213.53 1153.07L1215.51 1154.92L1217.5 1156.72L1219.48 1158.49L1221.46 1160.21L1223.45 1161.89L1225.43 1163.53L1227.41 1165.14L1229.4 1166.71L1231.38 1168.25L1233.37 1169.75L1235.35 1171.22L1237.33 1172.66L1239.32 1174.07L1241.3 1175.45L1243.29 1176.81L1245.27 1178.13L1247.25 1179.43L1249.24 1180.71L1251.22 1181.96L1253.21 1183.19L1255.19 1184.4L1257.17 1185.58L1259.16 1186.75L1261.14 1187.89L1263.12 1189.02L1265.11 1190.13L1267.09 1191.22L1269.08 1192.29L1271.06 1193.34L1273.04 1194.38L1275.03 1195.4L1277.01 1196.41L1279 1197.41L1280.98 1198.39L1282.96 1199.35L1284.95 1200.31L1286.93 1201.25L1288.92 1202.18L1290.9 1203.09L1292.88 1204L1294.87 1204.9L1296.85 1205.78L1298.84 1206.65L1300.82 1207.52L1302.8 1208.37L1304.79 1209.22L1306.77 1210.05L1308.75 1210.88L1310.74 1211.7L1312.72 1212.51L1314.71 1213.31L1316.69 1214.11L1318.67 1214.89L1320.66 1215.67L1322.64 1216.45L1324.63 1217.21L1326.61 1217.97L1328.59 1218.72L1330.58 1219.47L1332.56 1220.21L1334.55 1220.95L1336.53 1221.68L1338.51 1222.4L1340.5 1223.12L1342.48 1223.83L1344.46 1224.54L1346.45 1225.24L1348.43 1225.94L1350.42 1226.64L1352.4 1227.33L1354.38 1228.01L1356.37 1228.69L1358.35 1229.37L1360.34 1230.04L1362.32 1230.71L1364.3 1231.38L1366.29 1232.04L1368.27 1232.7L1370.26 1233.35L1372.24 1234L1374.22 1234.65L1376.21 1235.29L1378.19 1235.93L1380.17 1236.57L1382.16 1237.21L1384.14 1237.84L1386.13 1238.47L1388.11 1239.09L1390.09 1239.71L1392.08 1240.33L1394.06 1240.95L1396.05 1241.57L1398.03 1242.18L1400.01 1242.79L1402 1243.4L1403.98 1244L1405.96 1244.6L1407.95 1245.2L1409.93 1245.8L1411.92 1246.4L1413.9 1246.99L1415.88 1247.58L1417.87 1248.17L1419.85 1248.76L1421.84 1249.34L1423.82 1249.92L1425.8 1250.5L1427.79 1251.08L1429.77 1251.66L1431.76 1252.23L1433.74 1252.81L1435.72 1253.38L1437.71 1253.95L1439.69 1254.51L1441.67 1255.08L1443.66 1255.64L1445.64 1256.2L1447.63 1256.76L1449.61 1257.32L1451.59 1257.88L1453.58 1258.44L1455.56 1258.99L1457.55 1259.54L1459.53 1260.09L1461.51 1260.64L1463.5 1261.19L1465.48 1261.73L1467.47 1262.28L1469.45 1262.82L1471.43 1263.36L1473.42 1263.9L1475.4 1264.44L1477.38 1264.98L1479.37 1265.52L1481.35 1266.05L1483.34 1266.59L1485.32 1267.12L1487.3 1267.65L1489.29 1268.18L1491.27 1268.71L1493.26 1269.23L1495.24 1269.76L1497.22 1270.28L1499.21 1270.81L1501.19 1271.33L1503.18 1271.85L1505.16 1272.37L1507.14 1272.89L1509.13 1273.41L1511.11 1273.92L1513.1 1274.44L1515.08 1274.95L1517.06 1275.47L1519.05 1275.98L1521.03 1276.49L1523.01 1277L1525 1277.51L1526.98 1278.02L1528.97 1278.52L1530.95 1279.03L1532.93 1279.54L1534.92 1280.04L1536.9 1280.54L1538.89 1281.05L1540.87 1281.55L1542.85 1282.05L1544.84 1282.55L1546.82 1283.05L1548.8 1283.54L1550.79 1284.04L1552.77 1284.54L1554.76 1285.03L1556.74 1285.53L1558.72 1286.02L1560.71 1286.51L1562.69 1287.01L1564.68 1287.5L1566.66 1287.99L1568.64 1288.48L1570.63 1288.97L1572.61 1289.46L1574.6 1289.95L1576.58 1290.43L1578.56 1290.92L1580.55 1291.41L1582.53 1291.89L1584.51 1292.38L1586.5 1292.86L1588.48 1293.34L1590.47 1293.83L1592.45 1294.31L1594.43 1294.79L1596.42 1295.27L1598.4 1295.75L1600.39 1296.23L1602.37 1296.71L1604.35 1297.19L1606.34 1297.67L1608.32 1298.15L1610.31 1298.62L1612.29 1299.1L1614.27 1299.58L1616.26 1300.05L1618.24 1300.53L1620.22 1301L1622.21 1301.48L1624.19 1301.95L1626.18 1302.43L1628.16 1302.9L1630.14 1303.37L1632.13 1303.85L1634.11 1304.32L1636.1 1304.79L1638.08 1305.26L1640.06 1305.73L1642.05 1306.21L1644.03 1306.68L1646.02 1307.15L1648 1307.62L1649.98 1308.09L1651.97 1308.56L1653.95 1309.03L1655.93 1309.49L1657.92 1309.96L1659.9 1310.43L1661.89 1310.9L1663.87 1311.37L1665.85 1311.84L1667.84 1312.31L1669.82 1312.77L1671.81 1313.24L1673.79 1313.71L1675.77 1314.18L1677.76 1314.64L1679.74 1315.11L1681.73 1315.58L1683.71 1316.04L1685.69 1316.51L1687.68 1316.98L1689.66 1317.44L1691.64 1317.91L1693.63 1318.38L1695.61 1318.84L1697.6 1319.31L1699.58 1319.78L1701.56 1320.24L1703.55 1320.71L1705.53 1321.18L1707.52 1321.64L1709.5 1322.11" stroke="#0f0"/>
<path d="M995.3 1207.69L995.5 1044.66L995.7 1023.86L995.9 1020.5L996.09 1015.53L996.29 1010.84L996.49 1006.94L996.69 1003.85L996.89 1001.51L997.09 999.86L997.28 998.81L997.48 998.32L997.68 998.3L997.88 998.71L998.08 999.49L998.28 1000.6L998.47 1002L998.67 1003.64L998.87 1005.5L999.07 1007.54L999.27 1009.72L999.47 1012.03L999.66 1014.43L999.86 1016.92L1000.06 1019.45L1000.26 1022.04L1000.46 1024.64L1000.66 1027.25L1000.85 1029.86L1001.05 1032.46L1001.25 1035.03L1001.45 1037.56L1001.65 1040.06L1001.85 1042.51L1002.05 1044.9L1002.24 1047.24L1002.44 1049.51L1002.64 1051.71L1002.84 1053.84L1003.04 1055.89L1003.24 1057.87L1003.43 1059.78L1003.63 1061.6L1003.83 1063.34L1004.03 1065L1004.23 1066.58L1004.43 1068.07L1004.62 1069.48L1004.82 1070.82L1005.02 1072.07L1005.22 1073.24L1005.42 1074.33L1005.62 1075.35L1005.81 1076.28L1006.01 1077.14L1006.21 1077.93L1006.41 1078.64L1006.61 1079.27L1006.81 1079.84L1007 1080.34L1007.2 1080.76L1007.4 1081.13L1007.6 1081.42L1007.8 1081.66L1008 1081.83L1008.2 1081.95L1008.39 1082.01L1008.59 1082.02L1008.79 1081.98L1008.99 1081.9L1009.19 1081.78L1009.39 1081.61L1009.58 1081.41L1009.78 1081.17L1009.98 1080.89L1010.18 1080.58L1010.38 1080.23L1010.58 1079.85L1010.77 1079.44L1010.97 1079L1011.17 1078.53L1011.37 1078.02L1011.57 1077.49L1011.77 1076.93L1011.96 1076.34L1012.16 1075.73L1012.36 1075.09L1012.56 1074.42L1012.76 1073.73L1012.96 1073.02L1013.15 1072.28L1013.35 1071.52L1013.55 1070.73L1013.75 1069.93L1013.95 1069.1L1014.15 1068.25L1014.35 1067.38L1014.54 1066.49L1014.74 1065.57L1014.94 1064.64L1015.14 1063.69L1015.34 1062.71L1015.54 1061.72L1015.73 1060.7L1015.93 1059.67L1016.13 1058.62L1016.33 1057.54L1016.53 1056.45L1016.73 1055.33L1016.92 1054.2L1017.12 1053.04L1017.32 1051.87L1017.52 1050.67L1017.72 1049.45L1017.92 1048.22L1018.11 1046.96L1018.31 1045.68L1018.51 1044.38L1018.71 1043.06L1018.91 1041.72L1019.11 1040.36L1019.31 1038.99L1019.5 1037.59L1019.7 1036.18L1019.9 1034.76L1020.1 1033.31L1020.3 1031.85L1020.5 1030.37L1020.69 1028.88L1020.89 1027.38L1021.09 1025.86L1021.29 1024.32L1021.49 1022.78L1021.69 1021.22L1021.88 1019.65L1022.08 1018.06L1022.28 1016.47L1022.48 1014.86L1022.68 1013.25L1022.88 1011.62L1023.07 1009.99L1023.27 1008.35L1023.47 1006.7L1023.67 1005.04L1023.87 1003.38L1024.07 1001.71L1024.26 1000.03L1024.46 998.35L1024.66 996.67L1024.86 994.98L1025.06 993.28L1025.26 991.59L1025.46 989.89L1025.65 988.18L1025.85 986.48L1026.05 984.78L1026.25 983.07L1026.45 981.36L1026.65 979.66L1026.84 977.96L1027.04 976.25L1027.24 974.55L1027.44 972.85L1027.64 971.15L1027.84 969.46L1028.03 967.77L1028.23 966.08L1028.43 964.4L1028.63 962.72L1028.83 961.05L1029.03 959.38L1029.22 957.72L1029.42 956.07L1029.62 954.42L1029.82 952.78L1030.02 951.14L1030.22 949.52L1030.41 947.9L1030.61 946.29L1030.81 944.68L1031.01 943.09L1031.21 941.51L1031.41 939.93L1031.61 938.37L1031.8 936.82L1032 935.27L1032.2 933.74L1032.4 932.22L1032.6 930.71L1032.8 929.21L1032.99 927.72L1033.19 926.24L1033.39 924.77L1033.59 923.32L1033.79 921.88L1033.99 920.45L1034.18 919.04L1034.38 917.63L1034.58 916.24L1034.78 914.86L1034.98 913.49L1035.18 912.14L1035.37 910.8L1035.57 909.47L1035.77 908.15L1035.97 906.84L1036.17 905.55L1036.37 904.27L1036.56 903L1036.76 901.75L1036.96 900.5L1037.16 899.27L1037.36 898.05L1037.56 896.85L1037.76 895.65L1037.95 894.47L1038.15 893.3L1038.35 892.14L1038.55 891L1038.75 889.86L1038.95 888.74L1039.14 887.63L1039.34 886.54L1039.54 885.45L1039.74 884.38L1039.94 883.32L1040.14 882.27L1040.33 881.23L1040.53 880.21L1040.73 879.19L1040.93 878.19L1041.13 877.2L1041.33 876.22L1041.52 875.26L1041.72 874.3L1041.92 873.36L1042.12 872.43L1042.32 871.51L1042.52 870.6L1042.71 869.71L1042.91 868.82L1044.9 860.61L1046.88 853.51L1048.87 847.48L1050.85 842.48L1052.83 838.46L1054.82 835.39L1056.8 833.2L1058.78 831.86L1060.77 831.32L1062.75 831.54L1064.74 832.46L1066.72 834.05L1068.7 836.25L1070.69 839.03L1072.67 842.33L1074.66 846.12L1076.64 850.34L1078.62 854.95L1080.61 859.91L1082.59 865.19L1084.58 870.73L1086.56 876.52L1088.54 882.5L1090.53 888.65L1092.51 894.93L1094.49 901.31L1096.48 907.77L1098.46 914.28L1100.45 920.81L1102.43 927.34L1104.41 933.85L1106.4 940.32L1108.38 946.73L1110.37 953.07L1112.35 959.33L1114.33 965.52L1116.32 971.61L1118.3 977.61L1120.28 983.51L1122.27 989.32L1124.25 995.01L1126.24 1000.6L1128.22 1006.09L1130.2 1011.46L1132.19 1016.73L1134.17 1021.88L1136.16 1026.93L1138.14 1031.87L1140.12 1036.7L1142.11 1041.42L1144.09 1046.04L1146.08 1050.55L1148.06 1054.96L1150.04 1059.26L1152.03 1063.47L1154.01 1067.57L1155.99 1071.58L1157.98 1075.49L1159.96 1079.3L1161.95 1083.02L1163.93 1086.65L1165.91 1090.18L1167.9 1093.62L1169.88 1096.97L1171.87 1100.23L1173.85 1103.41L1175.83 1106.5L1177.82 1109.5L1179.8 1112.43L1181.79 1115.28L1183.77 1118.05L1185.75 1120.75L1187.74 1123.37L1189.72 1125.92L1191.7 1128.41L1193.69 1130.82L1195.67 1133.18L1197.66 1135.47L1199.64 1137.7L1201.62 1139.87L1203.61 1141.98L1205.59 1144.04L1207.58 1146.04L1209.56 1148L1211.54 1149.9L1213.53 1151.76L1215.51 1153.57L1217.5 1155.33L1219.48 1157.05L1221.46 1158.73L1223.45 1160.37L1225.43 1161.97L1227.41 1163.53L1229.4 1165.06L1231.38 1166.55L1233.37 1168.01L1235.35 1169.44L1237.33 1170.84L1239.32 1172.2L1241.3 1173.54L1243.29 1174.85L1245.27 1176.13L1247.25 1177.39L1249.24 1178.62L1251.22 1179.83L1253.21 1181.02L1255.19 1182.19L1257.17 1183.33L1259.16 1184.45L1261.14 1185.56L1263.12 1186.65L1265.11 1187.71L1267.09 1188.77L1269.08 1189.8L1271.06 1190.82L1273.04 1191.82L1275.03 1192.81L1277.01 1193.79L1279 1194.75L1280.98 1195.7L1282.96 1196.63L1284.95 1197.56L1286.93 1198.47L1288.92 1199.37L1290.9 1200.26L1292.88 1201.14L1294.87 1202.01L1296.85 1202.87L1298.84 1203.72L1300.82 1204.56L1302.8 1205.39L1304.79 1206.22L1306.77 1207.03L1308.75 1207.84L1310.74 1208.64L1312.72 1209.43L1314.71 1210.22L1316.69 1211L1318.67 1211.77L1320.66 1212.54L1322.64 1213.3L1324.63 1214.06L1326.61 1214.8L1328.59 1215.55L1330.58 1216.29L1332.56 1217.02L1334.55 1217.75L1336.53 1218.47L1338.51 1219.18L1340.5 1219.9L1342.48 1220.61L1344.46 1221.31L1346.45 1222.01L1348.43 1222.7L1350.42 1223.39L1352.4 1224.08L1354.38 1224.76L1356.37 1225.44L1358.35 1226.12L1360.34 1226.79L1362.32 1227.46L1364.3 1228.12L1366.29 1228.78L1368.27 1229.44L1370.26 1230.1L1372.24 1230.75L1374.22 1231.4L1376.21 1232.04L1378.19 1232.68L1380.17 1233.32L1382.16 1233.96L1384.14 1234.59L1386.13 1235.22L1388.11 1235.85L1390.09 1236.48L1392.08 1237.1L1394.06 1237.72L1396.05 1238.34L1398.03 1238.95L1400.01 1239.56L1402 1240.17L1403.98 1240.78L1405.96 1241.38L1407.95 1241.99L1409.93 1242.59L1411.92 1243.18L1413.9 1243.78L1415.88 1244.37L1417.87 1244.96L1419.85 1245.55L1421.84 1246.14L1423.82 1246.72L1425.8 1247.3L1427.79 1247.88L1429.77 1248.46L1431.76 1249.03L1433.74 1249.61L1435.72 1250.18L1437.71 1250.75L1439.69 1251.31L1441.67 1251.88L1443.66 1252.44L1445.64 1253L1447.63 1253.56L1449.61 1254.12L1451.59 1254.67L1453.58 1255.22L1455.56 1255.77L1457.55 1256.32L1459.53 1256.87L1461.51 1257.42L1463.5 1257.96L1465.48 1258.5L1467.47 1259.04L1469.45 1259.58L1471.43 1260.11L1473.42 1260.65L1475.4 1261.18L1477.38 1261.71L1479.37 1262.23L1481.35 1262.76L1483.34 1263.29L1485.32 1263.81L1487.3 1264.33L1489.29 1264.85L1491.27 1265.37L1493.26 1265.88L1495.24 1266.4L1497.22 1266.91L1499.21 1267.42L1501.19 1267.93L1503.18 1268.44L1505.16 1268.95L1507.14 1269.46L1509.13 1269.96L1511.11 1270.46L1513.1 1270.97L1515.08 1271.47L1517.06 1271.97L1519.05 1272.46L1521.03 1272.96L1523.01 1273.46L1525 1273.95L1526.98 1274.44L1528.97 1274.94L1530.95 1275.43L1532.93 1275.92L1534.92 1276.41L1536.9 1276.89L1538.89 1277.38L1540.87 1277.87L1542.85 1278.35L1544.84 1278.84L1546.82 1279.32L1548.8 1279.8L1550.79 1280.28L1552.77 1280.76L1554.76 1281.24L1556.74 1281.72L1558.72 1282.2L1560.71 1282.68L1562.69 1283.15L1564.68 1283.63L1566.66 1284.11L1568.64 1284.58L1570.63 1285.05L1572.61 1285.53L1574.6 1286L1576.58 1286.47L1578.56 1286.94L1580.55 1287.41L1582.53 1287.89L1584.51 1288.36L1586.5 1288.83L1588.48 1289.29L1590.47 1289.76L1592.45 1290.23L1594.43 1290.7L1596.42 1291.17L1598.4 1291.64L1600.39 1292.1L1602.37 1292.57L1604.35 1293.04L1606.34 1293.5L1608.32 1293.97L1610.31 1294.44L1612.29 1294.9L1614.27 1295.37L1616.26 1295.83L1618.24 1296.3L1620.22 1296.76L1622.21 1297.23L1624.19 1297.69L1626.18 1298.16L1628.16 1298.63L1630.14 1299.09L1632.13 1299.56L1634.11 1300.02L1636.1 1300.49L1638.08 1300.95L1640.06 1301.42L1642.05 1301.89L1644.03 1302.35L1646.02 1302.82L1648 1303.29L1649.98 1303.75L1651.97 1304.22L1653.95 1304.69L1655.93 1305.16L1657.92 1305.63L1659.9 1306.09L1661.89 1306.56L1663.87 1307.03L1665.85 1307.5L1667.84 1307.97L1669.82 1308.45L1671.81 1308.92L1673.79 1309.39L1675.77 1309.86L1677.76 1310.33L1679.74 1310.81L1681.73 1311.28L1683.71 1311.76L1685.69 1312.23L1687.68 1312.71L1689.66 1313.19L1691.64 1313.66L1693.63 1314.14L1695.61 1314.62L1697.6 1315.1L1699.58 1315.58L1701.56 1316.07L1703.55 1316.55L1705.53 1317.03L1707.52 1317.52L1709.5 1318" stroke="#00f"/>
</g>
<g class="tk">
<text transform="translate(994.5 1395) scale(1 1.033)" text-anchor="middle">0</text>
<text transform="translate(1073.86 1395) scale(1 1.033)" text-anchor="middle">10</text>
<text transform="translate(1153.21 1395) scale(1 1.033)" text-anchor="middle">20</text>
<text transform="translate(1232.57 1395) scale(1 1.033)" text-anchor="middle">30</text>
<text transform="translate(1311.92 1395) scale(1 1.033)" text-anchor="middle">40</text>
<text transform="translate(1391.28 1395) scale(1 1.033)" text-anchor="middle">50</text>
<text transform="translate(1470.63 1395) scale(1 1.033)" text-anchor="middle">60</text>
<text transform="translate(1549.99 1395) scale(1 1.033)" text-anchor="middle">70</text>
<text transform="translate(1629.34 1395) scale(1 1.033)" text-anchor="middle">80</text>
<text transform="translate(1708.7 1395) scale(1 1.033)" text-anchor="middle">90</text>
<text transform="translate(985.3 1372) scale(1 1.033)" text-anchor="end">30</text>
<text transform="translate(985.3 1315.56) scale(1 1.033)" text-anchor="end">40</text>
<text transform="translate(985.3 1259.12) scale(1 1.033)" text-anchor="end">50</text>
<text transform="translate(985.3 1202.68) scale(1 1.033)" text-anchor="end">60</text>
<text transform="translate(985.3 1146.24) scale(1 1.033)" text-anchor="end">70</text>
<text transform="translate(985.3 1089.8) scale(1 1.033)" text-anchor="end">80</text>
<text transform="translate(985.3 1033.36) scale(1 1.033)" text-anchor="end">90</text>
<text transform="translate(985.3 976.92) scale(1 1.033)" text-anchor="end">100</text>
<text transform="translate(985.3 920.48) scale(1 1.033)" text-anchor="end">110</text>
<text transform="translate(985.3 864.04) scale(1 1.033)" text-anchor="end">120</text>
<text transform="translate(985.3 807.6) scale(1 1.033)" text-anchor="end">130</text>
</g>
<text transform="translate(1351.4 1428.5) scale(1 1.06)" class="lb" text-anchor="middle">Time in days</text>
<text transform="translate(928.2 1080.8) rotate(-90) scale(1 1.06)" class="lb" text-anchor="middle" xml:space="preserve">Exposed rodents E<tspan class="sb" dy="9.6">r</tspan></text>
<rect x="1510.4" y="820.3" width="177.7" height="150.9" fill="#fff" stroke="#262626" stroke-width="1.6"/>
<path d="M1521.1 841.7h70.4" stroke="#000" stroke-width="4.55"/>
<text transform="translate(1596.3 846.9) scale(1 1.03)" class="lg" xml:space="preserve"><tspan class="al">α</tspan><tspan class="s2" dx="1" dy="9.32">2</tspan><tspan dx="2" dy="-9.32">= 0.55</tspan></text>
<path d="M1521.1 877.7h70.4" stroke="#f00" stroke-width="4.55"/>
<text transform="translate(1596.3 882.9) scale(1 1.03)" class="lg" xml:space="preserve"><tspan class="al">α</tspan><tspan class="s2" dx="1" dy="9.32">2</tspan><tspan dx="2" dy="-9.32">=0.65</tspan></text>
<path d="M1521.1 913.7h70.4" stroke="#0f0" stroke-width="4.55"/>
<text transform="translate(1596.3 918.9) scale(1 1.03)" class="lg" xml:space="preserve"><tspan class="al">α</tspan><tspan class="s2" dx="1" dy="9.32">2</tspan><tspan dx="2" dy="-9.32">= 0.75</tspan></text>
<path d="M1521.1 949.7h70.4" stroke="#00f" stroke-width="4.55"/>
<text transform="translate(1596.3 954.9) scale(1 1.03)" class="lg" xml:space="preserve"><tspan class="al">α</tspan><tspan class="s2" dx="1" dy="9.32">2</tspan><tspan dx="2" dy="-9.32"> = 0.85</tspan></text>
<text transform="translate(1329 1485.5)" class="cp" text-anchor="middle">(d)</text>
</g>
<g>
<path d="M165.16 1591.1V2155.5M244.51 1591.1V2155.5M323.87 1591.1V2155.5M403.22 1591.1V2155.5M482.58 1591.1V2155.5M561.93 1591.1V2155.5M641.29 1591.1V2155.5M720.64 1591.1V2155.5M85.8 2061.43H800M85.8 1967.37H800M85.8 1873.3H800M85.8 1779.23H800M85.8 1685.17H800" stroke="#dfdfdf" stroke-width="1.5" fill="none"/>
<path d="M165.16 2155.5v-8M165.16 1591.1v8M244.51 2155.5v-8M244.51 1591.1v8M323.87 2155.5v-8M323.87 1591.1v8M403.22 2155.5v-8M403.22 1591.1v8M482.58 2155.5v-8M482.58 1591.1v8M561.93 2155.5v-8M561.93 1591.1v8M641.29 2155.5v-8M641.29 1591.1v8M720.64 2155.5v-8M720.64 1591.1v8M85.8 2061.43h8M800 2061.43h-8M85.8 1967.37h8M800 1967.37h-8M85.8 1873.3h8M800 1873.3h-8M85.8 1779.23h8M800 1779.23h-8M85.8 1685.17h8M800 1685.17h-8" stroke="#262626" stroke-width="1.6" fill="none"/>
<rect x="85.8" y="1591.1" width="714.2" height="564.4" fill="none" stroke="#262626" stroke-width="1.75"/>
<g clip-path="url(#ce)" fill="none" stroke-width="4.55" stroke-linejoin="round">
<path d="M85.8 2107.52L86 2106.79L86.2 2106.06L86.4 2105.35L86.59 2104.64L86.79 2103.95L86.99 2103.26L87.19 2102.58L87.39 2101.9L87.59 2101.24L87.78 2100.58L87.98 2099.93L88.18 2099.28L88.38 2098.64L88.58 2098.01L88.78 2097.39L88.97 2096.77L89.17 2096.15L89.37 2095.55L89.57 2094.94L89.77 2094.35L89.97 2093.75L90.16 2093.17L90.36 2092.58L90.56 2092.01L90.76 2091.43L90.96 2090.86L91.16 2090.3L91.35 2089.74L91.55 2089.18L91.75 2088.63L91.95 2088.08L92.15 2087.53L92.35 2086.99L92.55 2086.45L92.74 2085.91L92.94 2085.38L93.14 2084.84L93.34 2084.31L93.54 2083.79L93.74 2083.26L93.93 2082.74L94.13 2082.22L94.33 2081.71L94.53 2081.19L94.73 2080.68L94.93 2080.16L95.12 2079.65L95.32 2079.14L95.52 2078.64L95.72 2078.13L95.92 2077.62L96.12 2077.12L96.31 2076.62L96.51 2076.12L96.71 2075.61L96.91 2075.11L97.11 2074.61L97.31 2074.12L97.5 2073.62L97.7 2073.12L97.9 2072.62L98.1 2072.12L98.3 2071.63L98.5 2071.13L98.7 2070.63L98.89 2070.14L99.09 2069.64L99.29 2069.14L99.49 2068.65L99.69 2068.15L99.89 2067.65L100.08 2067.15L100.28 2066.66L100.48 2066.16L100.68 2065.66L100.88 2065.16L101.08 2064.66L101.27 2064.16L101.47 2063.66L101.67 2063.15L101.87 2062.65L102.07 2062.15L102.27 2061.64L102.46 2061.14L102.66 2060.63L102.86 2060.12L103.06 2059.62L103.26 2059.11L103.46 2058.6L103.66 2058.09L103.85 2057.57L104.05 2057.06L104.25 2056.54L104.45 2056.03L104.65 2055.51L104.85 2054.99L105.04 2054.47L105.24 2053.95L105.44 2053.43L105.64 2052.9L105.84 2052.38L106.04 2051.85L106.23 2051.32L106.43 2050.79L106.63 2050.26L106.83 2049.73L107.03 2049.2L107.23 2048.66L107.42 2048.12L107.62 2047.59L107.82 2047.05L108.02 2046.5L108.22 2045.96L108.42 2045.42L108.61 2044.87L108.81 2044.32L109.01 2043.77L109.21 2043.22L109.41 2042.67L109.61 2042.11L109.81 2041.56L110 2041L110.2 2040.44L110.4 2039.88L110.6 2039.31L110.8 2038.75L111 2038.18L111.19 2037.61L111.39 2037.04L111.59 2036.47L111.79 2035.9L111.99 2035.32L112.19 2034.75L112.38 2034.17L112.58 2033.59L112.78 2033L112.98 2032.42L113.18 2031.83L113.38 2031.25L113.57 2030.66L113.77 2030.07L113.97 2029.48L114.17 2028.88L114.37 2028.29L114.57 2027.69L114.76 2027.09L114.96 2026.49L115.16 2025.89L115.36 2025.28L115.56 2024.68L115.76 2024.07L115.96 2023.46L116.15 2022.85L116.35 2022.24L116.55 2021.62L116.75 2021.01L116.95 2020.39L117.15 2019.77L117.34 2019.15L117.54 2018.53L117.74 2017.91L117.94 2017.28L118.14 2016.65L118.34 2016.02L118.53 2015.39L118.73 2014.76L118.93 2014.13L119.13 2013.5L119.33 2012.86L119.53 2012.22L119.72 2011.58L119.92 2010.94L120.12 2010.3L120.32 2009.66L120.52 2009.01L120.72 2008.37L120.91 2007.72L121.11 2007.07L121.31 2006.42L121.51 2005.77L121.71 2005.11L121.91 2004.46L122.11 2003.8L122.3 2003.15L122.5 2002.49L122.7 2001.83L122.9 2001.17L123.1 2000.5L123.3 1999.84L123.49 1999.17L123.69 1998.51L123.89 1997.84L124.09 1997.17L124.29 1996.5L124.49 1995.83L124.68 1995.16L124.88 1994.49L125.08 1993.81L125.28 1993.14L125.48 1992.46L125.68 1991.78L125.87 1991.1L126.07 1990.42L126.27 1989.74L126.47 1989.06L126.67 1988.37L126.87 1987.69L127.06 1987L127.26 1986.32L127.46 1985.63L127.66 1984.94L127.86 1984.25L128.06 1983.56L128.26 1982.87L128.45 1982.18L128.65 1981.49L128.85 1980.79L129.05 1980.1L129.25 1979.4L129.45 1978.71L129.64 1978.01L129.84 1977.31L130.04 1976.61L130.24 1975.92L130.44 1975.21L130.64 1974.51L130.83 1973.81L131.03 1973.11L131.23 1972.41L131.43 1971.7L131.63 1971L131.83 1970.29L132.02 1969.59L132.22 1968.88L132.42 1968.17L132.62 1967.47L132.82 1966.76L133.02 1966.05L133.21 1965.34L133.41 1964.63L135.4 1957.51L137.38 1950.34L139.37 1943.15L141.35 1935.95L143.33 1928.75L145.32 1921.56L147.3 1914.4L149.28 1907.27L151.27 1900.18L153.25 1893.14L155.24 1886.16L157.22 1879.25L159.2 1872.42L161.19 1865.67L163.17 1859L165.16 1852.43L167.14 1845.96L169.12 1839.59L171.11 1833.33L173.09 1827.17L175.07 1821.13L177.06 1815.21L179.04 1809.4L181.03 1803.72L183.01 1798.15L184.99 1792.7L186.98 1787.38L188.96 1782.18L190.95 1777.1L192.93 1772.15L194.91 1767.32L196.9 1762.61L198.88 1758.02L200.87 1753.55L202.85 1749.2L204.83 1744.97L206.82 1740.86L208.8 1736.86L210.78 1732.98L212.77 1729.21L214.75 1725.55L216.74 1722L218.72 1718.56L220.7 1715.22L222.69 1711.99L224.67 1708.85L226.66 1705.82L228.64 1702.89L230.62 1700.06L232.61 1697.31L234.59 1694.67L236.58 1692.11L238.56 1689.64L240.54 1687.26L242.53 1684.96L244.51 1682.75L246.5 1680.62L248.48 1678.57L250.46 1676.6L252.45 1674.7L254.43 1672.87L256.41 1671.12L258.4 1669.44L260.38 1667.83L262.37 1666.29L264.35 1664.81L266.33 1663.4L268.32 1662.05L270.3 1660.76L272.29 1659.53L274.27 1658.35L276.25 1657.24L278.24 1656.18L280.22 1655.17L282.21 1654.22L284.19 1653.32L286.17 1652.46L288.16 1651.66L290.14 1650.91L292.12 1650.2L294.11 1649.53L296.09 1648.91L298.08 1648.34L300.06 1647.8L302.04 1647.31L304.03 1646.85L306.01 1646.44L308 1646.06L309.98 1645.72L311.96 1645.42L313.95 1645.15L315.93 1644.91L317.92 1644.71L319.9 1644.54L321.88 1644.41L323.87 1644.3L325.85 1644.22L327.83 1644.17L329.82 1644.16L331.8 1644.16L333.79 1644.2L335.77 1644.26L337.75 1644.35L339.74 1644.46L341.72 1644.6L343.71 1644.76L345.69 1644.95L347.67 1645.15L349.66 1645.38L351.64 1645.63L353.63 1645.9L355.61 1646.19L357.59 1646.51L359.58 1646.84L361.56 1647.19L363.54 1647.55L365.53 1647.94L367.51 1648.34L369.5 1648.76L371.48 1649.2L373.46 1649.65L375.45 1650.11L377.43 1650.6L379.42 1651.09L381.4 1651.61L383.38 1652.13L385.37 1652.67L387.35 1653.23L389.34 1653.79L391.32 1654.37L393.3 1654.96L395.29 1655.56L397.27 1656.18L399.25 1656.8L401.24 1657.44L403.22 1658.09L405.21 1658.75L407.19 1659.42L409.17 1660.1L411.16 1660.78L413.14 1661.48L415.13 1662.19L417.11 1662.9L419.09 1663.63L421.08 1664.36L423.06 1665.1L425.05 1665.85L427.03 1666.61L429.01 1667.38L431 1668.15L432.98 1668.93L434.96 1669.72L436.95 1670.51L438.93 1671.31L440.92 1672.12L442.9 1672.93L444.88 1673.75L446.87 1674.58L448.85 1675.41L450.84 1676.25L452.82 1677.09L454.8 1677.94L456.79 1678.8L458.77 1679.65L460.76 1680.52L462.74 1681.39L464.72 1682.26L466.71 1683.14L468.69 1684.03L470.67 1684.91L472.66 1685.81L474.64 1686.7L476.63 1687.6L478.61 1688.51L480.59 1689.42L482.58 1690.33L484.56 1691.24L486.55 1692.16L488.53 1693.09L490.51 1694.01L492.5 1694.94L494.48 1695.88L496.47 1696.81L498.45 1697.75L500.43 1698.69L502.42 1699.64L504.4 1700.59L506.38 1701.54L508.37 1702.49L510.35 1703.45L512.34 1704.41L514.32 1705.37L516.3 1706.33L518.29 1707.3L520.27 1708.27L522.26 1709.24L524.24 1710.21L526.22 1711.19L528.21 1712.17L530.19 1713.15L532.17 1714.13L534.16 1715.11L536.14 1716.1L538.13 1717.09L540.11 1718.08L542.09 1719.07L544.08 1720.06L546.06 1721.06L548.05 1722.05L550.03 1723.05L552.01 1724.05L554 1725.05L555.98 1726.05L557.97 1727.06L559.95 1728.07L561.93 1729.07L563.92 1730.08L565.9 1731.09L567.88 1732.1L569.87 1733.12L571.85 1734.13L573.84 1735.14L575.82 1736.16L577.8 1737.18L579.79 1738.2L581.77 1739.22L583.76 1740.24L585.74 1741.26L587.72 1742.28L589.71 1743.31L591.69 1744.33L593.68 1745.36L595.66 1746.39L597.64 1747.42L599.63 1748.44L601.61 1749.48L603.6 1750.51L605.58 1751.54L607.56 1752.57L609.55 1753.61L611.53 1754.64L613.51 1755.68L615.5 1756.71L617.48 1757.75L619.47 1758.79L621.45 1759.83L623.43 1760.86L625.42 1761.9L627.4 1762.95L629.39 1763.99L631.37 1765.03L633.35 1766.07L635.34 1767.12L637.32 1768.16L639.3 1769.21L641.29 1770.25L643.27 1771.3L645.26 1772.35L647.24 1773.39L649.22 1774.44L651.21 1775.49L653.19 1776.54L655.18 1777.59L657.16 1778.64L659.14 1779.69L661.13 1780.74L663.11 1781.8L665.1 1782.85L667.08 1783.9L669.06 1784.96L671.05 1786.01L673.03 1787.07L675.01 1788.12L677 1789.18L678.98 1790.24L680.97 1791.29L682.95 1792.35L684.93 1793.41L686.92 1794.47L688.9 1795.53L690.89 1796.59L692.87 1797.65L694.85 1798.71L696.84 1799.77L698.82 1800.83L700.81 1801.9L702.79 1802.96L704.77 1804.02L706.76 1805.09L708.74 1806.15L710.73 1807.21L712.71 1808.28L714.69 1809.35L716.68 1810.41L718.66 1811.48L720.64 1812.55L722.63 1813.61L724.61 1814.68L726.6 1815.75L728.58 1816.82L730.56 1817.89L732.55 1818.96L734.53 1820.03L736.52 1821.1L738.5 1822.17L740.48 1823.24L742.47 1824.31L744.45 1825.39L746.44 1826.46L748.42 1827.53L750.4 1828.61L752.39 1829.68L754.37 1830.75L756.35 1831.83L758.34 1832.91L760.32 1833.98L762.31 1835.06L764.29 1836.13L766.27 1837.21L768.26 1838.29L770.24 1839.37L772.23 1840.45L774.21 1841.53L776.19 1842.61L778.18 1843.69L780.16 1844.77L782.14 1845.85L784.13 1846.93L786.11 1848.01L788.1 1849.09L790.08 1850.17L792.06 1851.26L794.05 1852.34L796.03 1853.43L798.02 1854.51L800 1855.59" stroke="#000"/>
<path d="M85.8 2107.23L86 2106.44L86.2 2105.67L86.4 2104.9L86.59 2104.15L86.79 2103.42L86.99 2102.69L87.19 2101.97L87.39 2101.27L87.59 2100.58L87.78 2099.9L87.98 2099.22L88.18 2098.56L88.38 2097.91L88.58 2097.27L88.78 2096.63L88.97 2096.01L89.17 2095.39L89.37 2094.78L89.57 2094.18L89.77 2093.58L89.97 2093L90.16 2092.42L90.36 2091.84L90.56 2091.28L90.76 2090.72L90.96 2090.16L91.16 2089.61L91.35 2089.07L91.55 2088.53L91.75 2088L91.95 2087.47L92.15 2086.95L92.35 2086.43L92.55 2085.91L92.74 2085.4L92.94 2084.89L93.14 2084.39L93.34 2083.89L93.54 2083.39L93.74 2082.9L93.93 2082.41L94.13 2081.92L94.33 2081.43L94.53 2080.95L94.73 2080.47L94.93 2079.99L95.12 2079.51L95.32 2079.04L95.52 2078.56L95.72 2078.09L95.92 2077.62L96.12 2077.15L96.31 2076.68L96.51 2076.21L96.71 2075.75L96.91 2075.28L97.11 2074.82L97.31 2074.35L97.5 2073.89L97.7 2073.42L97.9 2072.96L98.1 2072.5L98.3 2072.03L98.5 2071.57L98.7 2071.11L98.89 2070.64L99.09 2070.18L99.29 2069.71L99.49 2069.25L99.69 2068.78L99.89 2068.31L100.08 2067.84L100.28 2067.38L100.48 2066.91L100.68 2066.44L100.88 2065.96L101.08 2065.49L101.27 2065.02L101.47 2064.54L101.67 2064.07L101.87 2063.59L102.07 2063.11L102.27 2062.63L102.46 2062.15L102.66 2061.66L102.86 2061.18L103.06 2060.69L103.26 2060.2L103.46 2059.71L103.66 2059.22L103.85 2058.72L104.05 2058.22L104.25 2057.73L104.45 2057.23L104.65 2056.72L104.85 2056.22L105.04 2055.71L105.24 2055.2L105.44 2054.69L105.64 2054.18L105.84 2053.66L106.04 2053.15L106.23 2052.63L106.43 2052.11L106.63 2051.58L106.83 2051.06L107.03 2050.53L107.23 2050L107.42 2049.46L107.62 2048.93L107.82 2048.39L108.02 2047.85L108.22 2047.3L108.42 2046.76L108.61 2046.21L108.81 2045.66L109.01 2045.11L109.21 2044.55L109.41 2043.99L109.61 2043.43L109.81 2042.87L110 2042.31L110.2 2041.74L110.4 2041.17L110.6 2040.6L110.8 2040.02L111 2039.44L111.19 2038.86L111.39 2038.28L111.59 2037.7L111.79 2037.11L111.99 2036.52L112.19 2035.92L112.38 2035.33L112.58 2034.73L112.78 2034.13L112.98 2033.53L113.18 2032.92L113.38 2032.32L113.57 2031.71L113.77 2031.1L113.97 2030.48L114.17 2029.86L114.37 2029.24L114.57 2028.62L114.76 2028L114.96 2027.37L115.16 2026.74L115.36 2026.11L115.56 2025.48L115.76 2024.84L115.96 2024.2L116.15 2023.56L116.35 2022.92L116.55 2022.27L116.75 2021.63L116.95 2020.98L117.15 2020.32L117.34 2019.67L117.54 2019.01L117.74 2018.35L117.94 2017.69L118.14 2017.03L118.34 2016.37L118.53 2015.7L118.73 2015.03L118.93 2014.36L119.13 2013.68L119.33 2013.01L119.53 2012.33L119.72 2011.65L119.92 2010.97L120.12 2010.29L120.32 2009.6L120.52 2008.91L120.72 2008.22L120.91 2007.53L121.11 2006.84L121.31 2006.14L121.51 2005.45L121.71 2004.75L121.91 2004.05L122.11 2003.34L122.3 2002.64L122.5 2001.93L122.7 2001.23L122.9 2000.52L123.1 1999.81L123.3 1999.09L123.49 1998.38L123.69 1997.66L123.89 1996.95L124.09 1996.23L124.29 1995.51L124.49 1994.78L124.68 1994.06L124.88 1993.33L125.08 1992.61L125.28 1991.88L125.48 1991.15L125.68 1990.42L125.87 1989.68L126.07 1988.95L126.27 1988.22L126.47 1987.48L126.67 1986.74L126.87 1986L127.06 1985.26L127.26 1984.52L127.46 1983.78L127.66 1983.03L127.86 1982.29L128.06 1981.54L128.26 1980.79L128.45 1980.04L128.65 1979.29L128.85 1978.54L129.05 1977.79L129.25 1977.04L129.45 1976.28L129.64 1975.53L129.84 1974.77L130.04 1974.02L130.24 1973.26L130.44 1972.5L130.64 1971.74L130.83 1970.98L131.03 1970.22L131.23 1969.45L131.43 1968.69L131.63 1967.93L131.83 1967.16L132.02 1966.4L132.22 1965.63L132.42 1964.86L132.62 1964.1L132.82 1963.33L133.02 1962.56L133.21 1961.79L133.41 1961.02L135.4 1953.29L137.38 1945.51L139.37 1937.72L141.35 1929.92L143.33 1922.13L145.32 1914.37L147.3 1906.64L149.28 1898.97L151.27 1891.36L153.25 1883.83L155.24 1876.38L157.22 1869.03L159.2 1861.77L161.19 1854.63L163.17 1847.59L165.16 1840.68L167.14 1833.88L169.12 1827.22L171.11 1820.68L173.09 1814.28L175.07 1808.01L177.06 1801.88L179.04 1795.89L181.03 1790.04L183.01 1784.32L184.99 1778.74L186.98 1773.31L188.96 1768.01L190.95 1762.84L192.93 1757.82L194.91 1752.93L196.9 1748.17L198.88 1743.55L200.87 1739.05L202.85 1734.69L204.83 1730.45L206.82 1726.34L208.8 1722.35L210.78 1718.49L212.77 1714.74L214.75 1711.11L216.74 1707.59L218.72 1704.18L220.7 1700.89L222.69 1697.7L224.67 1694.62L226.66 1691.65L228.64 1688.77L230.62 1685.99L232.61 1683.31L234.59 1680.73L236.58 1678.24L238.56 1675.83L240.54 1673.52L242.53 1671.29L244.51 1669.15L246.5 1667.09L248.48 1665.11L250.46 1663.2L252.45 1661.38L254.43 1659.63L256.41 1657.95L258.4 1656.34L260.38 1654.8L262.37 1653.33L264.35 1651.92L266.33 1650.58L268.32 1649.3L270.3 1648.08L272.29 1646.92L274.27 1645.82L276.25 1644.77L278.24 1643.78L280.22 1642.84L282.21 1641.95L284.19 1641.12L286.17 1640.33L288.16 1639.6L290.14 1638.91L292.12 1638.26L294.11 1637.66L296.09 1637.1L298.08 1636.59L300.06 1636.11L302.04 1635.68L304.03 1635.29L306.01 1634.93L308 1634.61L309.98 1634.32L311.96 1634.07L313.95 1633.86L315.93 1633.68L317.92 1633.53L319.9 1633.41L321.88 1633.32L323.87 1633.27L325.85 1633.24L327.83 1633.24L329.82 1633.27L331.8 1633.32L333.79 1633.4L335.77 1633.51L337.75 1633.64L339.74 1633.79L341.72 1633.97L343.71 1634.17L345.69 1634.4L347.67 1634.64L349.66 1634.91L351.64 1635.2L353.63 1635.5L355.61 1635.83L357.59 1636.18L359.58 1636.54L361.56 1636.92L363.54 1637.32L365.53 1637.74L367.51 1638.17L369.5 1638.62L371.48 1639.09L373.46 1639.57L375.45 1640.06L377.43 1640.57L379.42 1641.1L381.4 1641.63L383.38 1642.19L385.37 1642.75L387.35 1643.33L389.34 1643.92L391.32 1644.52L393.3 1645.13L395.29 1645.76L397.27 1646.39L399.25 1647.04L401.24 1647.7L403.22 1648.36L405.21 1649.04L407.19 1649.73L409.17 1650.43L411.16 1651.13L413.14 1651.85L415.13 1652.57L417.11 1653.3L419.09 1654.05L421.08 1654.79L423.06 1655.55L425.05 1656.32L427.03 1657.09L429.01 1657.87L431 1658.65L432.98 1659.45L434.96 1660.25L436.95 1661.05L438.93 1661.87L440.92 1662.68L442.9 1663.51L444.88 1664.34L446.87 1665.18L448.85 1666.02L450.84 1666.87L452.82 1667.72L454.8 1668.58L456.79 1669.44L458.77 1670.31L460.76 1671.18L462.74 1672.06L464.72 1672.94L466.71 1673.83L468.69 1674.72L470.67 1675.62L472.66 1676.51L474.64 1677.42L476.63 1678.32L478.61 1679.24L480.59 1680.15L482.58 1681.07L484.56 1681.99L486.55 1682.91L488.53 1683.84L490.51 1684.77L492.5 1685.71L494.48 1686.65L496.47 1687.59L498.45 1688.53L500.43 1689.48L502.42 1690.43L504.4 1691.38L506.38 1692.33L508.37 1693.29L510.35 1694.25L512.34 1695.21L514.32 1696.18L516.3 1697.14L518.29 1698.11L520.27 1699.08L522.26 1700.06L524.24 1701.03L526.22 1702.01L528.21 1702.99L530.19 1703.97L532.17 1704.95L534.16 1705.94L536.14 1706.92L538.13 1707.91L540.11 1708.9L542.09 1709.89L544.08 1710.89L546.06 1711.88L548.05 1712.88L550.03 1713.88L552.01 1714.88L554 1715.88L555.98 1716.88L557.97 1717.89L559.95 1718.89L561.93 1719.9L563.92 1720.91L565.9 1721.92L567.88 1722.93L569.87 1723.94L571.85 1724.95L573.84 1725.96L575.82 1726.98L577.8 1728L579.79 1729.01L581.77 1730.03L583.76 1731.05L585.74 1732.07L587.72 1733.09L589.71 1734.11L591.69 1735.14L593.68 1736.16L595.66 1737.19L597.64 1738.21L599.63 1739.24L601.61 1740.27L603.6 1741.29L605.58 1742.32L607.56 1743.35L609.55 1744.38L611.53 1745.41L613.51 1746.45L615.5 1747.48L617.48 1748.51L619.47 1749.55L621.45 1750.58L623.43 1751.62L625.42 1752.65L627.4 1753.69L629.39 1754.73L631.37 1755.77L633.35 1756.81L635.34 1757.84L637.32 1758.88L639.3 1759.92L641.29 1760.97L643.27 1762.01L645.26 1763.05L647.24 1764.09L649.22 1765.14L651.21 1766.18L653.19 1767.22L655.18 1768.27L657.16 1769.31L659.14 1770.36L661.13 1771.41L663.11 1772.45L665.1 1773.5L667.08 1774.55L669.06 1775.59L671.05 1776.64L673.03 1777.69L675.01 1778.74L677 1779.79L678.98 1780.84L680.97 1781.89L682.95 1782.94L684.93 1783.99L686.92 1785.05L688.9 1786.1L690.89 1787.15L692.87 1788.2L694.85 1789.26L696.84 1790.31L698.82 1791.37L700.81 1792.42L702.79 1793.48L704.77 1794.53L706.76 1795.59L708.74 1796.64L710.73 1797.7L712.71 1798.76L714.69 1799.81L716.68 1800.87L718.66 1801.93L720.64 1802.99L722.63 1804.04L724.61 1805.1L726.6 1806.16L728.58 1807.22L730.56 1808.28L732.55 1809.34L734.53 1810.4L736.52 1811.46L738.5 1812.52L740.48 1813.58L742.47 1814.65L744.45 1815.71L746.44 1816.77L748.42 1817.83L750.4 1818.9L752.39 1819.96L754.37 1821.02L756.35 1822.09L758.34 1823.15L760.32 1824.22L762.31 1825.28L764.29 1826.35L766.27 1827.41L768.26 1828.48L770.24 1829.54L772.23 1830.61L774.21 1831.67L776.19 1832.74L778.18 1833.81L780.16 1834.88L782.14 1835.94L784.13 1837.01L786.11 1838.08L788.1 1839.15L790.08 1840.22L792.06 1841.29L794.05 1842.36L796.03 1843.43L798.02 1844.5L800 1845.57" stroke="#f00"/>
<path d="M85.8 2107.8L86 2106.95L86.2 2106.13L86.4 2105.32L86.59 2104.52L86.79 2103.74L86.99 2102.98L87.19 2102.23L87.39 2101.49L87.59 2100.77L87.78 2100.05L87.98 2099.35L88.18 2098.67L88.38 2097.99L88.58 2097.33L88.78 2096.67L88.97 2096.03L89.17 2095.39L89.37 2094.77L89.57 2094.15L89.77 2093.55L89.97 2092.95L90.16 2092.36L90.36 2091.78L90.56 2091.21L90.76 2090.64L90.96 2090.08L91.16 2089.53L91.35 2088.98L91.55 2088.44L91.75 2087.91L91.95 2087.38L92.15 2086.86L92.35 2086.34L92.55 2085.82L92.74 2085.32L92.94 2084.81L93.14 2084.31L93.34 2083.82L93.54 2083.33L93.74 2082.84L93.93 2082.35L94.13 2081.87L94.33 2081.39L94.53 2080.92L94.73 2080.44L94.93 2079.97L95.12 2079.5L95.32 2079.03L95.52 2078.57L95.72 2078.1L95.92 2077.64L96.12 2077.18L96.31 2076.72L96.51 2076.26L96.71 2075.81L96.91 2075.35L97.11 2074.89L97.31 2074.44L97.5 2073.98L97.7 2073.53L97.9 2073.07L98.1 2072.62L98.3 2072.16L98.5 2071.7L98.7 2071.25L98.89 2070.79L99.09 2070.33L99.29 2069.88L99.49 2069.42L99.69 2068.96L99.89 2068.5L100.08 2068.04L100.28 2067.58L100.48 2067.11L100.68 2066.65L100.88 2066.18L101.08 2065.71L101.27 2065.24L101.47 2064.77L101.67 2064.3L101.87 2063.83L102.07 2063.35L102.27 2062.87L102.46 2062.39L102.66 2061.91L102.86 2061.43L103.06 2060.94L103.26 2060.45L103.46 2059.96L103.66 2059.47L103.85 2058.98L104.05 2058.48L104.25 2057.98L104.45 2057.48L104.65 2056.98L104.85 2056.47L105.04 2055.96L105.24 2055.45L105.44 2054.93L105.64 2054.42L105.84 2053.9L106.04 2053.38L106.23 2052.85L106.43 2052.32L106.63 2051.79L106.83 2051.26L107.03 2050.73L107.23 2050.19L107.42 2049.65L107.62 2049.1L107.82 2048.56L108.02 2048.01L108.22 2047.46L108.42 2046.9L108.61 2046.34L108.81 2045.78L109.01 2045.22L109.21 2044.65L109.41 2044.08L109.61 2043.51L109.81 2042.93L110 2042.36L110.2 2041.78L110.4 2041.19L110.6 2040.6L110.8 2040.01L111 2039.42L111.19 2038.83L111.39 2038.23L111.59 2037.63L111.79 2037.02L111.99 2036.42L112.19 2035.81L112.38 2035.19L112.58 2034.58L112.78 2033.96L112.98 2033.34L113.18 2032.72L113.38 2032.09L113.57 2031.46L113.77 2030.83L113.97 2030.19L114.17 2029.55L114.37 2028.91L114.57 2028.27L114.76 2027.62L114.96 2026.97L115.16 2026.32L115.36 2025.67L115.56 2025.01L115.76 2024.35L115.96 2023.69L116.15 2023.03L116.35 2022.36L116.55 2021.69L116.75 2021.02L116.95 2020.34L117.15 2019.66L117.34 2018.98L117.54 2018.3L117.74 2017.62L117.94 2016.93L118.14 2016.24L118.34 2015.55L118.53 2014.85L118.73 2014.16L118.93 2013.46L119.13 2012.76L119.33 2012.05L119.53 2011.35L119.72 2010.64L119.92 2009.93L120.12 2009.22L120.32 2008.5L120.52 2007.78L120.72 2007.06L120.91 2006.34L121.11 2005.62L121.31 2004.89L121.51 2004.17L121.71 2003.44L121.91 2002.71L122.11 2001.97L122.3 2001.24L122.5 2000.5L122.7 1999.76L122.9 1999.02L123.1 1998.28L123.3 1997.53L123.49 1996.78L123.69 1996.04L123.89 1995.29L124.09 1994.53L124.29 1993.78L124.49 1993.03L124.68 1992.27L124.88 1991.51L125.08 1990.75L125.28 1989.99L125.48 1989.23L125.68 1988.46L125.87 1987.69L126.07 1986.93L126.27 1986.16L126.47 1985.39L126.67 1984.61L126.87 1983.84L127.06 1983.07L127.26 1982.29L127.46 1981.51L127.66 1980.73L127.86 1979.95L128.06 1979.17L128.26 1978.39L128.45 1977.61L128.65 1976.82L128.85 1976.03L129.05 1975.25L129.25 1974.46L129.45 1973.67L129.64 1972.88L129.84 1972.09L130.04 1971.29L130.24 1970.5L130.44 1969.71L130.64 1968.91L130.83 1968.11L131.03 1967.32L131.23 1966.52L131.43 1965.72L131.63 1964.92L131.83 1964.12L132.02 1963.32L132.22 1962.52L132.42 1961.71L132.62 1960.91L132.82 1960.1L133.02 1959.3L133.21 1958.49L133.41 1957.69L135.4 1949.59L137.38 1941.46L139.37 1933.3L141.35 1925.14L143.33 1916.99L145.32 1908.87L147.3 1900.79L149.28 1892.76L151.27 1884.81L153.25 1876.93L155.24 1869.14L157.22 1861.44L159.2 1853.85L161.19 1846.38L163.17 1839.02L165.16 1831.8L167.14 1824.7L169.12 1817.75L171.11 1810.93L173.09 1804.26L175.07 1797.74L177.06 1791.36L179.04 1785.14L181.03 1779.07L183.01 1773.15L184.99 1767.38L186.98 1761.77L188.96 1756.3L190.95 1750.99L192.93 1745.82L194.91 1740.8L196.9 1735.93L198.88 1731.2L200.87 1726.62L202.85 1722.17L204.83 1717.86L206.82 1713.69L208.8 1709.65L210.78 1705.74L212.77 1701.96L214.75 1698.3L216.74 1694.77L218.72 1691.35L220.7 1688.06L222.69 1684.87L224.67 1681.81L226.66 1678.85L228.64 1675.99L230.62 1673.25L232.61 1670.6L234.59 1668.05L236.58 1665.6L238.56 1663.24L240.54 1660.97L242.53 1658.8L244.51 1656.71L246.5 1654.7L248.48 1652.78L250.46 1650.93L252.45 1649.16L254.43 1647.47L256.41 1645.86L258.4 1644.31L260.38 1642.84L262.37 1641.43L264.35 1640.09L266.33 1638.81L268.32 1637.6L270.3 1636.45L272.29 1635.35L274.27 1634.32L276.25 1633.34L278.24 1632.41L280.22 1631.54L282.21 1630.72L284.19 1629.96L286.17 1629.24L288.16 1628.56L290.14 1627.94L292.12 1627.36L294.11 1626.82L296.09 1626.33L298.08 1625.88L300.06 1625.46L302.04 1625.09L304.03 1624.76L306.01 1624.46L308 1624.2L309.98 1623.98L311.96 1623.79L313.95 1623.63L315.93 1623.51L317.92 1623.42L319.9 1623.36L321.88 1623.33L323.87 1623.32L325.85 1623.35L327.83 1623.4L329.82 1623.48L331.8 1623.59L333.79 1623.72L335.77 1623.88L337.75 1624.06L339.74 1624.26L341.72 1624.49L343.71 1624.74L345.69 1625.01L347.67 1625.3L349.66 1625.61L351.64 1625.94L353.63 1626.29L355.61 1626.66L357.59 1627.05L359.58 1627.45L361.56 1627.88L363.54 1628.31L365.53 1628.77L367.51 1629.24L369.5 1629.73L371.48 1630.23L373.46 1630.74L375.45 1631.27L377.43 1631.82L379.42 1632.37L381.4 1632.94L383.38 1633.53L385.37 1634.12L387.35 1634.73L389.34 1635.35L391.32 1635.98L393.3 1636.62L395.29 1637.27L397.27 1637.93L399.25 1638.6L401.24 1639.28L403.22 1639.97L405.21 1640.67L407.19 1641.38L409.17 1642.1L411.16 1642.83L413.14 1643.57L415.13 1644.31L417.11 1645.06L419.09 1645.82L421.08 1646.59L423.06 1647.36L425.05 1648.14L427.03 1648.93L429.01 1649.72L431 1650.52L432.98 1651.33L434.96 1652.14L436.95 1652.96L438.93 1653.79L440.92 1654.62L442.9 1655.45L444.88 1656.3L446.87 1657.14L448.85 1658L450.84 1658.85L452.82 1659.71L454.8 1660.58L456.79 1661.45L458.77 1662.33L460.76 1663.2L462.74 1664.09L464.72 1664.98L466.71 1665.87L468.69 1666.76L470.67 1667.66L472.66 1668.57L474.64 1669.47L476.63 1670.38L478.61 1671.3L480.59 1672.21L482.58 1673.13L484.56 1674.05L486.55 1674.98L488.53 1675.91L490.51 1676.84L492.5 1677.78L494.48 1678.71L496.47 1679.65L498.45 1680.6L500.43 1681.54L502.42 1682.49L504.4 1683.44L506.38 1684.39L508.37 1685.35L510.35 1686.3L512.34 1687.26L514.32 1688.22L516.3 1689.19L518.29 1690.15L520.27 1691.12L522.26 1692.09L524.24 1693.06L526.22 1694.03L528.21 1695L530.19 1695.98L532.17 1696.96L534.16 1697.94L536.14 1698.92L538.13 1699.9L540.11 1700.89L542.09 1701.87L544.08 1702.86L546.06 1703.85L548.05 1704.84L550.03 1705.83L552.01 1706.82L554 1707.81L555.98 1708.81L557.97 1709.81L559.95 1710.8L561.93 1711.8L563.92 1712.8L565.9 1713.8L567.88 1714.81L569.87 1715.81L571.85 1716.82L573.84 1717.82L575.82 1718.83L577.8 1719.84L579.79 1720.84L581.77 1721.85L583.76 1722.86L585.74 1723.88L587.72 1724.89L589.71 1725.9L591.69 1726.92L593.68 1727.93L595.66 1728.95L597.64 1729.96L599.63 1730.98L601.61 1732L603.6 1733.02L605.58 1734.04L607.56 1735.06L609.55 1736.08L611.53 1737.11L613.51 1738.13L615.5 1739.15L617.48 1740.18L619.47 1741.2L621.45 1742.23L623.43 1743.26L625.42 1744.29L627.4 1745.31L629.39 1746.34L631.37 1747.37L633.35 1748.4L635.34 1749.43L637.32 1750.47L639.3 1751.5L641.29 1752.53L643.27 1753.56L645.26 1754.6L647.24 1755.63L649.22 1756.67L651.21 1757.71L653.19 1758.74L655.18 1759.78L657.16 1760.82L659.14 1761.86L661.13 1762.9L663.11 1763.94L665.1 1764.98L667.08 1766.02L669.06 1767.06L671.05 1768.1L673.03 1769.14L675.01 1770.19L677 1771.23L678.98 1772.28L680.97 1773.32L682.95 1774.37L684.93 1775.41L686.92 1776.46L688.9 1777.51L690.89 1778.56L692.87 1779.6L694.85 1780.65L696.84 1781.7L698.82 1782.75L700.81 1783.8L702.79 1784.85L704.77 1785.91L706.76 1786.96L708.74 1788.01L710.73 1789.07L712.71 1790.12L714.69 1791.17L716.68 1792.23L718.66 1793.29L720.64 1794.34L722.63 1795.4L724.61 1796.46L726.6 1797.52L728.58 1798.57L730.56 1799.63L732.55 1800.69L734.53 1801.75L736.52 1802.81L738.5 1803.88L740.48 1804.94L742.47 1806L744.45 1807.06L746.44 1808.13L748.42 1809.19L750.4 1810.26L752.39 1811.32L754.37 1812.39L756.35 1813.46L758.34 1814.52L760.32 1815.59L762.31 1816.66L764.29 1817.73L766.27 1818.8L768.26 1819.87L770.24 1820.94L772.23 1822.01L774.21 1823.09L776.19 1824.16L778.18 1825.23L780.16 1826.31L782.14 1827.38L784.13 1828.46L786.11 1829.53L788.1 1830.61L790.08 1831.69L792.06 1832.76L794.05 1833.84L796.03 1834.92L798.02 1836L800 1837.08" stroke="#0f0"/>
<path d="M85.8 2110.51L86 2109.63L86.2 2108.76L86.4 2107.9L86.59 2107.06L86.79 2106.22L86.99 2105.4L87.19 2104.58L87.39 2103.78L87.59 2102.99L87.78 2102.21L87.98 2101.44L88.18 2100.68L88.38 2099.93L88.58 2099.19L88.78 2098.45L88.97 2097.73L89.17 2097.02L89.37 2096.31L89.57 2095.62L89.77 2094.93L89.97 2094.25L90.16 2093.57L90.36 2092.91L90.56 2092.25L90.76 2091.59L90.96 2090.95L91.16 2090.31L91.35 2089.68L91.55 2089.05L91.75 2088.43L91.95 2087.81L92.15 2087.2L92.35 2086.6L92.55 2086L92.74 2085.4L92.94 2084.81L93.14 2084.22L93.34 2083.64L93.54 2083.06L93.74 2082.48L93.93 2081.91L94.13 2081.34L94.33 2080.78L94.53 2080.21L94.73 2079.65L94.93 2079.1L95.12 2078.54L95.32 2077.99L95.52 2077.44L95.72 2076.89L95.92 2076.34L96.12 2075.8L96.31 2075.25L96.51 2074.71L96.71 2074.17L96.91 2073.63L97.11 2073.09L97.31 2072.55L97.5 2072.02L97.7 2071.48L97.9 2070.94L98.1 2070.41L98.3 2069.87L98.5 2069.34L98.7 2068.8L98.89 2068.27L99.09 2067.74L99.29 2067.2L99.49 2066.67L99.69 2066.13L99.89 2065.6L100.08 2065.06L100.28 2064.53L100.48 2063.99L100.68 2063.45L100.88 2062.92L101.08 2062.38L101.27 2061.84L101.47 2061.3L101.67 2060.76L101.87 2060.22L102.07 2059.68L102.27 2059.13L102.46 2058.59L102.66 2058.05L102.86 2057.5L103.06 2056.95L103.26 2056.41L103.46 2055.86L103.66 2055.31L103.85 2054.75L104.05 2054.2L104.25 2053.65L104.45 2053.09L104.65 2052.53L104.85 2051.97L105.04 2051.41L105.24 2050.85L105.44 2050.29L105.64 2049.72L105.84 2049.16L106.04 2048.59L106.23 2048.02L106.43 2047.45L106.63 2046.87L106.83 2046.3L107.03 2045.72L107.23 2045.14L107.42 2044.56L107.62 2043.98L107.82 2043.4L108.02 2042.81L108.22 2042.22L108.42 2041.63L108.61 2041.04L108.81 2040.45L109.01 2039.85L109.21 2039.26L109.41 2038.66L109.61 2038.06L109.81 2037.45L110 2036.85L110.2 2036.24L110.4 2035.64L110.6 2035.03L110.8 2034.41L111 2033.8L111.19 2033.19L111.39 2032.57L111.59 2031.95L111.79 2031.33L111.99 2030.71L112.19 2030.08L112.38 2029.45L112.58 2028.83L112.78 2028.2L112.98 2027.56L113.18 2026.93L113.38 2026.3L113.57 2025.66L113.77 2025.02L113.97 2024.38L114.17 2023.74L114.37 2023.09L114.57 2022.45L114.76 2021.8L114.96 2021.15L115.16 2020.5L115.36 2019.85L115.56 2019.2L115.76 2018.54L115.96 2017.88L116.15 2017.22L116.35 2016.56L116.55 2015.9L116.75 2015.24L116.95 2014.57L117.15 2013.91L117.34 2013.24L117.54 2012.57L117.74 2011.9L117.94 2011.23L118.14 2010.55L118.34 2009.88L118.53 2009.2L118.73 2008.52L118.93 2007.84L119.13 2007.16L119.33 2006.48L119.53 2005.79L119.72 2005.11L119.92 2004.42L120.12 2003.73L120.32 2003.04L120.52 2002.35L120.72 2001.66L120.91 2000.97L121.11 2000.27L121.31 1999.58L121.51 1998.88L121.71 1998.18L121.91 1997.48L122.11 1996.78L122.3 1996.08L122.5 1995.37L122.7 1994.67L122.9 1993.96L123.1 1993.25L123.3 1992.54L123.49 1991.83L123.69 1991.12L123.89 1990.41L124.09 1989.7L124.29 1988.98L124.49 1988.27L124.68 1987.55L124.88 1986.83L125.08 1986.11L125.28 1985.39L125.48 1984.67L125.68 1983.95L125.87 1983.23L126.07 1982.5L126.27 1981.78L126.47 1981.05L126.67 1980.32L126.87 1979.59L127.06 1978.86L127.26 1978.13L127.46 1977.4L127.66 1976.66L127.86 1975.93L128.06 1975.19L128.26 1974.46L128.45 1973.72L128.65 1972.98L128.85 1972.24L129.05 1971.5L129.25 1970.76L129.45 1970.01L129.64 1969.27L129.84 1968.52L130.04 1967.78L130.24 1967.03L130.44 1966.28L130.64 1965.53L130.83 1964.78L131.03 1964.03L131.23 1963.28L131.43 1962.52L131.63 1961.77L131.83 1961.01L132.02 1960.25L132.22 1959.49L132.42 1958.74L132.62 1957.98L132.82 1957.21L133.02 1956.45L133.21 1955.69L133.41 1954.92L135.4 1947.22L137.38 1939.4L139.37 1931.46L141.35 1923.4L143.33 1915.22L145.32 1906.94L147.3 1898.6L149.28 1890.22L151.27 1881.83L153.25 1873.45L155.24 1865.12L157.22 1856.85L159.2 1848.66L161.19 1840.58L163.17 1832.63L165.16 1824.81L167.14 1817.14L169.12 1809.64L171.11 1802.31L173.09 1795.17L175.07 1788.21L177.06 1781.46L179.04 1774.91L181.03 1768.55L183.01 1762.39L184.99 1756.43L186.98 1750.65L188.96 1745.05L190.95 1739.63L192.93 1734.38L194.91 1729.3L196.9 1724.38L198.88 1719.63L200.87 1715.03L202.85 1710.58L204.83 1706.29L206.82 1702.13L208.8 1698.12L210.78 1694.24L212.77 1690.5L214.75 1686.88L216.74 1683.4L218.72 1680.03L220.7 1676.78L222.69 1673.65L224.67 1670.64L226.66 1667.73L228.64 1664.94L230.62 1662.24L232.61 1659.65L234.59 1657.16L236.58 1654.76L238.56 1652.46L240.54 1650.25L242.53 1648.12L244.51 1646.09L246.5 1644.13L248.48 1642.26L250.46 1640.47L252.45 1638.76L254.43 1637.12L256.41 1635.56L258.4 1634.07L260.38 1632.65L262.37 1631.3L264.35 1630.01L266.33 1628.79L268.32 1627.63L270.3 1626.54L272.29 1625.5L274.27 1624.52L276.25 1623.6L278.24 1622.73L280.22 1621.92L282.21 1621.15L284.19 1620.44L286.17 1619.78L288.16 1619.16L290.14 1618.6L292.12 1618.07L294.11 1617.59L296.09 1617.16L298.08 1616.76L300.06 1616.4L302.04 1616.09L304.03 1615.81L306.01 1615.57L308 1615.36L309.98 1615.19L311.96 1615.06L313.95 1614.96L315.93 1614.88L317.92 1614.84L319.9 1614.83L321.88 1614.85L323.87 1614.9L325.85 1614.98L327.83 1615.08L329.82 1615.21L331.8 1615.36L333.79 1615.54L335.77 1615.75L337.75 1615.97L339.74 1616.22L341.72 1616.49L343.71 1616.78L345.69 1617.1L347.67 1617.43L349.66 1617.78L351.64 1618.15L353.63 1618.54L355.61 1618.95L357.59 1619.38L359.58 1619.82L361.56 1620.28L363.54 1620.75L365.53 1621.24L367.51 1621.74L369.5 1622.26L371.48 1622.8L373.46 1623.34L375.45 1623.9L377.43 1624.48L379.42 1625.06L381.4 1625.66L383.38 1626.27L385.37 1626.89L387.35 1627.52L389.34 1628.17L391.32 1628.82L393.3 1629.48L395.29 1630.16L397.27 1630.84L399.25 1631.53L401.24 1632.24L403.22 1632.95L405.21 1633.67L407.19 1634.4L409.17 1635.13L411.16 1635.87L413.14 1636.63L415.13 1637.38L417.11 1638.15L419.09 1638.92L421.08 1639.7L423.06 1640.49L425.05 1641.28L427.03 1642.08L429.01 1642.89L431 1643.7L432.98 1644.51L434.96 1645.33L436.95 1646.16L438.93 1646.99L440.92 1647.83L442.9 1648.67L444.88 1649.52L446.87 1650.37L448.85 1651.23L450.84 1652.09L452.82 1652.96L454.8 1653.82L456.79 1654.7L458.77 1655.58L460.76 1656.46L462.74 1657.34L464.72 1658.23L466.71 1659.12L468.69 1660.02L470.67 1660.91L472.66 1661.82L474.64 1662.72L476.63 1663.63L478.61 1664.54L480.59 1665.45L482.58 1666.37L484.56 1667.29L486.55 1668.21L488.53 1669.13L490.51 1670.06L492.5 1670.99L494.48 1671.92L496.47 1672.86L498.45 1673.79L500.43 1674.73L502.42 1675.67L504.4 1676.61L506.38 1677.56L508.37 1678.51L510.35 1679.46L512.34 1680.41L514.32 1681.36L516.3 1682.31L518.29 1683.27L520.27 1684.23L522.26 1685.19L524.24 1686.15L526.22 1687.11L528.21 1688.07L530.19 1689.04L532.17 1690.01L534.16 1690.98L536.14 1691.95L538.13 1692.92L540.11 1693.89L542.09 1694.86L544.08 1695.84L546.06 1696.82L548.05 1697.8L550.03 1698.77L552.01 1699.76L554 1700.74L555.98 1701.72L557.97 1702.7L559.95 1703.69L561.93 1704.68L563.92 1705.66L565.9 1706.65L567.88 1707.64L569.87 1708.63L571.85 1709.62L573.84 1710.62L575.82 1711.61L577.8 1712.6L579.79 1713.6L581.77 1714.6L583.76 1715.59L585.74 1716.59L587.72 1717.59L589.71 1718.59L591.69 1719.59L593.68 1720.6L595.66 1721.6L597.64 1722.6L599.63 1723.61L601.61 1724.61L603.6 1725.62L605.58 1726.63L607.56 1727.63L609.55 1728.64L611.53 1729.65L613.51 1730.66L615.5 1731.68L617.48 1732.69L619.47 1733.7L621.45 1734.71L623.43 1735.73L625.42 1736.74L627.4 1737.76L629.39 1738.78L631.37 1739.8L633.35 1740.81L635.34 1741.83L637.32 1742.85L639.3 1743.87L641.29 1744.9L643.27 1745.92L645.26 1746.94L647.24 1747.97L649.22 1748.99L651.21 1750.02L653.19 1751.04L655.18 1752.07L657.16 1753.1L659.14 1754.13L661.13 1755.16L663.11 1756.19L665.1 1757.22L667.08 1758.25L669.06 1759.28L671.05 1760.32L673.03 1761.35L675.01 1762.39L677 1763.42L678.98 1764.46L680.97 1765.5L682.95 1766.53L684.93 1767.57L686.92 1768.61L688.9 1769.65L690.89 1770.7L692.87 1771.74L694.85 1772.78L696.84 1773.82L698.82 1774.87L700.81 1775.92L702.79 1776.96L704.77 1778.01L706.76 1779.06L708.74 1780.11L710.73 1781.16L712.71 1782.21L714.69 1783.26L716.68 1784.31L718.66 1785.36L720.64 1786.42L722.63 1787.47L724.61 1788.53L726.6 1789.59L728.58 1790.64L730.56 1791.7L732.55 1792.76L734.53 1793.82L736.52 1794.88L738.5 1795.95L740.48 1797.01L742.47 1798.07L744.45 1799.14L746.44 1800.2L748.42 1801.27L750.4 1802.34L752.39 1803.41L754.37 1804.48L756.35 1805.55L758.34 1806.62L760.32 1807.69L762.31 1808.77L764.29 1809.84L766.27 1810.92L768.26 1811.99L770.24 1813.07L772.23 1814.15L774.21 1815.23L776.19 1816.31L778.18 1817.39L780.16 1818.48L782.14 1819.56L784.13 1820.64L786.11 1821.73L788.1 1822.82L790.08 1823.91L792.06 1824.99L794.05 1826.09L796.03 1827.18L798.02 1828.27L800 1829.36" stroke="#00f"/>
</g>
<g class="tk">
<text transform="translate(85 2187.5) scale(1 1.033)" text-anchor="middle">0</text>
<text transform="translate(164.36 2187.5) scale(1 1.033)" text-anchor="middle">10</text>
<text transform="translate(243.71 2187.5) scale(1 1.033)" text-anchor="middle">20</text>
<text transform="translate(323.07 2187.5) scale(1 1.033)" text-anchor="middle">30</text>
<text transform="translate(402.42 2187.5) scale(1 1.033)" text-anchor="middle">40</text>
<text transform="translate(481.78 2187.5) scale(1 1.033)" text-anchor="middle">50</text>
<text transform="translate(561.13 2187.5) scale(1 1.033)" text-anchor="middle">60</text>
<text transform="translate(640.49 2187.5) scale(1 1.033)" text-anchor="middle">70</text>
<text transform="translate(719.84 2187.5) scale(1 1.033)" text-anchor="middle">80</text>
<text transform="translate(799.2 2187.5) scale(1 1.033)" text-anchor="middle">90</text>
<text transform="translate(75.8 2164.5) scale(1 1.033)" text-anchor="end">300</text>
<text transform="translate(75.8 2070.43) scale(1 1.033)" text-anchor="end">400</text>
<text transform="translate(75.8 1976.37) scale(1 1.033)" text-anchor="end">500</text>
<text transform="translate(75.8 1882.3) scale(1 1.033)" text-anchor="end">600</text>
<text transform="translate(75.8 1788.23) scale(1 1.033)" text-anchor="end">700</text>
<text transform="translate(75.8 1694.17) scale(1 1.033)" text-anchor="end">800</text>
<text transform="translate(75.8 1600.1) scale(1 1.033)" text-anchor="end">900</text>
</g>
<text transform="translate(441.9 2221) scale(1 1.06)" class="lb" text-anchor="middle">Time in days</text>
<text transform="translate(18.7 1873.3) rotate(-90) scale(1 1.06)" class="lb" text-anchor="middle" xml:space="preserve">Infected rodents I<tspan class="sb" dy="9.6">r</tspan></text>
<rect x="502.4" y="1851.3" width="177.7" height="150.9" fill="#fff" stroke="#262626" stroke-width="1.6"/>
<path d="M513.1 1872.7h70.4" stroke="#000" stroke-width="4.55"/>
<text transform="translate(588.3 1877.9) scale(1 1.03)" class="lg" xml:space="preserve"><tspan class="al">α</tspan><tspan class="s2" dx="1" dy="9.32">2</tspan><tspan dx="2" dy="-9.32">= 0.55</tspan></text>
<path d="M513.1 1908.7h70.4" stroke="#f00" stroke-width="4.55"/>
<text transform="translate(588.3 1913.9) scale(1 1.03)" class="lg" xml:space="preserve"><tspan class="al">α</tspan><tspan class="s2" dx="1" dy="9.32">2</tspan><tspan dx="2" dy="-9.32">=0.65</tspan></text>
<path d="M513.1 1944.7h70.4" stroke="#0f0" stroke-width="4.55"/>
<text transform="translate(588.3 1949.9) scale(1 1.03)" class="lg" xml:space="preserve"><tspan class="al">α</tspan><tspan class="s2" dx="1" dy="9.32">2</tspan><tspan dx="2" dy="-9.32">= 0.75</tspan></text>
<path d="M513.1 1980.7h70.4" stroke="#00f" stroke-width="4.55"/>
<text transform="translate(588.3 1985.9) scale(1 1.03)" class="lg" xml:space="preserve"><tspan class="al">α</tspan><tspan class="s2" dx="1" dy="9.32">2</tspan><tspan dx="2" dy="-9.32"> = 0.85</tspan></text>
<text transform="translate(419.5 2278)" class="cp" text-anchor="middle">(e)</text>
</g>
</svg>
</body>
</html>
